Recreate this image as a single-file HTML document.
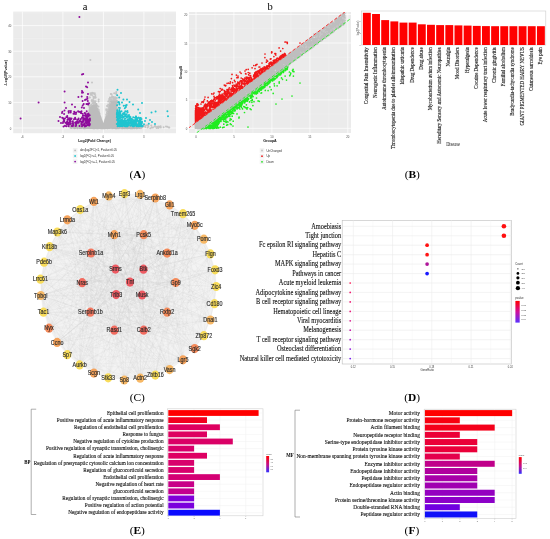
<!DOCTYPE html>
<html><head><meta charset="utf-8"><title>Figure</title>
<style>html,body{margin:0;padding:0;background:#fff;} svg{display:block;}</style></head>
<body><svg width="550" height="539" viewBox="0 0 550 539">
<rect width="550" height="539" fill="#fff"/>
<rect x='13.2' y='11.6' width='162.8' height='121.6' fill='#ebebeb'/>
<line x1='42.7' y1='11.6' x2='42.7' y2='133.2' stroke='#f4f4f4' stroke-width='0.4'/>
<line x1='83.2' y1='11.6' x2='83.2' y2='133.2' stroke='#f4f4f4' stroke-width='0.4'/>
<line x1='123.7' y1='11.6' x2='123.7' y2='133.2' stroke='#f4f4f4' stroke-width='0.4'/>
<line x1='164.2' y1='11.6' x2='164.2' y2='133.2' stroke='#f4f4f4' stroke-width='0.4'/>
<line x1='13.2' y1='115.2' x2='176' y2='115.2' stroke='#f4f4f4' stroke-width='0.4'/>
<line x1='13.2' y1='89.6' x2='176' y2='89.6' stroke='#f4f4f4' stroke-width='0.4'/>
<line x1='13.2' y1='64.0' x2='176' y2='64.0' stroke='#f4f4f4' stroke-width='0.4'/>
<line x1='13.2' y1='38.4' x2='176' y2='38.4' stroke='#f4f4f4' stroke-width='0.4'/>
<line x1='13.2' y1='12.8' x2='176' y2='12.8' stroke='#f4f4f4' stroke-width='0.4'/>
<line x1='22.4' y1='11.6' x2='22.4' y2='133.2' stroke='#fff' stroke-width='0.7'/>
<line x1='62.9' y1='11.6' x2='62.9' y2='133.2' stroke='#fff' stroke-width='0.7'/>
<line x1='103.4' y1='11.6' x2='103.4' y2='133.2' stroke='#fff' stroke-width='0.7'/>
<line x1='143.9' y1='11.6' x2='143.9' y2='133.2' stroke='#fff' stroke-width='0.7'/>
<line x1='13.2' y1='128.0' x2='176' y2='128.0' stroke='#fff' stroke-width='0.7'/>
<line x1='13.2' y1='102.4' x2='176' y2='102.4' stroke='#fff' stroke-width='0.7'/>
<line x1='13.2' y1='76.8' x2='176' y2='76.8' stroke='#fff' stroke-width='0.7'/>
<line x1='13.2' y1='51.2' x2='176' y2='51.2' stroke='#fff' stroke-width='0.7'/>
<line x1='13.2' y1='25.6' x2='176' y2='25.6' stroke='#fff' stroke-width='0.7'/>
<path d='M93.0 124.2h0M116.2 123.8h0M108.0 125.3h0M74.1 125.9h0M72.7 125.6h0M75.0 123.9h0M100.1 127.5h0M78.8 124.6h0M114.5 128.0h0M111.0 125.4h0M139.3 123.7h0M131.0 124.9h0M80.2 124.1h0M91.9 127.4h0M82.8 126.3h0M115.4 125.3h0M108.9 123.8h0M74.2 124.5h0M118.3 125.6h0M92.3 126.3h0M102.2 124.9h0M126.4 126.9h0M87.3 126.3h0M107.3 127.7h0M121.8 124.9h0M139.6 124.1h0M99.7 127.1h0M80.8 125.8h0M72.8 126.7h0M124.3 126.3h0M132.2 125.0h0M119.4 126.4h0M111.2 125.7h0M129.6 128.0h0M103.7 126.7h0M74.3 126.9h0M115.9 128.3h0M128.4 124.9h0M97.4 126.7h0M71.6 125.7h0M81.9 124.1h0M74.2 127.2h0M79.2 124.7h0M97.8 127.7h0M75.7 125.7h0M109.0 127.7h0M128.2 127.6h0M89.8 125.5h0M95.5 127.7h0M138.0 124.2h0M82.5 124.6h0M86.6 125.8h0M111.8 124.8h0M70.3 125.5h0M96.2 126.2h0M137.7 126.8h0M106.6 126.5h0M118.0 123.8h0M133.9 127.2h0M132.1 127.3h0M97.9 125.4h0M77.4 126.5h0M74.4 123.8h0M84.8 124.3h0M94.1 123.8h0M70.0 124.2h0M77.2 125.2h0M71.8 127.7h0M113.6 124.2h0M87.9 125.2h0M95.9 124.1h0M130.3 128.3h0M103.1 125.8h0M76.1 124.0h0M94.3 124.8h0M128.8 124.3h0M71.6 128.1h0M107.5 124.2h0M108.6 123.6h0M107.5 128.2h0M131.3 126.8h0M88.5 125.3h0M81.9 127.2h0M107.8 127.2h0M93.4 124.6h0M127.6 128.2h0M130.5 127.4h0M128.1 127.1h0M86.1 126.0h0M95.2 123.6h0M72.0 124.8h0M88.4 126.8h0M137.9 125.6h0M136.5 128.2h0M137.8 125.3h0M85.7 124.6h0M84.0 124.5h0M114.3 127.8h0M129.7 125.8h0M116.4 127.3h0M76.0 126.7h0M134.6 127.3h0M123.3 125.8h0M82.7 127.3h0M93.6 127.3h0M139.0 125.4h0M98.5 128.0h0M121.5 124.3h0M79.0 124.2h0M134.2 127.4h0M80.4 127.5h0M139.6 126.7h0M94.9 126.1h0M79.3 123.6h0M138.9 126.6h0M107.4 128.0h0M100.8 127.7h0M128.7 124.5h0M87.9 124.9h0M87.1 126.3h0M88.4 125.5h0M79.3 127.9h0M95.1 125.7h0M111.4 127.8h0M99.9 127.9h0M105.6 126.1h0M107.2 123.6h0M101.2 124.4h0M70.3 127.3h0M82.2 125.8h0M121.5 126.2h0M93.1 126.0h0M109.4 127.3h0M77.5 126.2h0M87.6 124.8h0M124.8 125.9h0M109.9 127.1h0M134.8 125.6h0M113.5 125.9h0M106.4 126.8h0M102.1 126.1h0M103.9 128.0h0M119.6 127.7h0M136.9 124.7h0M109.7 128.0h0M129.6 124.2h0M78.6 125.6h0M75.2 124.7h0M75.2 126.7h0M125.7 127.8h0M81.0 126.9h0M116.9 124.2h0M132.7 128.1h0M85.6 128.1h0M98.3 125.8h0M140.3 127.5h0M81.5 125.6h0M106.6 125.1h0M83.9 125.0h0M121.3 123.6h0M109.3 125.6h0M71.3 125.1h0M114.3 126.0h0M74.6 128.2h0M126.0 128.2h0M77.4 124.8h0M72.8 127.2h0M89.2 124.1h0M100.0 127.9h0M128.1 124.7h0M80.6 127.9h0M110.5 126.9h0M76.4 123.8h0M118.9 125.5h0M75.1 128.0h0M115.0 127.3h0M75.9 127.6h0M74.7 127.6h0M102.2 125.1h0M109.3 127.9h0M89.0 124.1h0M107.4 124.6h0M77.8 124.3h0M73.6 124.5h0M92.2 125.0h0M123.9 124.9h0M105.5 124.4h0M94.6 123.6h0M87.8 123.6h0M122.0 126.1h0M83.5 125.8h0M136.4 124.0h0M128.1 125.6h0M105.1 127.5h0M97.9 125.9h0M118.8 128.2h0M94.3 127.5h0M120.2 126.6h0M98.7 125.2h0M73.9 124.1h0M75.0 127.1h0M88.1 124.3h0M76.0 127.5h0M131.8 126.7h0M90.0 124.7h0M90.8 125.7h0M81.2 125.6h0M88.7 128.1h0M139.1 126.1h0M87.4 128.1h0M92.0 125.2h0M70.1 125.3h0M103.7 125.9h0M84.3 125.9h0M70.4 124.8h0M76.4 125.4h0M73.0 123.6h0M91.6 124.6h0M111.6 126.0h0M123.3 126.7h0M120.8 127.7h0M97.7 125.1h0M139.9 124.2h0M121.4 126.6h0M73.1 127.5h0M133.3 126.5h0M122.1 127.4h0M79.9 126.0h0M105.8 127.5h0M127.1 127.5h0M111.5 127.8h0M118.5 126.8h0M86.3 123.6h0M79.4 125.2h0M77.4 127.5h0M109.7 126.5h0M114.5 126.8h0M104.7 123.5h0M126.6 127.1h0M105.7 126.1h0M116.8 123.8h0M122.3 124.7h0M75.3 124.8h0M121.8 124.5h0M122.5 128.2h0M105.1 125.3h0M104.0 126.8h0M124.5 126.5h0M115.6 123.9h0M80.5 124.7h0M122.8 125.0h0M110.3 123.6h0M74.3 124.8h0M117.7 126.8h0M118.0 124.9h0M106.7 125.7h0M133.5 124.5h0M139.4 128.0h0M71.2 125.7h0M128.2 128.1h0M101.9 124.8h0M84.9 128.0h0M85.0 126.3h0M80.1 126.0h0M137.6 124.1h0M128.2 125.9h0M133.0 126.9h0M86.4 127.8h0M104.5 123.6h0M70.3 125.9h0M102.0 124.9h0M80.0 125.2h0M92.4 127.5h0M70.1 127.1h0M129.6 124.1h0M135.8 126.9h0M134.0 124.9h0M96.4 125.4h0M140.9 126.3h0M95.6 125.6h0M89.5 123.7h0M77.2 127.5h0M90.3 128.0h0M87.7 124.8h0M106.3 124.4h0M96.5 128.1h0M132.8 127.4h0M114.8 127.9h0M136.8 126.1h0M121.1 123.7h0M122.0 125.7h0M123.4 126.6h0M90.3 123.7h0M135.8 124.1h0M91.1 127.0h0M139.3 124.7h0M116.6 124.9h0M109.6 125.4h0M81.9 124.3h0M84.8 127.8h0M105.3 124.6h0M134.3 128.3h0M101.9 124.2h0M83.7 123.9h0M94.3 123.9h0M87.0 124.7h0M110.4 127.8h0M123.2 125.5h0M99.4 126.0h0M96.8 125.1h0M74.4 124.8h0M138.7 124.1h0M105.7 126.5h0M131.3 124.5h0M89.2 124.7h0M98.4 125.6h0M137.7 127.6h0M132.0 123.6h0M72.3 126.9h0M133.6 125.8h0M111.7 123.5h0M97.8 127.9h0M128.6 127.6h0M139.0 124.7h0M77.7 124.2h0M107.1 126.8h0M136.8 127.0h0M116.0 127.2h0M102.5 126.1h0M72.8 127.3h0M86.5 127.9h0M115.8 125.0h0M79.1 124.7h0M115.2 126.9h0M78.0 123.8h0M107.2 126.3h0M97.6 124.6h0M112.7 123.6h0M91.4 125.7h0M138.1 126.6h0M132.7 125.8h0M86.7 124.7h0M138.2 126.9h0M91.8 123.6h0M105.4 126.7h0M99.8 124.7h0M117.4 127.9h0M86.1 123.7h0M94.0 125.5h0M118.5 124.5h0M126.6 127.0h0M105.8 124.5h0M138.9 125.0h0M128.2 124.6h0M85.7 127.2h0M90.9 128.1h0M105.2 124.4h0M85.9 125.5h0M117.2 128.1h0M80.4 125.4h0M85.1 128.2h0M80.1 123.7h0M74.3 125.4h0M133.8 127.7h0M122.0 128.3h0M136.1 125.1h0M83.2 128.0h0M123.0 123.7h0M117.2 125.3h0M96.5 125.1h0M82.0 123.5h0M89.9 125.2h0M137.8 124.1h0M138.5 124.5h0M95.3 127.4h0M128.4 125.6h0M73.5 125.8h0M96.5 127.9h0M83.7 125.2h0M133.7 123.6h0M99.2 127.4h0M124.4 123.7h0M72.5 123.8h0M135.3 124.7h0M123.1 127.8h0M94.1 124.8h0M138.0 126.5h0M88.6 126.9h0M92.5 124.8h0M70.3 127.1h0M135.1 126.5h0M137.0 123.6h0M86.6 125.8h0M137.9 128.1h0M97.4 124.7h0M100.5 125.9h0M135.9 124.4h0M127.0 127.0h0M128.4 127.2h0M113.1 125.1h0M92.7 125.2h0M125.5 123.9h0M84.0 127.1h0M87.6 123.8h0M72.4 126.2h0M93.1 128.2h0M132.7 128.2h0M88.8 123.9h0M76.8 125.9h0M120.4 125.6h0M86.6 125.5h0M114.0 126.7h0M123.1 127.6h0M117.2 124.1h0M129.7 124.9h0M110.2 125.3h0M122.4 124.5h0M87.6 124.7h0M80.9 127.7h0M111.1 125.1h0M98.1 128.3h0M106.0 124.6h0M127.4 126.6h0M140.4 124.0h0M103.7 127.4h0M129.7 127.9h0M72.9 124.9h0M78.5 124.4h0M139.1 126.3h0M136.0 125.3h0M131.5 125.7h0M88.5 127.2h0M137.1 124.0h0M112.3 126.5h0M85.5 125.3h0M80.0 124.5h0M88.1 126.4h0M116.3 124.5h0M70.8 125.1h0M118.2 124.4h0M92.2 124.5h0M126.5 126.1h0M74.5 124.0h0M98.1 126.1h0M115.4 123.9h0M81.6 126.8h0M99.1 124.9h0M91.8 128.1h0M92.2 126.2h0M95.4 125.5h0M131.4 128.3h0M95.8 124.4h0M121.7 124.5h0M70.4 127.8h0M100.1 127.4h0M98.8 127.7h0M102.7 124.3h0M71.1 126.1h0M115.5 127.9h0M76.3 126.5h0M96.3 125.9h0M80.4 124.9h0M107.0 127.9h0M77.7 125.9h0M127.1 128.1h0M84.0 124.1h0M137.0 128.2h0M104.3 123.8h0M135.8 125.4h0M134.2 126.5h0M128.5 124.3h0M125.8 124.6h0M98.7 127.6h0M128.9 124.4h0M85.5 125.4h0M106.8 125.3h0M78.7 124.7h0M121.5 127.8h0M72.9 126.2h0M123.8 123.7h0M129.5 124.1h0M112.6 126.1h0M114.5 125.0h0M99.8 126.3h0M100.2 126.7h0M101.7 125.6h0M71.7 126.5h0M104.8 124.6h0M124.2 127.2h0M102.5 124.4h0M79.1 125.6h0M76.5 125.6h0M106.2 123.7h0M115.2 123.9h0M122.1 127.2h0M106.3 123.8h0M105.8 125.3h0M137.5 124.2h0M130.9 128.3h0M122.0 127.4h0M83.8 128.2h0M104.9 128.1h0M135.0 124.3h0M126.0 128.0h0M74.7 125.2h0M123.7 124.3h0M133.7 124.8h0M127.9 124.2h0M105.7 127.9h0M84.8 124.8h0M105.9 125.0h0M72.6 124.4h0M81.4 128.0h0M118.3 127.8h0M82.0 127.3h0M78.2 126.0h0M115.2 125.2h0M132.0 126.2h0M111.2 127.7h0M77.4 128.3h0M114.7 125.4h0M126.6 124.8h0M140.3 126.3h0M95.6 127.2h0M101.4 124.3h0M122.8 123.7h0M128.2 124.7h0M115.4 128.2h0M111.6 126.7h0M92.2 123.5h0M72.4 124.2h0M113.7 125.6h0M106.4 127.8h0M79.4 124.6h0M116.4 123.6h0M70.2 125.2h0M77.6 125.2h0M85.9 126.3h0M111.8 124.5h0M114.3 125.8h0M79.6 128.0h0M87.3 124.2h0M76.8 126.6h0M131.9 127.3h0M98.5 124.8h0M70.8 126.6h0M109.9 125.2h0M115.8 125.6h0M136.5 127.0h0M87.6 127.8h0M73.1 126.1h0M98.8 124.6h0M74.1 127.2h0M70.9 126.1h0M136.8 124.2h0M84.2 126.4h0M106.0 126.6h0M127.8 124.3h0M92.0 124.9h0M73.4 127.8h0M125.6 126.9h0M70.5 127.6h0M122.9 125.7h0M122.7 125.7h0M86.0 124.0h0M86.5 123.7h0M93.8 127.1h0M119.4 127.6h0M120.5 124.8h0M109.3 125.6h0M126.0 126.0h0M88.8 126.6h0M138.5 124.5h0M132.5 123.6h0M88.5 124.6h0M122.8 128.0h0M123.0 125.1h0M132.5 125.1h0M87.0 127.9h0M114.8 126.8h0M117.2 128.2h0M103.3 127.5h0M119.5 127.6h0M101.0 127.0h0M110.5 125.0h0M85.0 126.5h0M75.5 127.9h0M80.3 123.6h0M77.6 128.0h0M94.5 124.2h0M72.0 123.7h0M119.2 126.5h0M119.5 127.0h0M74.7 126.3h0M95.8 127.4h0M128.2 127.8h0M74.7 127.7h0M134.9 128.0h0M77.6 124.5h0M77.9 123.7h0M130.2 127.4h0M115.0 127.5h0M114.8 124.9h0M77.1 124.0h0M123.8 124.5h0M92.7 125.5h0M71.5 124.7h0M90.1 126.9h0M96.1 125.0h0M138.4 125.9h0M130.4 126.5h0M72.2 125.5h0M101.0 127.2h0M94.6 126.9h0M108.2 124.5h0M131.2 123.9h0M128.2 124.3h0M70.1 124.5h0M124.1 128.2h0M70.3 125.9h0M104.9 127.3h0M83.1 125.9h0M94.7 127.5h0M88.5 128.0h0M90.1 124.5h0M119.7 125.9h0M77.8 126.6h0M75.7 127.3h0M119.5 127.3h0M114.6 125.2h0M98.5 125.4h0M133.2 123.9h0M133.1 123.6h0M84.6 124.8h0M134.0 125.9h0M96.9 127.7h0M86.6 125.7h0M107.7 127.1h0M123.5 126.6h0M94.7 125.1h0M81.0 127.5h0M117.0 127.1h0M82.0 125.6h0M124.9 126.3h0M79.0 125.7h0M132.8 124.6h0M83.6 124.9h0M96.5 119.6h0M101.0 123.6h0M95.1 127.0h0M92.3 121.0h0M94.8 122.6h0M91.0 127.9h0M94.3 105.7h0M93.2 114.2h0M89.5 115.5h0M95.2 120.9h0M94.3 110.7h0M92.5 122.3h0M102.6 126.0h0M92.4 123.7h0M94.8 109.2h0M91.1 123.2h0M100.7 124.4h0M95.9 117.5h0M92.5 127.5h0M94.3 119.6h0M100.8 126.4h0M95.9 110.9h0M97.0 108.6h0M101.1 122.1h0M101.3 121.8h0M94.6 110.3h0M95.3 108.4h0M89.3 122.2h0M93.3 110.5h0M93.6 116.0h0M95.3 119.4h0M98.6 117.2h0M102.4 127.5h0M90.1 124.5h0M102.1 126.9h0M91.3 124.5h0M98.2 109.9h0M89.5 127.2h0M98.5 115.1h0M90.7 108.9h0M92.6 123.1h0M94.2 108.0h0M102.0 127.0h0M91.7 125.8h0M97.9 124.0h0M98.7 126.5h0M100.4 126.4h0M92.1 121.2h0M96.8 122.3h0M95.5 125.4h0M97.1 112.0h0M92.6 108.2h0M96.3 105.0h0M95.9 107.2h0M96.2 115.9h0M96.9 125.2h0M89.4 124.8h0M95.9 117.5h0M98.7 125.6h0M94.6 114.3h0M102.8 124.7h0M98.3 121.6h0M89.7 119.7h0M98.9 127.2h0M94.0 127.9h0M96.5 115.8h0M102.0 121.8h0M99.4 122.7h0M94.1 125.0h0M94.5 115.7h0M96.7 122.9h0M92.3 115.2h0M95.3 117.4h0M101.0 121.3h0M101.0 122.4h0M96.4 110.5h0M96.4 127.7h0M98.5 124.6h0M94.0 112.0h0M93.5 118.5h0M98.3 124.3h0M89.9 122.1h0M101.8 125.0h0M90.0 112.7h0M89.4 110.5h0M102.3 126.1h0M98.6 124.6h0M102.1 125.9h0M98.0 121.1h0M99.1 121.9h0M98.9 115.3h0M98.7 119.0h0M100.1 116.8h0M91.9 106.1h0M100.2 127.2h0M98.5 117.2h0M100.9 126.1h0M97.2 112.1h0M93.6 114.6h0M93.8 114.8h0M98.3 127.1h0M90.1 118.7h0M89.9 108.7h0M100.7 123.8h0M102.3 125.1h0M89.5 114.8h0M97.6 127.0h0M103.1 126.7h0M95.1 106.5h0M98.4 114.0h0M91.4 105.8h0M89.4 121.3h0M91.0 127.5h0M90.5 125.4h0M91.1 106.0h0M99.4 117.1h0M99.6 116.8h0M90.0 123.3h0M99.4 126.1h0M99.6 115.2h0M98.2 122.8h0M95.8 126.6h0M92.9 127.5h0M99.4 113.6h0M89.5 120.6h0M100.8 118.8h0M93.7 121.9h0M91.6 125.1h0M96.2 105.0h0M94.5 118.1h0M95.5 120.4h0M91.3 123.7h0M94.4 119.8h0M98.2 117.4h0M94.7 123.1h0M102.6 127.3h0M97.3 113.0h0M90.2 127.7h0M99.2 125.6h0M94.0 118.9h0M103.1 127.8h0M97.8 114.4h0M95.3 125.6h0M94.6 120.7h0M97.8 126.2h0M100.7 120.6h0M89.3 112.1h0M95.3 118.2h0M100.8 127.1h0M89.9 124.6h0M100.7 126.9h0M97.4 112.7h0M101.3 126.6h0M99.0 126.9h0M94.2 106.4h0M97.1 123.8h0M92.1 122.5h0M102.4 124.3h0M97.9 121.9h0M95.9 108.8h0M92.9 122.5h0M100.5 122.1h0M90.5 123.9h0M100.2 118.8h0M97.5 126.1h0M101.8 124.8h0M96.0 118.2h0M92.0 109.7h0M91.8 121.4h0M94.4 117.8h0M95.0 116.6h0M91.4 106.5h0M103.4 126.9h0M90.8 120.0h0M100.4 118.4h0M97.7 115.0h0M96.6 105.0h0M89.8 128.1h0M101.5 124.1h0M97.3 112.3h0M100.3 121.4h0M102.6 127.2h0M100.8 127.9h0M92.9 105.8h0M92.1 109.3h0M90.5 107.0h0M97.2 125.4h0M95.8 127.0h0M102.1 122.5h0M97.7 116.1h0M91.0 127.4h0M92.9 118.1h0M98.3 127.5h0M98.7 118.0h0M95.6 107.7h0M102.9 128.3h0M92.4 105.9h0M92.9 113.1h0M102.0 127.7h0M101.1 119.3h0M100.4 124.9h0M98.4 128.0h0M90.1 109.2h0M99.9 127.5h0M98.8 116.6h0M97.6 123.3h0M90.8 113.0h0M92.9 107.8h0M96.1 107.8h0M92.7 108.3h0M98.9 111.9h0M99.4 116.3h0M89.8 126.7h0M92.4 126.8h0M101.5 127.4h0M91.3 115.7h0M90.7 126.7h0M101.2 124.9h0M95.7 112.1h0M100.9 123.0h0M98.2 112.1h0M92.4 106.4h0M99.4 121.6h0M91.3 125.4h0M93.1 114.5h0M91.5 111.6h0M101.1 122.1h0M91.7 116.6h0M93.8 126.0h0M90.9 127.8h0M90.1 126.0h0M98.7 114.8h0M96.0 110.7h0M92.9 109.6h0M94.4 128.1h0M103.4 128.1h0M90.7 112.3h0M101.9 121.9h0M99.5 118.1h0M103.1 125.3h0M100.7 121.2h0M91.3 105.6h0M101.0 123.7h0M91.9 115.3h0M102.2 123.6h0M97.4 109.8h0M91.8 123.0h0M99.3 116.2h0M90.4 107.8h0M97.9 118.3h0M93.2 109.6h0M97.9 122.6h0M100.7 123.9h0M92.2 106.7h0M99.6 119.9h0M99.5 114.5h0M100.7 121.2h0M101.2 127.0h0M96.3 103.9h0M102.1 125.1h0M101.6 122.5h0M91.9 124.4h0M94.5 108.2h0M94.5 118.5h0M89.4 117.7h0M95.6 116.4h0M91.0 121.8h0M100.8 126.9h0M93.8 121.4h0M94.7 122.3h0M90.2 125.5h0M102.8 126.2h0M96.5 117.0h0M96.9 105.8h0M102.9 125.5h0M91.9 107.6h0M92.8 124.0h0M89.7 108.3h0M99.2 115.7h0M89.5 119.4h0M97.4 118.2h0M99.2 114.4h0M101.6 126.0h0M89.9 108.8h0M96.3 115.9h0M93.2 107.6h0M95.0 107.3h0M97.6 125.4h0M91.4 118.5h0M99.8 117.0h0M100.9 127.7h0M94.8 114.3h0M101.1 123.9h0M94.9 126.9h0M100.3 120.3h0M92.7 112.8h0M95.4 127.8h0M100.6 127.3h0M100.8 126.7h0M90.1 117.5h0M102.8 128.0h0M92.8 114.8h0M98.2 116.4h0M96.8 106.6h0M95.4 116.2h0M89.6 109.3h0M103.0 127.5h0M102.5 126.5h0M100.7 127.1h0M101.8 121.2h0M98.3 114.9h0M98.9 116.2h0M96.9 126.6h0M98.1 113.9h0M96.6 114.9h0M102.7 125.2h0M93.6 119.9h0M91.0 119.1h0M102.8 126.3h0M93.1 115.8h0M96.8 108.6h0M91.0 108.6h0M93.4 114.3h0M93.4 110.4h0M90.5 118.1h0M101.1 124.7h0M97.3 120.8h0M92.1 121.6h0M95.8 117.2h0M97.9 117.9h0M93.7 110.3h0M92.4 117.0h0M94.7 118.3h0M89.5 114.0h0M101.5 122.0h0M97.1 117.1h0M93.3 128.0h0M93.5 122.9h0M91.5 106.9h0M101.6 123.9h0M90.2 114.6h0M95.5 121.8h0M90.8 110.8h0M102.8 127.3h0M91.5 113.1h0M94.3 120.5h0M98.0 125.4h0M100.9 123.4h0M99.7 124.7h0M100.0 121.5h0M100.4 124.9h0M102.2 123.1h0M101.6 120.4h0M100.1 123.1h0M96.3 127.4h0M97.4 115.8h0M100.3 126.8h0M97.9 116.0h0M95.7 115.0h0M99.5 118.0h0M94.8 117.5h0M94.7 111.9h0M100.4 126.5h0M96.3 114.6h0M91.9 112.3h0M91.3 118.6h0M97.5 109.2h0M102.3 124.4h0M101.2 126.8h0M102.8 125.1h0M95.3 126.1h0M89.5 107.3h0M97.3 117.4h0M102.3 127.0h0M96.9 128.3h0M96.6 116.8h0M99.0 118.3h0M94.3 118.6h0M94.3 127.1h0M98.8 120.4h0M90.7 114.2h0M95.0 117.7h0M97.4 125.7h0M102.9 126.4h0M95.5 119.1h0M103.3 126.8h0M96.8 124.0h0M91.7 112.6h0M103.1 127.8h0M96.5 106.9h0M101.9 126.2h0M100.9 128.2h0M101.8 124.2h0M91.5 112.1h0M96.5 116.3h0M92.0 109.4h0M98.2 120.8h0M94.3 128.2h0M98.3 110.6h0M95.1 123.1h0M93.6 121.0h0M89.4 113.0h0M101.2 124.5h0M98.7 114.6h0M96.3 117.2h0M93.1 120.0h0M96.8 128.2h0M97.4 115.8h0M91.0 109.2h0M100.0 116.7h0M90.7 109.6h0M96.7 124.1h0M97.9 124.5h0M90.2 106.2h0M100.2 119.9h0M99.4 118.6h0M91.7 111.5h0M90.7 126.1h0M97.5 114.7h0M95.6 113.2h0M90.1 125.9h0M97.5 127.5h0M95.5 119.0h0M92.8 105.9h0M102.4 127.5h0M93.7 125.9h0M100.8 121.1h0M97.8 127.5h0M96.3 127.1h0M92.7 114.0h0M99.4 116.8h0M93.7 125.3h0M96.1 123.2h0M92.7 109.0h0M94.4 108.8h0M103.0 125.9h0M97.2 108.9h0M96.8 114.1h0M95.0 105.6h0M91.0 124.3h0M94.3 110.2h0M92.0 111.8h0M92.6 105.8h0M98.7 116.9h0M91.5 121.6h0M90.6 111.9h0M101.1 120.0h0M95.6 124.3h0M100.6 119.1h0M94.3 121.6h0M94.6 127.3h0M92.2 127.2h0M96.4 109.4h0M95.7 107.0h0M99.3 117.0h0M102.0 125.6h0M94.5 110.2h0M97.9 112.7h0M101.6 121.4h0M96.5 117.3h0M93.1 122.9h0M94.7 120.0h0M97.3 113.4h0M94.8 106.2h0M91.8 124.9h0M93.8 120.3h0M90.8 118.4h0M94.4 116.3h0M93.5 106.2h0M93.7 109.9h0M91.1 121.9h0M93.3 114.2h0M102.1 126.9h0M101.7 127.3h0M91.2 111.8h0M89.7 121.2h0M98.7 117.1h0M95.1 120.0h0M99.2 116.5h0M101.2 122.5h0M98.2 112.9h0M90.9 126.3h0M99.7 124.2h0M89.9 107.0h0M91.6 109.9h0M93.6 113.6h0M89.9 113.0h0M98.3 113.2h0M101.1 124.3h0M99.4 117.2h0M95.4 120.6h0M94.2 104.4h0M101.1 126.2h0M93.3 105.7h0M101.3 124.9h0M90.0 111.5h0M90.9 123.6h0M92.3 126.3h0M99.9 116.1h0M99.1 118.7h0M99.8 126.0h0M93.3 106.8h0M102.6 125.7h0M102.4 126.7h0M99.7 125.9h0M98.2 118.0h0M90.1 121.6h0M95.3 116.4h0M102.4 123.6h0M100.0 116.0h0M99.2 125.3h0M93.0 117.7h0M103.0 127.0h0M97.0 111.3h0M90.1 114.0h0M95.1 108.9h0M93.7 107.8h0M99.3 123.2h0M92.7 110.6h0M96.6 115.0h0M102.5 125.1h0M93.5 125.6h0M91.3 118.3h0M94.0 123.9h0M97.0 122.9h0M91.7 120.6h0M97.7 117.4h0M100.1 126.2h0M90.9 112.2h0M94.4 109.2h0M90.2 112.2h0M92.1 121.4h0M95.6 106.5h0M93.9 115.6h0M94.4 108.3h0M90.3 106.1h0M103.3 127.7h0M90.5 121.9h0M103.1 127.0h0M90.8 116.7h0M95.4 108.5h0M97.0 105.8h0M102.3 126.3h0M98.2 127.1h0M98.5 115.0h0M92.8 108.2h0M89.7 123.3h0M101.1 121.7h0M91.9 120.0h0M101.2 127.6h0M91.7 123.4h0M101.0 125.8h0M93.9 108.9h0M100.9 121.5h0M94.5 117.5h0M94.5 124.2h0M92.7 105.9h0M97.3 120.3h0M100.9 125.3h0M102.1 127.9h0M96.3 115.9h0M91.5 112.3h0M97.5 109.0h0M99.0 114.8h0M95.5 127.6h0M90.6 106.7h0M95.5 108.5h0M99.5 113.7h0M101.2 127.0h0M100.4 121.6h0M93.3 120.3h0M96.6 114.4h0M94.1 114.9h0M98.7 125.3h0M102.0 122.9h0M93.5 115.1h0M97.2 114.1h0M92.1 107.2h0M93.9 115.4h0M103.0 128.0h0M101.5 128.1h0M102.9 126.8h0M100.7 118.3h0M98.8 121.8h0M93.5 118.1h0M102.7 126.1h0M98.4 115.7h0M94.1 125.5h0M89.7 110.3h0M98.9 119.1h0M90.5 120.7h0M94.5 118.2h0M95.2 116.9h0M97.3 115.2h0M90.9 109.7h0M101.8 125.1h0M90.9 125.2h0M92.9 107.1h0M96.8 110.9h0M96.2 117.3h0M92.5 118.4h0M90.9 117.3h0M97.6 109.3h0M95.1 105.8h0M95.5 125.0h0M97.1 121.9h0M100.0 116.7h0M103.3 127.6h0M90.7 124.5h0M94.8 108.2h0M102.8 126.6h0M100.2 117.7h0M100.2 116.8h0M92.6 113.7h0M89.5 119.3h0M92.3 112.1h0M99.3 119.5h0M101.8 125.6h0M101.6 124.9h0M102.2 127.5h0M91.7 122.5h0M94.1 122.6h0M98.9 125.4h0M91.0 114.1h0M99.7 127.6h0M99.5 114.3h0M97.8 110.3h0M97.0 123.9h0M90.9 126.6h0M98.8 115.8h0M92.0 115.5h0M101.1 124.4h0M90.9 106.1h0M90.9 123.8h0M91.9 118.0h0M93.4 120.9h0M94.7 107.6h0M101.6 124.7h0M99.0 125.2h0M102.7 123.9h0M94.1 108.0h0M96.4 125.2h0M100.6 117.6h0M91.9 124.1h0M98.9 118.2h0M96.0 107.5h0M101.2 122.8h0M101.6 125.3h0M90.4 113.3h0M92.4 125.8h0M97.6 108.6h0M91.7 113.6h0M95.9 117.9h0M94.8 112.7h0M89.4 119.0h0M94.0 104.9h0M95.8 128.0h0M89.9 109.3h0M98.8 116.0h0M93.2 116.5h0M93.0 118.2h0M96.7 127.3h0M103.3 125.9h0M97.2 123.3h0M101.6 126.5h0M98.2 121.5h0M94.4 111.0h0M100.5 126.9h0M102.5 126.7h0M93.6 122.7h0M99.7 121.5h0M98.3 116.2h0M97.1 115.0h0M90.2 113.5h0M93.9 128.0h0M96.1 112.7h0M92.7 110.4h0M94.2 107.6h0M89.4 125.5h0M95.7 114.7h0M97.3 113.3h0M91.7 106.9h0M93.6 111.9h0M99.5 121.8h0M102.5 125.1h0M102.3 125.9h0M90.4 109.9h0M97.5 128.0h0M94.3 122.9h0M95.3 125.1h0M90.3 116.8h0M102.0 123.5h0M92.9 105.4h0M91.6 111.5h0M99.2 116.2h0M94.9 108.9h0M97.8 125.6h0M98.4 113.9h0M99.6 127.8h0M97.8 109.8h0M100.7 127.0h0M94.1 107.6h0M92.0 117.6h0M101.6 125.5h0M102.3 123.9h0M93.9 122.3h0M98.4 117.6h0M98.9 117.3h0M90.1 115.2h0M89.9 120.0h0M94.0 116.2h0M97.7 113.3h0M95.8 104.0h0M102.3 125.9h0M103.2 125.8h0M98.0 122.9h0M93.9 106.7h0M91.5 108.7h0M100.1 116.8h0M100.8 122.2h0M96.9 118.9h0M97.1 120.7h0M97.8 114.9h0M99.7 118.1h0M99.3 124.7h0M100.2 119.9h0M100.2 128.0h0M95.7 110.6h0M96.7 126.9h0M91.2 105.8h0M96.0 119.8h0M100.2 120.5h0M103.3 126.3h0M100.0 116.4h0M89.7 109.1h0M90.1 117.2h0M97.1 110.2h0M102.6 125.2h0M91.4 109.5h0M99.7 127.2h0M91.6 106.1h0M100.3 119.1h0M103.2 126.8h0M98.3 116.2h0M100.6 122.3h0M93.9 126.0h0M90.8 122.3h0M90.2 120.4h0M95.0 125.0h0M90.1 118.6h0M95.1 126.3h0M102.6 126.6h0M92.5 110.9h0M93.0 115.0h0M92.6 109.7h0M100.0 123.7h0M93.5 128.2h0M92.4 118.3h0M91.5 125.2h0M101.6 122.4h0M99.9 125.9h0M93.3 112.5h0M96.1 125.6h0M91.6 121.0h0M97.7 117.2h0M97.5 125.8h0M92.3 125.6h0M94.4 123.0h0M101.5 121.5h0M101.5 128.3h0M93.5 105.2h0M90.9 127.7h0M89.4 126.4h0M91.4 122.3h0M90.7 109.6h0M98.9 113.4h0M94.1 126.4h0M99.4 126.5h0M103.1 125.4h0M92.6 123.5h0M99.0 112.8h0M96.4 109.5h0M95.4 106.4h0M89.6 128.1h0M93.8 125.4h0M91.0 116.7h0M91.2 115.3h0M91.8 121.1h0M91.4 122.3h0M96.4 106.4h0M94.3 116.2h0M102.3 124.5h0M92.3 127.5h0M101.8 126.3h0M93.1 108.9h0M93.0 106.4h0M89.9 117.4h0M95.1 117.5h0M94.4 104.5h0M99.0 122.7h0M97.0 118.1h0M99.0 128.0h0M101.6 126.1h0M94.9 111.8h0M95.2 127.6h0M94.8 113.4h0M95.1 107.5h0M103.4 126.1h0M97.9 126.8h0M92.9 119.2h0M94.6 110.0h0M92.1 107.9h0M101.2 126.3h0M102.1 122.4h0M99.1 117.6h0M98.4 120.2h0M93.8 127.6h0M89.3 122.7h0M101.3 124.0h0M97.7 128.2h0M92.6 119.7h0M99.8 119.8h0M99.3 119.2h0M96.7 119.2h0M98.8 117.0h0M98.2 119.7h0M92.4 119.3h0M93.0 126.2h0M96.0 121.4h0M96.7 115.9h0M92.4 108.4h0M102.4 125.8h0M96.7 117.2h0M100.8 120.3h0M91.7 124.2h0M95.8 119.5h0M101.0 127.3h0M101.5 120.6h0M94.7 124.2h0M100.8 119.2h0M91.5 111.2h0M90.7 113.8h0M100.6 123.0h0M95.7 105.9h0M94.9 128.2h0M99.1 119.6h0M96.0 123.3h0M100.0 117.3h0M98.9 117.8h0M96.6 110.2h0M94.5 112.4h0M94.7 104.6h0M92.1 118.4h0M90.1 110.0h0M99.4 117.6h0M93.9 110.2h0M101.1 119.6h0M98.3 125.7h0M92.1 115.0h0M100.5 123.9h0M94.5 105.3h0M95.5 112.8h0M99.3 117.7h0M95.1 119.8h0M100.7 121.4h0M94.7 118.1h0M102.3 123.9h0M103.0 127.3h0M94.6 120.2h0M93.9 106.1h0M100.0 120.2h0M96.7 116.5h0M102.0 126.7h0M89.7 119.3h0M95.8 115.1h0M101.1 122.8h0M96.0 125.6h0M95.5 115.8h0M96.5 124.1h0M98.8 123.9h0M95.0 105.0h0M98.9 120.9h0M100.1 125.4h0M91.0 110.6h0M90.4 124.2h0M90.7 107.7h0M99.9 122.5h0M90.1 121.2h0M99.3 120.5h0M90.1 121.4h0M95.2 118.2h0M103.4 127.9h0M101.6 121.6h0M94.0 116.8h0M89.4 128.1h0M93.2 110.9h0M93.7 110.6h0M101.4 124.5h0M96.5 114.3h0M90.0 112.8h0M101.5 126.7h0M101.4 121.9h0M92.1 106.4h0M96.9 113.9h0M95.8 115.7h0M97.5 115.1h0M100.6 119.5h0M102.3 125.8h0M90.0 113.0h0M96.8 114.6h0M97.3 113.6h0M93.2 123.5h0M93.4 121.5h0M100.6 123.8h0M95.7 126.7h0M95.6 125.3h0M90.1 115.7h0M98.3 110.8h0M101.5 120.6h0M97.7 111.6h0M102.3 125.8h0M100.6 122.7h0M98.8 122.8h0M93.5 109.6h0M101.1 120.3h0M102.2 123.7h0M90.7 107.9h0M100.4 127.7h0M95.1 120.0h0M92.9 126.1h0M99.0 114.5h0M90.1 121.5h0M89.9 124.7h0M93.4 110.1h0M97.5 114.0h0M97.2 109.7h0M102.2 124.2h0M101.2 120.4h0M100.6 128.1h0M94.8 104.9h0M94.7 119.6h0M92.4 117.7h0M90.6 116.2h0M99.6 120.1h0M98.9 113.6h0M101.0 119.7h0M102.3 128.3h0M102.5 126.0h0M93.4 112.9h0M99.9 121.6h0M102.4 123.5h0M96.1 124.9h0M97.7 119.0h0M90.5 108.9h0M93.1 125.8h0M101.2 121.3h0M102.3 123.0h0M97.7 127.6h0M94.2 127.0h0M98.6 111.6h0M94.0 115.2h0M92.8 122.3h0M91.8 123.4h0M93.5 106.3h0M97.2 108.4h0M97.1 123.6h0M97.7 117.3h0M89.8 117.5h0M90.7 120.3h0M91.2 118.7h0M94.3 113.3h0M98.7 113.8h0M91.7 127.0h0M94.0 124.5h0M101.6 124.2h0M91.4 107.6h0M101.7 121.6h0M96.3 116.8h0M91.0 116.2h0M91.6 117.7h0M96.4 112.9h0M92.1 114.5h0M92.2 108.1h0M92.7 125.3h0M96.4 125.6h0M89.5 127.0h0M96.2 123.1h0M97.3 121.6h0M92.5 122.5h0M91.5 111.5h0M89.7 114.8h0M96.6 111.4h0M101.9 121.9h0M97.5 112.1h0M97.7 123.9h0M99.3 114.1h0M92.8 118.9h0M103.2 125.5h0M98.0 122.3h0M100.8 121.4h0M114.6 113.4h0M116.1 100.9h0M116.4 112.0h0M109.0 109.0h0M106.8 124.7h0M112.8 104.8h0M108.2 112.6h0M106.1 119.4h0M108.0 127.9h0M117.2 122.5h0M110.0 115.9h0M114.2 125.8h0M113.8 118.2h0M106.1 124.0h0M115.1 122.4h0M104.7 126.5h0M108.2 112.8h0M116.7 119.2h0M113.7 104.3h0M114.8 126.6h0M115.9 121.2h0M114.9 122.8h0M111.5 112.7h0M114.8 122.3h0M115.4 108.9h0M116.7 115.3h0M116.5 103.8h0M116.8 122.4h0M106.9 126.0h0M106.6 117.9h0M109.7 110.3h0M110.2 126.0h0M112.9 120.3h0M108.8 123.9h0M114.4 119.5h0M116.4 123.5h0M109.0 109.0h0M112.4 123.8h0M108.1 121.0h0M114.9 122.6h0M103.5 127.1h0M103.6 125.7h0M114.6 112.2h0M111.7 113.3h0M108.0 114.3h0M108.3 125.4h0M111.9 108.7h0M104.6 123.8h0M113.1 112.8h0M112.5 123.0h0M105.1 125.8h0M104.0 127.6h0M105.9 120.5h0M116.6 110.6h0M106.5 126.9h0M111.8 125.4h0M108.8 118.0h0M116.6 114.6h0M117.0 105.8h0M114.9 105.1h0M110.7 101.5h0M105.8 127.7h0M109.7 123.8h0M106.9 119.3h0M104.8 125.2h0M115.3 114.8h0M108.6 126.9h0M115.7 119.1h0M104.4 126.2h0M109.5 127.3h0M108.4 121.8h0M112.1 111.0h0M110.6 119.7h0M115.9 114.4h0M108.4 127.8h0M104.2 127.5h0M112.8 116.0h0M109.6 122.5h0M115.7 120.8h0M113.7 101.6h0M107.9 113.3h0M116.6 125.3h0M105.4 124.6h0M111.4 101.9h0M108.8 123.1h0M112.3 108.4h0M113.9 108.7h0M110.9 112.3h0M116.9 118.6h0M114.5 119.3h0M108.7 127.6h0M113.2 119.7h0M107.2 115.6h0M111.3 123.5h0M114.4 110.2h0M105.3 124.1h0M115.5 105.1h0M113.6 105.3h0M107.7 112.5h0M107.5 118.4h0M116.7 127.3h0M106.0 120.8h0M116.4 106.1h0M107.8 118.7h0M104.9 123.0h0M108.8 115.7h0M116.7 108.0h0M106.2 127.2h0M109.6 124.5h0M112.2 122.2h0M107.7 114.0h0M113.8 113.6h0M111.1 119.2h0M113.8 108.2h0M108.4 126.7h0M110.7 109.1h0M112.1 107.8h0M114.0 101.7h0M114.8 116.3h0M108.3 127.2h0M107.1 117.3h0M104.4 125.9h0M113.8 119.4h0M109.1 124.2h0M104.9 123.2h0M112.3 127.4h0M112.1 119.8h0M114.1 111.5h0M116.4 121.2h0M108.1 117.3h0M114.5 110.3h0M106.0 126.9h0M110.7 115.3h0M112.6 125.6h0M105.2 122.8h0M104.3 125.3h0M110.3 124.5h0M112.6 116.6h0M109.0 119.3h0M107.2 126.0h0M114.3 123.8h0M105.5 125.3h0M113.8 114.5h0M115.8 125.5h0M113.7 123.3h0M112.4 124.9h0M105.2 125.9h0M113.1 117.6h0M107.2 114.3h0M111.7 123.4h0M107.2 116.6h0M106.5 116.9h0M112.7 127.6h0M114.5 110.6h0M113.1 102.6h0M115.0 109.6h0M103.4 127.5h0M105.3 122.1h0M104.2 125.6h0M111.1 123.0h0M103.9 127.6h0M104.9 122.6h0M112.1 110.0h0M108.0 120.7h0M106.4 125.8h0M106.3 126.4h0M114.6 115.5h0M103.8 127.5h0M103.8 126.6h0M109.2 107.7h0M112.1 120.7h0M111.5 111.7h0M110.5 117.6h0M106.5 126.6h0M117.1 122.9h0M116.7 109.7h0M117.0 102.6h0M110.0 107.1h0M109.7 120.9h0M113.2 113.2h0M108.1 113.6h0M109.0 113.2h0M106.1 125.3h0M110.5 113.5h0M106.1 124.9h0M106.1 120.0h0M111.1 120.0h0M116.8 121.3h0M116.5 126.1h0M113.4 120.5h0M104.3 124.3h0M103.6 127.9h0M113.4 118.1h0M107.0 119.0h0M105.7 124.7h0M117.1 109.1h0M104.0 124.9h0M108.3 126.4h0M114.5 113.2h0M104.8 122.1h0M105.5 126.2h0M109.9 128.1h0M116.0 122.6h0M110.0 123.9h0M105.2 121.1h0M111.2 114.7h0M106.3 119.4h0M103.7 128.0h0M113.2 126.8h0M116.9 112.7h0M113.5 111.2h0M114.6 123.9h0M105.2 120.0h0M106.4 123.3h0M108.6 108.6h0M114.9 122.4h0M109.8 105.5h0M115.7 115.4h0M104.4 124.6h0M112.0 125.1h0M110.1 119.3h0M106.2 119.4h0M115.9 111.2h0M104.8 125.4h0M105.1 121.9h0M109.7 118.6h0M112.2 120.2h0M109.5 107.1h0M113.4 102.1h0M109.9 113.8h0M112.7 120.4h0M106.7 123.6h0M113.0 113.7h0M105.4 127.5h0M111.7 102.3h0M106.7 128.1h0M106.6 120.5h0M114.3 123.4h0M112.1 121.1h0M103.9 124.8h0M116.9 122.8h0M103.9 124.6h0M106.7 127.4h0M106.4 124.2h0M116.2 118.3h0M116.1 107.9h0M105.5 119.2h0M113.8 103.5h0M116.8 120.3h0M106.0 126.2h0M105.6 123.5h0M104.9 126.8h0M115.7 126.0h0M103.4 128.0h0M111.1 123.4h0M110.3 118.5h0M111.6 122.7h0M104.5 122.9h0M110.9 108.7h0M108.9 107.7h0M113.7 101.3h0M114.8 123.1h0M109.7 107.6h0M112.4 106.3h0M109.3 108.5h0M116.9 115.7h0M108.3 111.4h0M113.5 124.1h0M115.1 103.4h0M108.5 114.8h0M113.9 104.7h0M111.8 127.7h0M114.0 100.8h0M104.4 123.3h0M113.0 117.2h0M110.6 113.9h0M109.0 120.0h0M112.4 126.0h0M113.5 122.7h0M116.0 123.8h0M113.3 101.4h0M112.8 124.1h0M109.3 125.6h0M105.9 127.7h0M109.5 121.6h0M106.9 118.5h0M108.2 115.8h0M104.7 124.7h0M116.9 118.7h0M116.3 121.7h0M114.9 128.1h0M113.8 108.2h0M106.8 120.2h0M103.7 125.9h0M115.6 126.1h0M107.9 124.3h0M114.1 125.2h0M114.4 115.3h0M104.8 127.1h0M107.7 122.0h0M108.5 119.4h0M116.7 105.1h0M110.7 118.8h0M110.8 126.6h0M109.0 126.5h0M112.9 127.4h0M104.6 123.3h0M107.4 126.8h0M103.6 126.3h0M113.3 128.0h0M105.8 122.5h0M112.9 119.7h0M113.7 121.5h0M106.8 118.1h0M103.8 127.3h0M106.3 119.5h0M116.7 118.4h0M111.6 118.8h0M111.7 119.8h0M107.6 113.0h0M104.3 123.1h0M108.4 111.9h0M105.0 124.6h0M116.8 119.6h0M107.2 124.9h0M105.9 118.9h0M107.6 118.7h0M112.9 112.9h0M113.5 103.2h0M116.3 110.1h0M114.9 101.5h0M114.8 106.9h0M115.2 122.8h0M112.7 108.3h0M103.5 126.2h0M115.9 105.0h0M112.5 116.9h0M112.5 105.6h0M105.4 120.3h0M117.0 111.2h0M112.4 116.4h0M106.5 116.5h0M103.6 127.9h0M105.2 128.0h0M108.4 123.0h0M105.3 126.5h0M106.9 119.5h0M110.6 104.6h0M106.8 125.5h0M107.3 118.7h0M114.0 106.8h0M106.1 119.6h0M108.7 115.5h0M112.3 113.7h0M115.4 102.0h0M112.6 123.8h0M106.6 115.6h0M109.4 108.3h0M109.7 121.5h0M104.7 122.6h0M110.0 108.0h0M106.6 121.1h0M105.0 121.2h0M108.4 118.2h0M116.3 116.0h0M104.4 124.1h0M113.7 116.2h0M115.4 127.3h0M115.2 103.6h0M116.4 115.1h0M106.7 117.2h0M115.3 106.5h0M104.5 123.9h0M116.2 113.4h0M113.5 102.7h0M109.7 112.4h0M106.2 124.3h0M108.4 111.5h0M117.0 113.9h0M105.9 117.9h0M112.4 114.9h0M103.7 126.6h0M113.6 115.5h0M106.6 121.7h0M111.7 118.6h0M105.4 126.6h0M116.4 121.1h0M115.2 110.8h0M115.9 105.6h0M106.5 123.2h0M115.8 102.9h0M106.4 116.5h0M109.5 108.8h0M106.0 125.5h0M111.4 126.6h0M108.9 121.6h0M103.6 128.2h0M106.6 121.5h0M110.5 127.0h0M110.2 128.1h0M112.0 106.6h0M114.9 106.2h0M117.2 113.2h0M106.5 127.8h0M107.8 118.1h0M108.1 122.3h0M103.7 126.3h0M105.6 126.6h0M103.4 127.5h0M107.0 120.6h0M111.2 120.3h0M105.3 121.8h0M105.1 128.0h0M105.5 120.4h0M110.6 117.2h0M115.6 102.2h0M106.6 117.4h0M111.5 113.1h0M109.0 125.9h0M112.5 124.4h0M116.6 108.0h0M116.4 111.9h0M104.1 127.9h0M104.8 121.4h0M107.4 117.1h0M116.7 124.7h0M109.2 118.0h0M115.1 123.0h0M112.4 114.8h0M105.0 122.6h0M112.5 116.8h0M114.5 125.5h0M116.7 105.9h0M104.4 127.7h0M111.3 105.6h0M113.0 107.7h0M106.7 119.9h0M110.6 119.7h0M104.4 126.9h0M112.0 113.7h0M112.7 122.7h0M103.5 127.0h0M112.8 120.2h0M112.3 105.6h0M116.6 122.4h0M106.6 120.9h0M116.6 106.3h0M109.0 127.5h0M115.8 107.0h0M113.5 110.6h0M112.6 121.8h0M105.2 122.0h0M106.4 119.4h0M103.9 125.0h0M109.0 116.0h0M104.5 125.9h0M116.4 116.6h0M108.3 122.7h0M109.4 109.7h0M110.0 104.0h0M112.7 105.1h0M108.5 127.6h0M114.0 123.7h0M112.3 118.2h0M113.1 127.4h0M106.1 125.7h0M107.6 116.2h0M114.7 117.3h0M115.1 124.8h0M111.5 106.1h0M103.6 127.0h0M113.4 108.1h0M104.4 122.9h0M105.8 125.2h0M103.5 126.5h0M107.1 124.1h0M117.0 101.1h0M105.0 127.8h0M116.8 104.7h0M108.0 119.8h0M107.8 118.3h0M110.0 110.1h0M104.2 124.0h0M105.6 119.5h0M112.0 119.9h0M107.0 125.3h0M113.5 110.1h0M110.2 107.9h0M116.2 116.1h0M104.1 124.5h0M113.0 111.3h0M113.3 107.0h0M114.4 122.8h0M104.7 125.6h0M106.0 125.1h0M114.5 122.5h0M106.6 116.6h0M112.6 116.3h0M105.3 121.4h0M111.4 103.6h0M112.1 107.3h0M107.0 120.1h0M110.8 120.8h0M103.8 127.3h0M106.4 119.5h0M112.2 119.7h0M111.9 125.6h0M106.2 120.2h0M112.5 107.8h0M105.6 121.0h0M114.0 123.5h0M113.3 127.2h0M114.4 109.2h0M107.8 123.6h0M104.2 126.5h0M104.6 122.3h0M110.5 106.1h0M116.3 124.9h0M109.8 109.2h0M105.1 124.5h0M110.6 111.4h0M113.3 115.3h0M114.1 103.5h0M104.4 125.0h0M110.1 109.8h0M112.6 106.7h0M107.8 119.4h0M113.2 121.9h0M108.5 117.5h0M116.2 126.5h0M111.9 103.5h0M109.7 119.8h0M107.2 113.7h0M116.9 125.8h0M105.2 123.9h0M111.9 108.9h0M104.3 127.0h0M114.0 112.7h0M104.6 124.6h0M104.7 128.1h0M104.1 125.1h0M114.0 104.3h0M104.9 121.7h0M105.7 123.7h0M114.9 105.3h0M105.8 125.9h0M109.3 113.7h0M105.1 122.3h0M116.8 103.8h0M107.0 124.6h0M115.7 125.6h0M109.9 127.2h0M111.7 108.6h0M109.8 121.5h0M113.5 104.2h0M106.1 127.8h0M104.9 127.0h0M108.1 114.8h0M106.9 120.8h0M117.1 104.7h0M115.2 109.5h0M105.8 125.7h0M108.1 113.6h0M109.2 124.4h0M115.3 116.5h0M103.5 127.7h0M111.8 125.5h0M116.5 109.7h0M115.1 123.3h0M107.1 119.1h0M108.6 115.6h0M108.6 110.6h0M106.5 127.1h0M109.1 120.5h0M115.6 121.5h0M106.8 127.2h0M114.5 128.0h0M113.4 121.5h0M114.6 107.6h0M112.5 111.1h0M115.0 104.3h0M110.8 110.1h0M114.7 110.2h0M115.0 124.1h0M115.5 104.5h0M116.3 121.2h0M112.7 118.7h0M104.1 127.7h0M111.0 113.2h0M108.1 124.4h0M114.2 124.7h0M106.4 120.3h0M106.8 115.9h0M107.9 111.3h0M114.4 106.9h0M104.4 123.3h0M113.6 106.1h0M109.8 114.1h0M114.5 127.0h0M107.7 122.2h0M115.7 113.6h0M115.8 120.9h0M107.7 126.2h0M111.3 103.5h0M111.5 123.6h0M110.6 114.7h0M109.1 125.7h0M112.6 106.4h0M108.4 116.1h0M116.6 119.9h0M105.1 127.6h0M103.9 126.8h0M109.4 122.0h0M109.3 108.1h0M110.6 123.5h0M114.3 110.5h0M106.5 125.1h0M114.5 106.7h0M115.6 128.1h0M109.4 114.4h0M113.2 126.4h0M106.2 120.2h0M107.9 123.6h0M106.0 123.4h0M110.3 119.8h0M105.4 127.9h0M117.2 116.1h0M114.4 105.7h0M116.0 115.9h0M113.9 124.7h0M108.4 126.9h0M106.3 116.7h0M110.3 125.7h0M115.8 127.1h0M110.4 126.5h0M111.1 104.6h0M112.1 122.9h0M109.2 119.6h0M107.0 118.0h0M109.2 117.7h0M109.9 106.5h0M103.5 126.7h0M113.3 121.3h0M106.7 118.5h0M110.5 106.6h0M111.7 125.6h0M106.2 123.5h0M113.3 121.4h0M113.2 120.3h0M107.2 125.9h0M116.2 102.1h0M116.4 112.9h0M104.6 122.6h0M114.4 119.4h0M105.4 123.6h0M112.2 128.2h0M108.0 124.1h0M106.8 117.4h0M105.6 122.6h0M111.9 109.0h0M105.6 120.7h0M104.6 123.4h0M107.8 119.9h0M105.9 122.7h0M109.5 127.7h0M110.1 126.9h0M109.9 108.9h0M111.6 104.6h0M105.7 119.0h0M113.1 127.4h0M109.0 114.7h0M109.3 114.0h0M112.9 111.5h0M105.5 127.0h0M111.3 100.8h0M115.1 120.8h0M108.3 121.4h0M116.1 111.7h0M109.4 112.6h0M111.0 119.0h0M113.5 126.9h0M105.4 122.6h0M115.2 122.5h0M111.5 119.4h0M108.1 127.3h0M111.0 111.7h0M105.9 118.9h0M115.8 122.8h0M103.8 126.0h0M110.0 115.9h0M108.4 126.3h0M108.2 119.6h0M116.2 118.3h0M110.0 112.0h0M108.7 120.4h0M114.2 107.8h0M108.5 116.4h0M108.4 126.6h0M110.8 108.5h0M108.0 125.1h0M105.6 125.3h0M103.7 125.8h0M104.2 127.3h0M105.4 121.4h0M104.2 124.8h0M113.5 120.5h0M116.0 126.8h0M111.0 126.1h0M104.6 127.8h0M109.4 110.2h0M113.7 124.4h0M108.7 110.0h0M115.4 121.5h0M111.6 127.7h0M103.9 124.6h0M105.1 120.5h0M113.2 118.1h0M105.0 122.1h0M105.9 124.2h0M112.7 127.5h0M108.4 127.9h0M109.4 114.6h0M106.9 117.6h0M116.8 128.2h0M113.1 105.5h0M105.9 119.4h0M108.2 123.4h0M104.2 126.0h0M112.8 101.5h0M109.5 123.5h0M111.3 113.1h0M115.6 117.2h0M108.1 117.5h0M116.4 124.4h0M116.0 116.1h0M105.4 121.1h0M108.7 122.1h0M103.5 127.8h0M114.2 114.9h0M103.5 127.8h0M109.1 121.2h0M111.3 120.8h0M109.0 127.4h0M116.6 126.3h0M111.9 109.4h0M108.6 113.8h0M115.9 122.5h0M114.3 123.3h0M117.1 119.7h0M107.8 124.2h0M107.0 122.7h0M105.6 126.9h0M110.1 110.2h0M116.1 102.9h0M116.2 121.6h0M105.5 126.1h0M111.3 125.7h0M111.5 112.4h0M116.3 103.0h0M114.1 103.5h0M107.2 114.9h0M115.4 112.8h0M113.4 107.7h0M113.5 118.6h0M104.7 124.9h0M113.4 106.5h0M112.4 108.3h0M108.5 126.7h0M116.4 128.2h0M109.3 118.8h0M114.6 121.6h0M109.7 125.1h0M108.9 127.3h0M109.9 106.9h0M113.7 104.6h0M112.8 102.1h0M117.0 115.6h0M113.6 104.2h0M112.2 111.0h0M106.8 125.7h0M103.9 126.4h0M104.6 127.4h0M115.7 101.6h0M109.8 115.6h0M113.3 120.8h0M108.1 127.1h0M106.0 119.0h0M114.6 103.9h0M106.0 122.9h0M108.0 113.3h0M116.2 113.7h0M114.2 107.5h0M116.0 106.7h0M115.9 117.6h0M116.8 122.0h0M112.1 115.4h0M115.2 112.9h0M104.8 127.7h0M114.5 119.5h0M113.7 107.0h0M109.8 124.1h0M116.7 126.2h0M105.6 125.3h0M111.0 111.8h0M105.7 119.7h0M109.9 116.1h0M107.1 119.0h0M111.0 121.7h0M111.5 105.1h0M115.6 110.8h0M116.6 127.8h0M105.3 124.7h0M116.7 111.3h0M111.0 109.3h0M103.8 125.6h0M105.1 122.6h0M112.1 116.2h0M116.5 119.6h0M108.4 127.3h0M112.1 115.6h0M115.3 119.2h0M108.4 120.8h0M107.5 127.8h0M106.8 127.9h0M104.3 123.2h0M111.0 106.3h0M110.4 105.5h0M114.9 119.1h0M112.8 126.3h0M117.1 119.4h0M113.2 100.6h0M104.1 125.8h0M116.8 109.3h0M111.2 100.8h0M109.1 126.2h0M111.5 123.4h0M103.6 126.1h0M105.9 126.5h0M104.8 127.8h0M107.1 126.5h0M110.5 110.5h0M116.7 111.8h0M113.0 102.5h0M114.9 127.8h0M104.9 126.5h0M107.1 115.7h0M108.4 121.8h0M116.6 128.1h0M117.1 117.9h0M112.4 105.1h0M113.4 115.9h0M108.4 126.4h0M106.9 116.2h0M105.6 120.2h0M111.5 122.8h0M105.6 123.5h0M111.3 116.1h0M109.1 118.5h0M103.6 125.7h0M109.2 111.6h0M113.8 107.3h0M114.8 107.3h0M104.7 124.9h0M108.7 114.8h0M114.0 106.8h0M112.6 123.7h0M109.6 116.7h0M116.1 117.3h0M105.9 118.4h0M104.5 124.3h0M104.6 126.1h0M109.2 113.1h0M110.5 126.6h0M106.8 116.8h0M107.6 117.2h0M116.0 120.2h0M109.3 109.8h0M104.0 124.6h0M115.1 118.6h0M105.6 124.8h0M104.2 125.9h0M108.0 112.3h0M113.6 120.5h0M110.4 106.6h0M112.6 112.6h0M112.5 103.1h0M115.9 100.7h0M106.5 120.7h0M106.1 117.9h0M112.9 128.1h0M108.0 115.2h0M112.7 106.8h0M108.9 121.8h0M109.3 109.5h0M104.4 125.8h0M117.1 126.1h0M104.8 124.9h0M110.1 108.1h0M112.6 114.3h0M114.6 108.7h0M116.3 123.2h0M109.9 107.4h0M110.1 106.7h0M112.9 119.9h0M111.4 127.6h0M104.0 127.1h0M114.5 103.7h0M107.8 112.0h0M111.4 120.6h0M108.2 122.7h0M108.5 122.7h0M107.2 128.0h0M109.4 105.7h0M104.7 126.5h0M115.3 118.2h0M105.5 127.1h0M113.3 103.8h0M108.7 121.7h0M103.4 126.1h0M108.3 126.0h0M117.1 109.4h0M115.9 122.4h0M115.3 116.9h0M116.8 118.4h0M116.5 116.3h0M106.1 122.9h0M110.1 111.9h0M108.6 118.7h0M111.5 106.8h0M107.2 120.8h0M110.4 113.3h0M112.6 105.7h0M110.7 108.7h0M114.0 120.1h0M114.2 114.9h0M106.8 127.3h0M110.4 112.0h0M107.4 118.9h0M113.2 123.3h0M110.1 121.6h0M106.3 121.7h0M108.3 115.2h0M108.4 123.6h0M113.5 106.3h0M106.6 125.5h0M112.4 119.3h0M112.2 119.8h0M107.2 114.3h0M108.4 109.9h0M116.7 115.1h0M112.6 127.4h0M114.5 107.0h0M108.0 112.3h0M114.4 121.0h0M110.1 112.5h0M107.1 120.7h0M113.2 125.4h0M115.1 124.6h0M109.5 115.2h0M107.7 127.9h0M105.9 119.3h0M107.3 127.1h0M115.2 109.8h0M115.2 125.3h0M109.3 110.4h0M114.1 111.0h0M105.0 127.6h0M109.5 114.6h0M111.6 107.7h0M103.7 126.4h0M108.6 108.6h0M108.5 123.6h0M108.0 122.6h0M112.0 105.8h0M103.7 127.3h0M111.8 108.7h0M106.2 126.6h0M115.9 107.1h0M111.5 116.5h0M107.8 111.7h0M107.9 122.1h0M111.7 114.7h0M105.1 122.1h0M107.7 118.6h0M108.4 126.4h0M105.0 128.2h0M106.7 126.4h0M106.8 122.7h0M108.6 109.3h0M114.4 123.0h0M107.1 125.0h0M110.0 128.0h0M104.2 125.4h0M106.5 123.5h0M114.1 123.9h0M111.0 111.3h0M114.4 103.5h0M107.0 124.8h0M109.5 128.1h0M104.7 124.9h0' stroke='#bcbcbc' stroke-width='2.0' stroke-linecap='round' fill='none'/>
<path d='M157.7 127.8h0M141.8 125.5h0M143.7 126.1h0M151.3 125.5h0M145.6 125.6h0M168.9 127.4h0M141.0 128.2h0M141.0 126.3h0M169.3 127.6h0M158.8 126.4h0M142.6 127.1h0M141.0 125.7h0M147.3 125.1h0M147.6 127.6h0M157.3 126.7h0M155.1 126.5h0M141.6 127.0h0M147.7 127.4h0M166.0 126.4h0M153.0 127.5h0M148.2 125.8h0M158.4 127.9h0M160.4 127.3h0M163.6 127.2h0M155.4 126.5h0M145.3 127.1h0M140.9 126.4h0M160.8 127.4h0M155.0 125.8h0M148.3 126.5h0M154.7 126.4h0M156.6 128.1h0M142.3 127.2h0M160.6 126.3h0M150.3 128.2h0M140.2 126.8h0M141.9 127.6h0M167.4 126.7h0M141.0 126.9h0M151.9 127.4h0M90.3 105.9h0M89.0 105.7h0M92.1 100.2h0M93.6 101.6h0M95.7 97.4h0M98.8 110.0h0M93.6 98.6h0M92.1 92.8h0M90.3 93.2h0M91.9 101.6h0M94.8 97.0h0M91.1 105.0h0M98.5 106.4h0M89.3 97.6h0M93.9 101.0h0M91.6 93.3h0M91.7 100.5h0M98.5 106.6h0M92.4 103.6h0M95.3 95.1h0M92.9 100.2h0M90.6 94.8h0M93.0 93.0h0M92.1 95.1h0M88.3 104.6h0M98.6 101.6h0M95.4 97.8h0M93.2 102.9h0M89.9 97.6h0M95.6 101.2h0M95.1 102.9h0M94.7 102.6h0M93.6 101.3h0M94.1 103.3h0M93.3 96.7h0M89.5 103.0h0M95.5 97.0h0M94.8 93.2h0M94.3 102.2h0M92.9 93.1h0M94.2 94.0h0M92.0 99.9h0M98.7 99.4h0M95.2 103.1h0M94.7 103.9h0M116.3 92.0h0M114.0 99.4h0M115.3 99.9h0M115.1 97.2h0M106.2 109.2h0M110.8 94.1h0M113.6 97.1h0M115.5 99.8h0M115.9 98.8h0M106.3 114.6h0M106.7 114.7h0M112.9 100.2h0M107.8 110.0h0M109.1 99.0h0M116.0 93.3h0M116.9 98.0h0M114.8 99.3h0M116.2 94.0h0M114.1 99.6h0M107.0 105.9h0M112.1 96.3h0M115.5 100.1h0M113.7 97.8h0M114.6 97.8h0M108.2 101.6h0M109.1 101.1h0M115.1 99.5h0M113.6 98.4h0M108.5 108.1h0M116.5 98.6h0M111.6 97.4h0M106.3 110.5h0M114.2 93.2h0M109.9 103.1h0M109.8 98.7h0M113.2 98.3h0M111.8 100.1h0M116.1 97.7h0M111.6 94.3h0M108.2 104.4h0M109.9 97.6h0M107.0 112.5h0M113.0 97.6h0M110.1 99.3h0M108.4 106.6h0' stroke='#c4c4c4' stroke-width='2.0' stroke-linecap='round' fill='none'/>
<path d='M90.4 60.0h0M92.0 82.5h0M111.0 99.0h0' stroke='#c6c6c6' stroke-width='2.0' stroke-linecap='round' fill='none'/>
<path d='M90.0 119.8h0M68.8 122.9h0M76.1 124.5h0M85.6 116.1h0M74.4 113.8h0M74.5 112.2h0M89.1 122.1h0M88.4 125.3h0M83.2 119.1h0M77.7 121.8h0M79.0 122.0h0M68.6 125.9h0M87.5 124.4h0M78.0 119.5h0M70.7 124.0h0M86.9 123.3h0M83.7 118.1h0M75.6 118.9h0M78.6 118.4h0M68.5 111.3h0M86.5 119.8h0M89.3 119.8h0M85.4 120.8h0M70.4 118.5h0M87.0 120.5h0M89.0 124.5h0M62.2 117.8h0M71.6 125.9h0M83.1 118.2h0M64.2 121.5h0M81.9 125.0h0M80.8 121.2h0M66.4 123.4h0M78.3 122.7h0M86.6 125.3h0M89.4 125.4h0M62.9 123.1h0M75.9 114.1h0M88.7 123.9h0M72.6 123.3h0M75.1 117.7h0M81.8 122.9h0M84.5 123.5h0M85.7 120.3h0M78.7 111.8h0M72.5 125.9h0M89.9 120.8h0M87.9 122.0h0M82.5 122.2h0M85.4 113.5h0M82.0 126.2h0M84.9 125.0h0M83.1 120.0h0M89.0 121.5h0M67.1 121.5h0M71.3 118.9h0M79.5 125.9h0M66.2 122.5h0M82.5 121.5h0M65.5 122.8h0M73.2 125.8h0M89.0 123.9h0M89.9 118.6h0M80.9 118.9h0M87.1 118.3h0M87.6 118.7h0M69.2 119.8h0M86.7 111.3h0M72.1 126.0h0M82.7 125.3h0M89.1 123.7h0M77.4 120.0h0M80.2 121.4h0M85.8 120.2h0M86.0 118.3h0M69.9 119.6h0M88.9 122.0h0M72.9 121.2h0M66.4 126.3h0M66.4 117.1h0M86.3 115.0h0M87.4 115.2h0M69.6 118.2h0M67.5 119.8h0M76.5 121.7h0M73.1 123.4h0M89.1 123.3h0M74.0 119.2h0M63.7 121.3h0M83.6 124.2h0M75.3 122.6h0M79.6 126.0h0M63.5 126.4h0M81.1 112.6h0M72.1 125.9h0M68.7 112.7h0M70.4 120.3h0M83.7 125.1h0M68.3 119.0h0M88.3 119.4h0M84.5 118.9h0M73.0 125.1h0M84.7 113.0h0M86.1 117.6h0M82.0 117.6h0M67.6 117.5h0M63.6 119.8h0M89.9 123.9h0M77.6 119.7h0M85.7 113.4h0M62.4 111.8h0M68.1 123.9h0M69.6 122.4h0M69.5 122.4h0M86.2 119.2h0M73.3 124.5h0M76.1 125.8h0M69.5 120.4h0M65.0 118.4h0M84.6 125.9h0M75.5 125.9h0M70.8 121.7h0M71.5 118.5h0M76.3 112.6h0M74.2 111.8h0M88.6 120.5h0M64.1 113.9h0M70.2 119.1h0M63.2 118.2h0M81.5 121.8h0M82.6 113.7h0M68.1 122.8h0M86.8 121.9h0M83.0 122.0h0M84.9 126.5h0M87.4 117.6h0M89.2 121.3h0M68.6 126.2h0M68.6 122.7h0M90.0 119.9h0M76.3 122.4h0M83.6 121.1h0M89.1 124.7h0M77.0 122.9h0M67.2 115.9h0M89.7 115.3h0M85.9 116.4h0M66.3 122.7h0M83.5 124.4h0M76.4 122.4h0M65.0 125.7h0M78.1 111.2h0M81.3 124.0h0M63.3 121.8h0M75.9 123.8h0M64.2 120.4h0M67.0 124.6h0M89.8 124.7h0M86.7 119.5h0M73.4 123.0h0M84.8 126.1h0M70.7 112.6h0M79.6 120.6h0M69.8 122.5h0M70.9 111.1h0M86.1 125.9h0M88.2 113.6h0M78.6 111.4h0M84.7 118.7h0M85.3 122.7h0M88.8 114.3h0M88.5 116.3h0M87.2 116.3h0M86.9 125.3h0M69.0 124.4h0M82.7 105.4h0M82.0 92.7h0M87.4 98.7h0M80.9 113.0h0M83.7 103.9h0M81.8 107.4h0M87.9 114.0h0M85.2 115.3h0M81.7 96.6h0M88.2 103.5h0M83.8 115.5h0M82.6 101.1h0M87.6 115.6h0M87.8 101.0h0M86.0 99.4h0M88.9 115.6h0M87.2 96.9h0M88.9 115.8h0M82.9 115.7h0M83.8 115.7h0M88.1 104.5h0M81.5 111.2h0M79.4 17.0h0M82.0 74.4h0M83.2 74.0h0M88.0 82.4h0M86.0 86.4h0M87.2 87.2h0M64.6 91.6h0M82.0 91.0h0M83.0 92.4h0M78.4 97.0h0M88.0 94.0h0M38.6 102.6h0M64.6 102.6h0M20.6 118.6h0M64.5 110.5h0M62.0 113.0h0M66.0 108.0h0M72.0 104.5h0M69.0 111.0h0M75.0 107.0h0M73.5 113.8h0M60.0 117.0h0M58.5 121.0h0M61.0 123.0h0M85.0 100.0h0M86.5 104.0h0M89.0 103.5h0M84.0 108.0h0M80.0 112.0h0' stroke='#8e0c9c' stroke-width='2.0' stroke-linecap='round' fill='none'/>
<path d='M125.0 126.2h0M122.3 124.5h0M135.2 120.0h0M135.1 122.1h0M132.3 125.7h0M123.3 124.0h0M121.0 117.3h0M119.6 123.4h0M121.0 115.1h0M130.4 122.2h0M123.2 114.6h0M140.5 123.4h0M128.2 116.6h0M120.4 124.2h0M117.8 120.8h0M134.5 125.5h0M124.5 113.7h0M125.8 123.1h0M137.0 118.0h0M123.1 125.6h0M130.3 118.8h0M140.0 121.3h0M121.5 120.9h0M121.1 121.9h0M125.5 115.3h0M139.3 118.1h0M125.7 114.4h0M118.3 113.5h0M130.4 116.9h0M124.0 113.5h0M116.9 114.6h0M136.3 123.8h0M136.6 125.2h0M134.0 122.7h0M124.0 125.0h0M135.6 119.8h0M117.6 112.2h0M119.7 122.8h0M124.1 120.3h0M138.8 117.8h0M130.2 123.5h0M117.8 126.0h0M126.8 120.6h0M124.9 113.9h0M124.0 123.3h0M124.1 125.2h0M140.5 122.1h0M127.5 122.7h0M120.3 123.5h0M126.1 122.3h0M142.0 122.5h0M119.4 126.1h0M118.6 123.1h0M135.0 117.7h0M120.0 116.5h0M124.7 121.0h0M127.2 126.2h0M117.3 118.0h0M132.0 123.5h0M139.8 119.5h0M121.4 126.0h0M127.8 119.7h0M119.8 126.1h0M126.0 126.2h0M133.5 120.8h0M120.9 121.9h0M119.9 125.0h0M119.0 115.6h0M125.1 118.4h0M122.4 116.4h0M129.1 119.9h0M123.5 120.5h0M119.2 112.7h0M131.4 121.7h0M130.4 125.8h0M122.1 124.6h0M137.1 126.3h0M124.8 115.9h0M135.0 119.9h0M121.4 124.5h0M132.4 124.3h0M133.0 123.8h0M134.3 121.6h0M136.1 116.6h0M123.2 113.4h0M116.8 114.0h0M117.0 120.0h0M123.4 117.2h0M121.7 124.8h0M135.1 121.9h0M134.1 122.5h0M117.0 116.1h0M119.7 121.4h0M116.8 124.1h0M131.2 118.7h0M130.3 122.7h0M133.4 120.3h0M119.4 120.4h0M129.1 118.8h0M119.3 123.6h0M122.3 125.8h0M122.4 117.7h0M128.5 125.3h0M133.3 125.8h0M134.0 125.6h0M117.7 124.2h0M126.7 124.3h0M138.5 117.8h0M121.0 117.2h0M132.2 121.5h0M120.4 113.4h0M141.2 126.3h0M122.0 123.6h0M119.3 122.0h0M139.1 126.3h0M136.8 124.4h0M116.9 113.6h0M120.7 124.7h0M118.0 122.7h0M118.0 125.0h0M120.3 119.9h0M124.9 123.9h0M127.0 117.8h0M133.1 123.9h0M139.8 119.8h0M128.1 122.1h0M122.0 125.5h0M138.6 121.7h0M117.7 113.3h0M138.7 126.2h0M132.3 124.8h0M127.3 116.9h0M122.5 121.3h0M131.2 125.2h0M130.0 122.8h0M142.1 125.5h0M132.7 126.2h0M120.8 125.6h0M118.4 120.4h0M118.9 116.0h0M117.7 118.8h0M137.7 125.8h0M119.6 116.7h0M125.5 114.9h0M122.2 122.6h0M141.2 124.4h0M141.5 119.0h0M119.3 120.3h0M140.6 125.9h0M137.3 119.6h0M133.9 121.2h0M117.7 112.6h0M117.8 116.0h0M133.1 124.2h0M131.8 123.1h0M134.0 126.2h0M140.3 124.0h0M135.7 122.8h0M136.0 124.5h0M127.6 126.2h0M126.0 125.9h0M137.7 120.8h0M124.3 113.9h0M140.8 118.1h0M117.5 117.4h0M133.2 121.0h0M116.9 113.1h0M124.7 120.1h0M136.1 124.7h0M117.0 113.2h0M120.7 126.1h0M118.3 112.0h0M133.6 125.1h0M118.4 114.0h0M131.2 121.1h0M118.2 122.1h0M140.8 126.3h0M124.2 126.1h0M142.7 126.0h0M141.1 119.5h0M133.3 126.2h0M132.2 122.3h0M126.1 125.5h0M126.7 117.3h0M118.2 114.3h0M124.2 124.3h0M120.1 121.6h0M130.6 121.2h0M138.8 122.7h0M126.7 114.2h0M119.6 126.3h0M122.0 123.7h0M118.1 122.0h0M117.0 113.2h0M125.9 115.9h0M132.2 119.3h0M134.2 124.4h0M133.2 125.1h0M127.9 120.5h0M134.8 125.5h0M122.3 116.1h0M135.8 116.6h0M118.0 124.7h0M117.8 117.1h0M133.8 120.6h0M134.9 122.3h0M128.1 115.7h0M130.7 120.1h0M128.9 121.9h0M134.2 121.5h0M118.1 121.9h0M124.2 122.3h0M128.0 123.4h0M123.5 122.3h0M123.0 113.6h0M117.6 126.3h0M133.0 123.4h0M124.9 120.2h0M122.9 124.5h0M116.9 114.1h0M140.5 124.8h0M125.4 123.7h0M117.2 113.8h0M136.9 125.0h0M120.4 117.9h0M135.5 122.8h0M123.4 124.6h0M135.6 118.1h0M137.6 125.8h0M129.0 114.9h0M132.8 122.7h0M118.4 126.0h0M133.3 126.1h0M135.9 120.7h0M125.6 115.6h0M140.3 121.8h0M117.7 119.4h0M124.2 124.5h0M140.2 120.6h0M118.0 124.5h0M122.3 120.2h0M121.9 122.0h0M136.1 125.4h0M133.0 124.0h0M140.7 118.1h0M122.0 119.6h0M117.9 122.1h0M129.9 120.2h0M122.3 126.2h0M118.1 119.9h0M118.8 123.6h0M129.8 116.4h0M126.7 124.5h0M128.8 124.4h0M135.0 125.5h0M120.5 121.9h0M139.4 125.6h0M119.2 125.5h0M119.6 123.3h0M123.6 117.4h0M123.8 121.7h0M123.6 117.2h0M139.2 123.5h0M139.9 125.0h0M142.0 122.9h0M131.7 123.4h0M120.7 125.5h0M138.6 124.1h0M132.3 122.6h0M127.1 125.0h0M118.9 123.2h0M131.7 121.6h0M116.8 117.2h0M124.5 126.0h0M120.5 124.7h0M136.4 122.0h0M121.9 124.4h0M121.1 124.0h0M122.4 116.7h0M135.2 120.2h0M138.6 121.2h0M117.9 126.1h0M118.7 124.2h0M127.1 117.1h0M128.8 122.7h0M120.1 112.8h0M134.0 124.0h0M117.1 112.0h0M120.4 115.3h0M118.0 118.4h0M122.6 115.0h0M121.3 125.8h0M119.3 115.9h0M142.0 121.8h0M131.7 124.4h0M120.7 125.9h0M142.2 126.2h0M129.6 123.6h0M119.1 121.9h0M140.2 125.0h0M118.7 118.8h0M130.9 121.9h0M119.0 114.5h0M117.9 125.0h0M120.1 120.8h0M125.7 120.8h0M133.2 117.2h0M125.5 126.2h0M136.7 126.3h0M121.7 125.4h0M129.3 118.1h0M118.1 123.7h0M137.4 120.6h0M117.8 117.8h0M135.4 123.4h0M118.5 118.3h0M121.8 125.5h0M118.7 122.3h0M118.1 122.5h0M127.8 121.1h0M119.9 111.4h0M117.1 105.3h0M127.6 112.2h0M127.4 110.9h0M121.5 111.2h0M122.0 102.5h0M118.3 102.3h0M126.6 105.2h0M119.9 108.0h0M117.2 110.2h0M125.3 111.3h0M126.7 105.1h0M117.5 110.9h0M123.7 105.8h0M119.2 103.0h0M125.9 107.0h0M125.6 105.4h0M119.0 107.7h0M124.5 112.5h0M119.3 110.0h0M119.9 112.2h0M124.8 108.2h0M119.4 104.6h0M126.8 111.4h0M118.8 102.1h0M117.5 89.7h0M117.2 95.3h0M119.2 97.4h0M123.4 99.5h0M127.0 99.5h0M142.0 102.9h0M138.2 109.4h0M151.5 112.6h0M155.6 111.5h0M167.4 111.3h0M168.0 116.3h0M150.0 120.0h0M155.0 124.0h0M144.0 124.2h0M148.8 123.8h0M146.0 118.0h0M140.0 113.0h0M133.0 104.5h0M129.5 102.0h0M121.0 93.0h0M145.0 121.0h0M152.0 122.0h0' stroke='#1fc4cf' stroke-width='2.0' stroke-linecap='round' fill='none'/>
<text x='22.40' y='138.00' font-size='2.8' font-family="'Liberation Sans',Arial,sans-serif" text-anchor='middle' fill='#4d4d4d'>-6</text>
<text x='62.90' y='138.00' font-size='2.8' font-family="'Liberation Sans',Arial,sans-serif" text-anchor='middle' fill='#4d4d4d'>-3</text>
<text x='103.40' y='138.00' font-size='2.8' font-family="'Liberation Sans',Arial,sans-serif" text-anchor='middle' fill='#4d4d4d'>0</text>
<text x='143.90' y='138.00' font-size='2.8' font-family="'Liberation Sans',Arial,sans-serif" text-anchor='middle' fill='#4d4d4d'>3</text>
<text x='11.30' y='129.60' font-size='2.8' font-family="'Liberation Sans',Arial,sans-serif" text-anchor='end' fill='#4d4d4d'>0</text>
<text x='11.30' y='104.00' font-size='2.8' font-family="'Liberation Sans',Arial,sans-serif" text-anchor='end' fill='#4d4d4d'>10</text>
<text x='11.30' y='78.40' font-size='2.8' font-family="'Liberation Sans',Arial,sans-serif" text-anchor='end' fill='#4d4d4d'>20</text>
<text x='11.30' y='52.80' font-size='2.8' font-family="'Liberation Sans',Arial,sans-serif" text-anchor='end' fill='#4d4d4d'>30</text>
<text x='11.30' y='27.20' font-size='2.8' font-family="'Liberation Sans',Arial,sans-serif" text-anchor='end' fill='#4d4d4d'>40</text>
<text x='94.50' y='141.50' font-size='3.6' font-family="'Liberation Sans',Arial,sans-serif" text-anchor='middle' font-weight='bold' fill='#111'>Log2(Fold Change)</text>
<text transform='translate(6.60 73.00) rotate(-90)' font-size='3.60' font-family="'Liberation Sans',Arial,sans-serif" text-anchor='middle' font-weight='bold' fill='#111'>-Log10(Pvalue)</text>
<rect x='72.8' y='148.1' width='4.6' height='4.6' fill='#f2f2f2'/>
<circle cx='75.1' cy='150.4' r='0.9' fill='#bdbdbd'/>
<text x='80.00' y='151.40' font-size='2.9' font-family="'Liberation Sans',Arial,sans-serif" text-anchor='start' fill='#333'>abs(log2FC)&lt;1, Pvalue&gt;0.05</text>
<rect x='72.8' y='153.7' width='4.6' height='4.6' fill='#f2f2f2'/>
<circle cx='75.1' cy='156.0' r='0.9' fill='#1ec6d0'/>
<text x='80.00' y='157.00' font-size='2.9' font-family="'Liberation Sans',Arial,sans-serif" text-anchor='start' fill='#333'>log2(FC)&gt;=1, Pvalue&lt;0.05</text>
<rect x='72.8' y='159.3' width='4.6' height='4.6' fill='#f2f2f2'/>
<circle cx='75.1' cy='161.6' r='0.9' fill='#8b0a9e'/>
<text x='80.00' y='162.60' font-size='2.9' font-family="'Liberation Sans',Arial,sans-serif" text-anchor='start' fill='#333'>log2(FC)&lt;=-1, Pvalue&lt;0.05</text>
<text x='85.00' y='9.60' font-size='10.5' font-family="'Liberation Serif','Times New Roman',serif" text-anchor='middle' fill='#000'>a</text>
<rect x='189' y='12' width='162' height='121' fill='#ebebeb'/>
<line x1='215.0' y1='12' x2='215.0' y2='133' stroke='#f4f4f4' stroke-width='0.4'/>
<line x1='189' y1='114.1' x2='351' y2='114.1' stroke='#f4f4f4' stroke-width='0.4'/>
<line x1='252.9' y1='12' x2='252.9' y2='133' stroke='#f4f4f4' stroke-width='0.4'/>
<line x1='189' y1='85.6' x2='351' y2='85.6' stroke='#f4f4f4' stroke-width='0.4'/>
<line x1='290.9' y1='12' x2='290.9' y2='133' stroke='#f4f4f4' stroke-width='0.4'/>
<line x1='189' y1='57.2' x2='351' y2='57.2' stroke='#f4f4f4' stroke-width='0.4'/>
<line x1='328.8' y1='12' x2='328.8' y2='133' stroke='#f4f4f4' stroke-width='0.4'/>
<line x1='189' y1='28.7' x2='351' y2='28.7' stroke='#f4f4f4' stroke-width='0.4'/>
<line x1='196.0' y1='12' x2='196.0' y2='133' stroke='#fff' stroke-width='0.7'/>
<line x1='189' y1='128.3' x2='351' y2='128.3' stroke='#fff' stroke-width='0.7'/>
<line x1='233.9' y1='12' x2='233.9' y2='133' stroke='#fff' stroke-width='0.7'/>
<line x1='189' y1='99.9' x2='351' y2='99.9' stroke='#fff' stroke-width='0.7'/>
<line x1='271.9' y1='12' x2='271.9' y2='133' stroke='#fff' stroke-width='0.7'/>
<line x1='189' y1='71.4' x2='351' y2='71.4' stroke='#fff' stroke-width='0.7'/>
<line x1='309.9' y1='12' x2='309.9' y2='133' stroke='#fff' stroke-width='0.7'/>
<line x1='189' y1='43.0' x2='351' y2='43.0' stroke='#fff' stroke-width='0.7'/>
<line x1='347.8' y1='12' x2='347.8' y2='133' stroke='#fff' stroke-width='0.7'/>
<line x1='189' y1='14.5' x2='351' y2='14.5' stroke='#fff' stroke-width='0.7'/>
<path d='M200.2 108.1h0M195.8 113.5h0M224.1 97.8h0M225.1 98.7h0M226.9 100.6h0M272.9 66.6h0M198.1 114.1h0M235.9 86.8h0M242.0 81.5h0M195.9 124.1h0M202.2 109.7h0M198.6 115.9h0M251.8 81.8h0M224.0 93.6h0M248.8 82.1h0M219.4 104.3h0M279.2 58.2h0M240.5 88.8h0M246.8 82.7h0M255.5 77.6h0M267.2 66.9h0M216.9 102.7h0M256.4 75.6h0M279.2 62.3h0M269.5 65.1h0M220.4 96.6h0M198.4 118.6h0M244.6 80.9h0M210.7 100.9h0M236.8 93.6h0M197.6 122.4h0M228.2 97.5h0M203.5 113.5h0M196.4 111.5h0M261.0 72.2h0M216.4 106.1h0M231.7 94.7h0M281.6 55.5h0M246.2 79.8h0M196.4 122.8h0M208.8 113.6h0M214.6 98.5h0M260.5 69.2h0M201.5 117.9h0M195.6 121.5h0M196.0 117.7h0M205.8 108.8h0M227.3 95.1h0M205.8 107.9h0M241.6 84.1h0M218.7 102.6h0M205.0 117.2h0M218.3 101.1h0M199.9 110.0h0M266.9 65.9h0M257.9 74.9h0M199.4 118.8h0M247.5 77.3h0M197.2 123.2h0M209.3 110.7h0M231.1 97.3h0M261.8 73.3h0M271.2 66.6h0M206.1 115.0h0M280.0 58.8h0M259.2 76.9h0M225.5 94.7h0M282.9 54.8h0M197.0 119.2h0M285.3 55.5h0M278.6 61.7h0M195.6 111.4h0M203.7 111.9h0M209.9 107.4h0M275.1 59.8h0M266.6 70.4h0M258.6 77.6h0M214.1 99.4h0M203.2 114.9h0M229.4 97.4h0M243.9 83.1h0M196.8 111.0h0M196.3 115.0h0M209.0 113.3h0M196.4 110.0h0M255.7 76.7h0M255.0 72.6h0M273.9 63.4h0M204.3 112.0h0M282.5 56.3h0M239.2 84.2h0M213.5 105.1h0M262.5 73.7h0M263.9 73.6h0M224.9 97.0h0M198.3 110.0h0M216.0 107.7h0M213.7 104.5h0M215.1 109.9h0M196.7 114.4h0M197.8 120.1h0M256.8 72.5h0M267.2 70.4h0M195.5 114.6h0M231.3 94.9h0M195.6 119.4h0M202.2 112.5h0M282.4 59.2h0M196.4 114.9h0M197.1 121.0h0M216.0 97.6h0M207.4 112.5h0M219.1 105.7h0M213.0 103.6h0M207.3 106.0h0M199.8 120.5h0M234.4 91.8h0M272.7 66.8h0M248.6 79.7h0M210.6 112.3h0M232.7 89.6h0M218.9 102.4h0M241.1 85.4h0M214.7 108.7h0M218.1 102.1h0M269.4 63.1h0M226.9 98.4h0M201.5 112.4h0M247.6 84.1h0M241.7 80.9h0M212.1 100.8h0M215.7 102.3h0M265.1 71.8h0M208.8 102.3h0M196.2 120.7h0M219.2 98.8h0M234.7 86.2h0M239.2 92.0h0M196.3 123.7h0M215.3 109.6h0M223.8 97.1h0M200.6 109.6h0M213.9 99.3h0M209.7 106.9h0M225.4 100.1h0M253.0 81.8h0M202.9 115.6h0M267.3 68.2h0M195.7 121.1h0M232.4 89.1h0M197.2 113.1h0M212.1 106.5h0M214.5 105.9h0M284.0 54.2h0M272.6 62.9h0M242.9 88.4h0M195.7 113.2h0M239.6 86.2h0M206.6 113.6h0M273.1 64.0h0M195.6 120.6h0M209.0 114.0h0M282.0 55.6h0M257.7 78.3h0M214.2 109.8h0M246.0 80.1h0M254.3 74.7h0M197.5 123.0h0M196.7 112.3h0M259.7 73.4h0M202.1 108.6h0M197.5 119.5h0M195.5 110.9h0M214.0 101.9h0M255.9 75.5h0M283.4 55.4h0M274.0 60.3h0M196.5 114.0h0M201.7 116.5h0M208.5 102.4h0M196.1 119.0h0M197.7 109.2h0M221.0 98.1h0M223.2 95.8h0M208.2 110.7h0M248.4 79.5h0M268.1 68.9h0M262.4 69.8h0M228.6 96.3h0M227.9 99.9h0M196.9 120.1h0M197.6 122.6h0M244.9 81.6h0M233.1 95.1h0M245.6 80.2h0M233.5 94.6h0M227.7 97.1h0M204.0 116.9h0M264.8 69.0h0M274.9 64.8h0M203.7 112.6h0M196.1 120.8h0M225.2 97.9h0M271.4 64.8h0M235.5 89.6h0M253.8 78.8h0M195.5 110.9h0M254.7 79.9h0M197.2 121.0h0M237.9 92.2h0M195.6 118.5h0M195.5 121.8h0M211.4 110.8h0M195.5 121.8h0M202.6 115.8h0M213.9 107.3h0M207.3 115.6h0M260.9 70.8h0M220.7 105.8h0M202.1 107.9h0M217.5 106.4h0M258.5 71.1h0M197.5 117.0h0M227.3 100.1h0M207.0 108.8h0M239.7 86.2h0M233.6 93.1h0M196.2 123.9h0M260.9 69.7h0M270.7 68.3h0M251.6 81.8h0M208.8 112.8h0M264.1 68.0h0M260.2 74.1h0M275.4 64.0h0M228.7 93.3h0M202.1 115.5h0M196.9 112.9h0M199.8 120.1h0M204.5 110.2h0M235.5 90.2h0M263.2 69.1h0M200.9 114.2h0M199.2 119.3h0M198.4 121.8h0M209.1 103.5h0M237.7 92.7h0M201.4 113.1h0M224.2 103.1h0M196.8 116.6h0M231.5 97.3h0M252.1 81.0h0M230.2 93.8h0M208.4 103.1h0M212.5 107.6h0M225.2 93.5h0M283.5 55.4h0M225.1 95.2h0M235.6 85.3h0M280.8 57.2h0M201.2 113.5h0M216.0 107.2h0M253.2 80.3h0M244.1 84.6h0M214.9 102.2h0M245.9 78.3h0M285.3 54.0h0M203.7 110.3h0M220.9 95.0h0M216.6 105.4h0M195.6 118.8h0M224.4 100.3h0M197.1 117.6h0M196.3 122.3h0M216.4 105.7h0M221.4 100.0h0M211.9 111.2h0M195.6 117.5h0M280.7 60.0h0M209.2 111.1h0M248.2 81.7h0M255.2 80.2h0M197.9 120.7h0M210.5 109.3h0M211.7 100.7h0M216.0 103.2h0M279.7 58.7h0M230.8 90.0h0M208.0 115.0h0M278.8 60.0h0M229.5 98.9h0M248.5 82.5h0M236.1 92.1h0M272.7 65.3h0M204.3 106.5h0M201.5 117.3h0M220.1 95.0h0M197.4 121.0h0M255.2 79.8h0M213.9 101.8h0M244.4 81.3h0M197.4 111.1h0M209.6 104.3h0M218.8 97.1h0M219.3 104.5h0M198.5 116.4h0M195.9 122.6h0M266.2 68.4h0M264.6 72.5h0M219.5 102.0h0M197.1 120.5h0M273.2 62.6h0M222.2 98.5h0M264.2 66.8h0M230.8 98.0h0M265.8 71.5h0M202.4 118.2h0M222.5 98.6h0M217.8 103.2h0M198.1 113.4h0M224.9 100.0h0M260.4 69.4h0M273.3 60.6h0M196.2 119.5h0M216.9 106.3h0M248.3 77.6h0M198.1 116.6h0M280.3 56.8h0M217.0 107.8h0M217.4 102.9h0M253.8 80.1h0M204.6 105.0h0M195.5 116.8h0M196.8 113.8h0M214.7 99.3h0M201.6 108.6h0M201.8 119.5h0M196.6 123.1h0M211.9 100.4h0M209.4 105.7h0M195.7 118.1h0M225.1 101.8h0M229.2 95.4h0M207.6 105.4h0M241.8 89.4h0M197.1 122.9h0M203.7 110.8h0M280.5 56.2h0M264.7 72.5h0M254.6 74.8h0M218.9 95.6h0M231.3 97.1h0M201.2 119.1h0M232.5 91.2h0M263.8 73.8h0M195.5 111.0h0M203.6 115.9h0M265.1 72.3h0M254.8 73.4h0M227.4 94.9h0M195.5 116.9h0M232.9 89.3h0M223.0 103.3h0M201.5 112.0h0M196.4 122.9h0M203.0 108.9h0M225.8 98.8h0M279.7 59.1h0M202.3 112.8h0M263.5 71.9h0M215.6 103.4h0M283.4 56.2h0M199.7 114.4h0M207.2 110.6h0M244.5 88.1h0M222.1 102.0h0M231.3 89.8h0M218.4 100.8h0M205.1 114.8h0M222.3 99.3h0M201.6 110.3h0M221.3 102.1h0M203.1 108.2h0M270.3 63.0h0M202.8 118.5h0M234.9 95.2h0M263.6 69.5h0M208.2 110.3h0M240.8 89.8h0M210.2 104.3h0M240.5 86.1h0M197.0 121.2h0M203.3 118.5h0M235.8 89.5h0M273.6 63.5h0M272.7 64.6h0M223.0 101.6h0M218.1 96.9h0M220.2 106.2h0M209.4 112.4h0M234.0 91.4h0M219.1 96.4h0M250.7 83.0h0M195.7 115.3h0M231.0 91.9h0M221.4 105.1h0M217.0 99.0h0M231.6 97.5h0M197.6 110.8h0M225.7 100.8h0M243.7 80.4h0M264.8 68.9h0M256.7 78.6h0M218.0 98.7h0M208.5 113.6h0M264.9 68.3h0M195.5 124.0h0M226.9 91.0h0M233.3 87.7h0M197.1 116.2h0M199.7 117.8h0M198.4 116.9h0M195.9 115.9h0M236.5 85.3h0M251.5 82.6h0M265.4 69.3h0M275.4 62.6h0M196.5 114.7h0M199.3 108.4h0M225.1 92.8h0M220.7 102.8h0M238.4 86.3h0M217.8 105.5h0M214.4 102.4h0M201.8 118.4h0M219.9 99.4h0M196.2 121.1h0M280.9 59.9h0M252.0 80.6h0M196.6 117.9h0M265.5 67.4h0M195.9 115.1h0M233.7 91.9h0M238.7 88.0h0M199.7 112.6h0M197.8 119.5h0M262.9 70.8h0M222.4 97.1h0M220.6 102.2h0M226.4 101.4h0M209.2 114.1h0M284.8 53.7h0M237.4 92.3h0M263.4 72.5h0M256.4 74.6h0M231.9 90.3h0M203.9 107.7h0M225.4 94.4h0M261.2 74.3h0M213.6 107.5h0M196.4 112.0h0M241.1 86.6h0M225.7 92.7h0M196.2 119.9h0M241.2 86.1h0M221.1 103.3h0M201.5 111.8h0M208.5 103.2h0M270.2 62.7h0M204.4 112.0h0M197.0 119.3h0M196.3 117.8h0M278.7 58.7h0M210.1 111.0h0M274.7 65.5h0M262.0 69.1h0M196.2 110.9h0M236.5 90.9h0M214.8 103.6h0M223.9 94.0h0M269.2 68.0h0M195.5 114.2h0M236.7 88.0h0M196.3 123.3h0M269.7 67.4h0M218.9 95.9h0M200.2 113.2h0M196.1 117.1h0M247.7 84.8h0M250.4 75.6h0M259.3 71.4h0M277.2 60.0h0M225.9 93.3h0M256.6 74.6h0M239.1 90.9h0M208.3 111.7h0M263.9 68.4h0M205.2 104.4h0M196.1 123.6h0M207.6 115.0h0M277.6 61.9h0M211.9 102.1h0M224.5 96.6h0M216.0 104.6h0M278.7 61.5h0M223.8 98.9h0M198.2 121.2h0M222.0 96.2h0M215.4 109.4h0M275.2 64.7h0M267.6 70.8h0M236.9 92.8h0M203.5 113.9h0M249.8 81.0h0M214.2 106.5h0M223.3 101.4h0M278.0 62.4h0M197.9 116.1h0M209.2 105.8h0M195.8 115.6h0M210.1 102.3h0M205.8 112.1h0M206.9 110.0h0M204.7 109.7h0M213.7 103.0h0M205.3 112.2h0M226.9 93.9h0M237.2 90.0h0M196.6 122.7h0M198.3 120.6h0M199.7 113.1h0M208.5 103.6h0M202.1 117.2h0M199.7 120.1h0M240.7 86.0h0M203.0 108.7h0M239.9 88.1h0M232.2 91.0h0M216.1 108.5h0M210.1 102.0h0M210.8 105.9h0M196.6 113.5h0M264.7 70.9h0M210.7 107.7h0M203.0 116.9h0M197.7 114.1h0M222.2 94.0h0M279.5 57.4h0M276.7 59.5h0M195.6 123.2h0M281.6 56.0h0M233.1 90.8h0M215.7 105.2h0M198.3 115.8h0M204.3 116.9h0M265.6 68.9h0M266.4 70.2h0M228.9 97.4h0M260.0 75.5h0M236.7 89.1h0M207.4 115.0h0M220.1 100.9h0M258.2 76.8h0M199.8 118.0h0M256.1 78.2h0M235.1 94.9h0M196.5 114.6h0M221.1 104.7h0M218.9 96.4h0M212.1 106.1h0M214.4 105.2h0M195.8 112.3h0M229.2 96.5h0M204.9 115.8h0M275.1 60.5h0M211.2 106.1h0M226.4 100.0h0M195.7 114.7h0M198.9 115.1h0M195.6 124.3h0M199.0 113.8h0M232.8 86.7h0M238.1 88.4h0M195.5 111.2h0M220.3 96.5h0M195.8 113.1h0M219.1 105.1h0M213.3 110.8h0M229.4 97.7h0M243.1 88.1h0M241.6 85.0h0M244.3 79.7h0M205.5 108.9h0M212.6 101.1h0M259.2 71.7h0M231.4 95.8h0M271.1 62.2h0M277.6 62.0h0M258.7 72.7h0M261.2 70.0h0M217.3 104.5h0M255.1 75.4h0M225.1 93.2h0M195.7 124.3h0M218.2 107.0h0M261.6 75.0h0M267.3 70.0h0M197.9 113.0h0M240.2 88.1h0M231.0 93.1h0M277.3 61.2h0M225.1 98.1h0M213.7 103.2h0M197.2 114.4h0M274.3 61.6h0M225.5 99.1h0M196.9 122.7h0M225.1 93.1h0M265.0 72.0h0M249.0 78.1h0M219.5 97.1h0M199.9 117.6h0M222.7 96.7h0M216.8 105.9h0M265.1 70.5h0M214.4 108.5h0M219.8 98.9h0M209.9 106.2h0M220.7 105.7h0M279.5 60.9h0M225.8 91.7h0M200.8 120.1h0M200.7 119.2h0M262.8 71.2h0M195.8 121.4h0M222.4 103.2h0M206.2 105.1h0M216.4 106.9h0M231.1 97.3h0M223.2 97.3h0M196.6 116.9h0M206.4 107.4h0M233.1 87.5h0M232.2 95.9h0M199.8 112.4h0M257.1 78.4h0M214.1 108.0h0M218.4 97.6h0M227.2 93.4h0M251.1 81.4h0M233.4 93.2h0M219.0 101.6h0M238.9 91.1h0M261.0 75.0h0M206.6 105.7h0M283.1 57.9h0M277.9 63.2h0M278.4 62.1h0M195.7 114.3h0M198.9 112.3h0M195.5 123.4h0M209.6 113.4h0M218.7 104.0h0M247.7 82.0h0M280.0 57.3h0M199.3 109.5h0M269.2 66.5h0M223.9 102.1h0M207.1 113.8h0M200.3 113.5h0M207.4 106.4h0M228.6 91.5h0M196.6 112.3h0M222.1 98.3h0M202.3 110.9h0M213.3 103.1h0M229.7 98.1h0M205.8 107.7h0M195.6 116.4h0M225.7 94.8h0M207.7 110.2h0M219.2 98.7h0M196.3 117.7h0M203.4 111.6h0M203.4 116.6h0M202.0 108.1h0M210.1 103.0h0M247.3 84.3h0M226.6 101.4h0M274.9 62.1h0M197.3 116.9h0M220.9 98.6h0M205.2 105.8h0M233.9 95.6h0M258.3 71.2h0M206.1 108.1h0M264.1 67.4h0M196.3 112.8h0M202.8 108.9h0M241.2 86.8h0M270.2 64.0h0M284.6 53.5h0M228.6 92.6h0M239.3 88.8h0M221.2 100.4h0M201.2 117.6h0M261.9 69.2h0M242.5 83.7h0M222.3 98.8h0M238.9 92.3h0M216.3 97.6h0M200.7 115.2h0M196.4 121.2h0M259.0 77.2h0M255.6 73.8h0M265.3 71.3h0M274.7 63.8h0M216.9 97.5h0M225.6 95.2h0M197.2 123.2h0M203.7 117.5h0M259.0 75.9h0M278.7 59.1h0M200.1 112.1h0M206.9 110.1h0M196.4 112.7h0M254.0 76.8h0M241.7 87.6h0M197.7 119.3h0M247.8 81.3h0M197.9 120.2h0M219.1 106.9h0M195.8 118.9h0M197.9 110.8h0M197.7 113.1h0M255.0 78.3h0M225.4 91.5h0M233.2 93.2h0M281.6 59.5h0M278.4 61.5h0M214.5 107.4h0M237.2 85.1h0M241.5 89.1h0M283.9 55.4h0M221.9 95.6h0M197.1 115.9h0M253.8 75.2h0M239.6 91.4h0M219.4 104.4h0M232.2 93.8h0M217.4 102.7h0M230.1 89.7h0M204.7 114.9h0M199.8 120.3h0M262.6 68.1h0M197.7 118.9h0M270.6 63.3h0M282.0 55.0h0M206.0 116.2h0M202.9 113.2h0M195.5 121.8h0M218.9 99.8h0M198.6 121.1h0M207.8 114.7h0M197.5 122.1h0M255.7 73.0h0M195.8 113.6h0M261.8 70.9h0M205.8 106.7h0M196.5 123.4h0M278.3 62.1h0M272.2 63.0h0M195.9 123.4h0M236.5 93.1h0M238.8 86.4h0M202.0 114.3h0M201.0 109.1h0M234.7 88.9h0M233.7 95.8h0M267.9 65.8h0M222.8 98.3h0M220.6 97.7h0M224.5 100.6h0M222.9 102.4h0M195.5 118.1h0M265.6 67.8h0M200.9 114.6h0M229.6 93.7h0M217.7 102.8h0M241.4 82.3h0M222.8 95.8h0M240.5 90.4h0M203.4 115.4h0M209.4 108.8h0M205.5 104.2h0M247.1 83.5h0M242.9 80.9h0M198.8 114.3h0M278.9 60.8h0M266.6 66.4h0M207.1 114.7h0M256.6 76.4h0M209.1 109.4h0M246.3 79.0h0M272.4 62.8h0M199.4 117.5h0M195.5 122.5h0M208.4 113.3h0M219.2 105.9h0M237.3 90.1h0M202.8 110.7h0M207.6 115.4h0M261.0 70.6h0M266.7 70.0h0M203.7 109.9h0M198.3 109.3h0M237.3 88.7h0M195.9 121.1h0M214.7 98.5h0M198.3 115.2h0M196.4 110.5h0M248.8 78.2h0M249.0 83.7h0M202.5 119.1h0M226.3 101.1h0M200.0 119.6h0M273.0 62.3h0M204.9 105.0h0M198.8 120.8h0M211.4 103.2h0M196.9 113.1h0M225.6 93.8h0M208.2 114.8h0M196.9 114.1h0M222.0 96.7h0M200.4 118.0h0M201.0 109.4h0M243.2 88.1h0M246.0 86.8h0M218.3 105.3h0M251.0 77.6h0M240.9 89.4h0M195.8 116.1h0M242.2 89.8h0M261.0 69.3h0M209.9 108.1h0M237.1 84.7h0M236.9 89.3h0M251.6 79.3h0M195.7 117.6h0M213.9 107.6h0M212.3 110.0h0M206.6 107.3h0M267.8 68.2h0M262.0 74.5h0M222.8 96.3h0M253.2 79.0h0M199.1 108.9h0M232.4 91.0h0M208.8 113.7h0M228.3 96.6h0M268.5 66.2h0M249.8 79.8h0M249.5 83.6h0M284.9 55.5h0M231.1 96.7h0M196.7 114.5h0M246.1 81.5h0M203.2 113.3h0M251.5 78.0h0M271.4 67.8h0M252.4 82.2h0M234.1 91.1h0M196.3 119.0h0M239.0 84.1h0M196.4 117.7h0M255.1 79.6h0M268.9 63.9h0M208.6 112.9h0M198.3 120.2h0M214.3 102.6h0M275.5 62.1h0M278.1 61.1h0M237.8 93.1h0M214.3 110.4h0M197.9 112.1h0M197.3 119.9h0M223.8 98.4h0M195.7 123.4h0M240.1 88.2h0M196.7 117.9h0M210.7 100.8h0M195.9 122.5h0M196.3 117.1h0M279.2 58.2h0M197.3 116.7h0M209.7 101.8h0M243.7 83.7h0M203.3 113.9h0M223.9 100.0h0M227.6 100.1h0M214.4 98.6h0M212.7 106.3h0M249.6 77.7h0M247.4 83.2h0M244.3 87.0h0M233.2 96.4h0M200.1 119.4h0M209.2 105.6h0M195.6 112.6h0M196.7 110.6h0M277.4 60.5h0M261.3 68.8h0M216.7 99.0h0M195.7 114.0h0M236.7 86.6h0M198.4 121.6h0M223.5 97.6h0M241.3 89.3h0M228.0 90.1h0M203.1 108.5h0M279.2 58.8h0M216.1 105.1h0M218.4 106.5h0M196.3 120.9h0M199.3 109.7h0M210.0 103.1h0M227.5 91.3h0M269.5 65.2h0M216.7 106.6h0M227.6 98.0h0M259.6 76.7h0M235.4 92.1h0M214.4 104.7h0M282.7 54.6h0M209.6 102.1h0M278.5 60.3h0M227.6 99.2h0M254.3 77.5h0M250.7 75.9h0M234.0 89.4h0M226.1 100.9h0M217.7 107.6h0M199.6 108.2h0M211.3 111.7h0M215.6 109.2h0M232.1 95.5h0M201.3 112.4h0M273.8 66.3h0M244.7 83.2h0M220.1 102.1h0M195.5 120.5h0M223.6 100.7h0M284.5 57.0h0M262.1 69.4h0M255.0 76.9h0M221.3 96.1h0M197.4 120.8h0M195.5 118.5h0M217.2 97.3h0M274.6 63.7h0M221.0 104.8h0M249.5 80.5h0M199.1 110.2h0M195.8 122.4h0M219.3 95.3h0M198.1 119.8h0M254.5 78.5h0M274.3 65.9h0M202.3 116.2h0M262.4 74.3h0M239.7 83.4h0M281.4 56.6h0M195.9 118.4h0M201.3 119.1h0M202.6 110.1h0M228.7 98.9h0M204.9 117.0h0M273.9 61.9h0M218.8 96.1h0M282.0 59.5h0M203.2 117.0h0M234.5 90.2h0M223.1 95.8h0M224.2 100.5h0M239.1 83.1h0M195.9 118.4h0M198.1 112.9h0M215.3 100.1h0M239.2 82.9h0M229.2 93.8h0M281.4 56.6h0M208.3 114.2h0M273.2 66.6h0M273.5 60.9h0M238.3 83.7h0M232.2 90.0h0M230.9 96.5h0M196.4 114.1h0M217.0 107.6h0M227.1 98.9h0M203.6 107.3h0M233.4 89.2h0M258.0 75.2h0M217.0 104.2h0M209.6 104.7h0M267.6 69.3h0M244.2 86.9h0M195.5 115.6h0M252.6 80.0h0M284.7 54.9h0M207.1 106.7h0M261.8 74.6h0M271.7 65.6h0M204.3 113.9h0M224.1 98.2h0M205.5 116.7h0M234.8 88.6h0M242.3 86.7h0M263.8 73.7h0M197.8 122.7h0M226.6 96.4h0M201.8 113.7h0M195.5 124.3h0M279.5 57.3h0M196.2 115.6h0M222.1 99.4h0M261.3 71.3h0M276.2 60.9h0M272.2 67.0h0M258.8 75.6h0M273.1 62.2h0M280.1 57.7h0M212.1 106.5h0M253.4 81.2h0M225.1 96.9h0M245.1 85.2h0M232.0 90.2h0M211.4 104.9h0M270.5 66.9h0M223.8 98.8h0M261.1 74.3h0M205.0 113.3h0M237.2 92.5h0M282.0 57.9h0M246.6 83.5h0M195.6 120.0h0M228.4 99.5h0M282.3 57.3h0M217.7 107.9h0M202.7 115.6h0M236.9 92.6h0M220.0 103.9h0M227.7 93.8h0M223.0 96.1h0M233.9 95.5h0M237.7 89.1h0M250.3 76.0h0M209.2 104.0h0M201.9 111.8h0M195.5 113.4h0M216.5 104.3h0M221.1 102.0h0M201.9 111.2h0M234.4 95.3h0M204.1 106.1h0M204.8 114.6h0M229.1 96.3h0M277.2 58.2h0M197.8 120.6h0M199.2 116.6h0M204.8 109.5h0M267.8 70.5h0M195.6 123.4h0M206.4 115.3h0M215.4 106.2h0M246.2 78.3h0M281.9 58.5h0M236.2 93.4h0M232.5 88.2h0M267.7 70.2h0M199.1 109.9h0M242.5 82.9h0M196.2 116.2h0M195.6 114.8h0M255.0 78.3h0M195.5 114.9h0M285.2 55.0h0M210.2 110.3h0M257.4 71.1h0M210.2 111.6h0M284.9 56.3h0M216.2 106.2h0M245.9 78.3h0M218.6 97.7h0M212.8 107.3h0M256.0 71.9h0M249.8 78.6h0M259.5 70.2h0M278.1 60.5h0M211.9 112.3h0M223.9 100.2h0M195.5 110.7h0M206.3 104.7h0M195.6 120.4h0M253.5 76.3h0M239.6 87.7h0M196.7 112.5h0M250.6 80.1h0M227.4 92.5h0M220.8 101.0h0M219.9 98.4h0M247.3 83.7h0M252.6 79.6h0M239.7 88.7h0M269.8 63.2h0M252.7 79.4h0M209.2 109.7h0M231.9 97.3h0M225.7 92.1h0M196.1 112.0h0M228.4 89.4h0M245.7 81.2h0M249.5 81.4h0M197.4 111.7h0M266.6 67.1h0M201.3 114.4h0M222.7 101.0h0M220.4 101.6h0M282.4 57.0h0M281.7 55.7h0M199.5 111.6h0M211.4 106.1h0M227.5 93.3h0M205.9 108.7h0M210.5 104.1h0M220.8 99.0h0M284.9 57.0h0M195.5 112.3h0M223.7 97.0h0M259.9 70.1h0M211.7 100.3h0M212.1 103.8h0M260.1 74.3h0M214.4 106.9h0M208.6 110.5h0M262.4 74.6h0M283.8 55.1h0M227.1 94.7h0M205.8 107.5h0M266.1 69.9h0M221.3 103.5h0M203.0 108.1h0M236.1 90.6h0M235.8 93.2h0M195.5 120.5h0M228.8 98.4h0M225.4 99.5h0M203.6 109.3h0M209.9 105.1h0M249.1 82.1h0M195.7 113.0h0M226.3 96.0h0M241.1 86.1h0M271.0 68.4h0M280.5 58.3h0M213.4 100.4h0M269.3 66.2h0M195.5 116.6h0M213.8 104.7h0M259.9 76.0h0M261.9 73.4h0M203.0 118.7h0M197.1 120.5h0M224.1 93.0h0M199.3 118.7h0M210.8 105.9h0M209.4 106.5h0M198.5 122.0h0M229.2 92.3h0M197.9 122.4h0M239.1 91.7h0M273.8 62.4h0M198.8 117.4h0M196.0 123.4h0M209.2 103.6h0M271.4 63.6h0M235.5 89.6h0M222.4 97.8h0M221.0 101.8h0M260.8 74.2h0M213.2 103.7h0M279.7 60.4h0M215.5 105.7h0M200.9 116.6h0M254.3 79.7h0M219.3 104.3h0M229.1 91.8h0M197.4 117.4h0M199.9 113.2h0M240.2 89.8h0M201.9 116.6h0M207.6 104.4h0M266.1 66.8h0M212.3 107.2h0M200.5 115.5h0M277.7 63.1h0M212.4 110.3h0M262.0 73.4h0M220.2 105.9h0M241.7 86.0h0M255.9 74.3h0M248.4 83.5h0M203.0 111.9h0M195.9 111.4h0M245.4 83.6h0M209.9 113.2h0M226.6 93.4h0M197.4 122.2h0M241.1 86.8h0M254.6 77.8h0M282.6 55.3h0M207.2 109.8h0M230.0 94.9h0M258.2 72.9h0M258.3 76.4h0M221.8 99.5h0M229.6 99.1h0M257.4 75.6h0M198.8 110.8h0M226.8 93.7h0M247.8 80.7h0M272.1 67.4h0M207.9 113.8h0M235.4 93.3h0M195.6 123.1h0M199.4 115.2h0M217.3 103.6h0M195.5 118.0h0M203.1 118.1h0M196.0 122.7h0M212.9 110.2h0M218.1 106.4h0M247.2 78.6h0M207.3 115.2h0M279.9 61.5h0M236.9 86.7h0M219.8 96.4h0M198.4 113.2h0M271.0 62.8h0M262.5 72.0h0M222.4 95.3h0M211.3 110.4h0M195.7 122.3h0M198.1 110.0h0M206.4 112.8h0M281.4 57.2h0M215.5 108.8h0M210.2 110.8h0M277.3 61.7h0M281.1 59.8h0M195.9 112.0h0M196.4 113.5h0M230.9 95.9h0M260.4 73.6h0M282.9 57.0h0M276.6 58.9h0M211.0 105.1h0M246.3 81.4h0M195.6 115.5h0M250.6 82.4h0M196.8 123.0h0M225.6 101.4h0M262.4 72.3h0M284.8 54.7h0M215.1 108.4h0M214.9 103.5h0M264.3 67.2h0M207.4 115.6h0M238.6 86.3h0M236.6 86.4h0M257.4 74.1h0M258.7 77.0h0M276.9 60.4h0M196.8 121.9h0M236.0 92.1h0M275.6 63.7h0M220.1 101.2h0M276.0 63.3h0M268.8 65.6h0M228.1 90.3h0M267.5 66.2h0M225.7 101.8h0M201.4 112.1h0M197.4 115.0h0M208.9 110.5h0M258.8 71.3h0M248.8 81.6h0M224.8 91.9h0M273.9 62.9h0M197.5 105.3h0M196.4 114.1h0M244.7 78.0h0M255.7 65.5h0M201.7 102.1h0M287.3 42.4h0M285.0 42.0h0M225.4 85.9h0M279.1 47.9h0M197.7 111.9h0M249.8 73.2h0M201.8 108.2h0M200.4 109.1h0M198.4 107.5h0M204.5 99.4h0M198.7 108.5h0M243.0 79.2h0M241.2 78.0h0M239.9 81.6h0M225.8 85.4h0M240.2 81.1h0M213.3 94.0h0M196.6 111.8h0M229.3 87.9h0M195.5 114.8h0M266.6 60.0h0M210.0 102.1h0M196.6 114.0h0M264.9 57.6h0M203.5 107.9h0M197.5 112.5h0M230.1 83.5h0M228.6 83.1h0M287.3 43.5h0M196.3 114.1h0M246.2 77.0h0M273.9 56.6h0M196.7 104.1h0M219.4 94.1h0M237.8 83.3h0M213.4 100.3h0M253.8 65.5h0M248.8 75.0h0M224.3 85.1h0M202.2 108.7h0M240.0 72.0h0M195.9 109.9h0M224.3 90.7h0M266.4 62.2h0M238.1 82.3h0M255.9 64.9h0M220.2 96.4h0M257.0 64.3h0M234.4 80.4h0M280.6 51.1h0M248.2 69.3h0M208.1 97.4h0M211.7 93.8h0M236.4 75.1h0M272.0 52.0h0M216.3 97.4h0M236.9 77.7h0M220.2 88.5h0M204.8 105.3h0M200.6 110.9h0M209.9 104.2h0M235.1 81.7h0M218.4 91.5h0M232.6 82.7h0M197.8 112.1h0M195.8 114.5h0M267.6 61.2h0M237.8 82.0h0M246.2 69.6h0M265.0 54.0h0M282.8 48.5h0M285.9 42.0h0M209.0 103.8h0M230.4 81.9h0M198.4 104.8h0M246.0 73.9h0M219.4 95.7h0M219.3 92.1h0M222.6 89.7h0M271.0 58.8h0M195.7 105.9h0M203.3 102.5h0M219.2 96.8h0M195.6 113.0h0M238.2 83.1h0M195.6 114.0h0M271.6 52.8h0M207.5 104.4h0M220.2 91.5h0M209.5 103.3h0M228.4 89.9h0M221.4 90.1h0M228.5 90.4h0M214.5 97.6h0M205.8 105.8h0M234.0 85.0h0M202.7 101.9h0M197.0 105.6h0M198.2 109.9h0M232.5 85.7h0M241.1 73.3h0M212.1 102.6h0M203.7 101.1h0M238.1 77.6h0M217.9 97.3h0M248.2 72.5h0M275.8 55.0h0M214.0 96.4h0M274.9 53.7h0M259.8 67.0h0M242.6 78.9h0M248.6 74.6h0M202.9 108.7h0M252.1 67.8h0M275.7 53.6h0M197.0 107.2h0M207.4 100.9h0M227.0 89.6h0M196.0 114.0h0M255.0 68.6h0M271.7 51.8h0M231.4 78.6h0M195.5 113.3h0M231.4 88.2h0M270.3 59.1h0M236.2 84.0h0M217.2 96.6h0M209.8 104.0h0M245.6 73.7h0M197.6 103.9h0M198.7 112.1h0M209.2 103.4h0M227.1 83.3h0M198.5 109.4h0M240.9 80.5h0M196.4 113.7h0M197.7 118.7h0M196.7 108.0h0M196.4 119.3h0M196.6 112.9h0M197.1 107.6h0M197.1 117.3h0M195.8 113.3h0M197.6 110.9h0M196.8 112.2h0M196.9 112.9h0M196.4 120.9h0M197.2 122.0h0M196.3 114.0h0M196.4 120.0h0M196.4 117.2h0M195.9 115.1h0M196.2 120.7h0M196.4 121.3h0M196.9 112.1h0M196.9 121.0h0M197.2 119.4h0M196.9 116.3h0M195.8 119.5h0M197.1 116.7h0M196.3 118.4h0M196.8 111.8h0M198.0 118.6h0M197.2 119.6h0M197.2 112.8h0M197.9 120.6h0M197.2 113.5h0M196.8 107.7h0M197.7 119.5h0M197.0 114.0h0M197.5 107.3h0M196.5 110.8h0M197.0 112.3h0M197.0 120.5h0M196.5 108.7h0M195.5 119.5h0M196.7 113.6h0M195.6 108.5h0M195.5 120.4h0M195.6 111.8h0M196.7 115.6h0M196.1 116.7h0M197.1 121.8h0M195.7 111.4h0M195.8 111.3h0M196.0 107.5h0M197.5 111.1h0M197.4 119.2h0M197.5 107.4h0M197.0 119.8h0M197.1 116.1h0M196.6 119.3h0M196.8 112.3h0M196.7 114.1h0M196.0 117.1h0M197.6 116.8h0M195.5 113.1h0M197.4 109.0h0M196.8 117.2h0M196.8 112.0h0M195.5 117.6h0M195.9 116.0h0M196.8 117.8h0M195.8 121.6h0M197.4 120.1h0M196.0 117.8h0M196.4 117.5h0M197.2 113.1h0M197.9 113.6h0M196.7 117.7h0M195.9 120.4h0M196.3 120.3h0M195.9 108.9h0M197.0 110.6h0M196.6 110.0h0M197.3 118.1h0M197.2 109.0h0M195.6 115.7h0M195.7 117.7h0M196.9 121.0h0M197.5 116.8h0M197.6 114.6h0M196.2 107.9h0M197.3 117.0h0M197.1 114.7h0M196.6 120.8h0M196.4 109.1h0M197.9 118.4h0M197.7 121.8h0M196.6 109.3h0M196.7 114.4h0M196.5 118.8h0M196.1 121.6h0M196.0 111.3h0M197.6 110.5h0M197.3 111.1h0M196.5 114.0h0M196.1 119.3h0M197.9 120.9h0M195.9 107.4h0M196.6 118.1h0M196.9 121.4h0M198.0 117.2h0M196.2 113.0h0M195.7 112.9h0M197.4 111.7h0M196.0 115.1h0M197.7 116.7h0M195.8 113.5h0M196.1 119.2h0M196.5 113.7h0M197.7 111.5h0M196.6 121.7h0M196.3 115.1h0M197.1 112.0h0M197.1 113.3h0M197.6 115.4h0M197.3 115.6h0M197.2 112.8h0M195.9 112.5h0M196.3 107.2h0M197.4 114.9h0M196.7 117.6h0M195.7 108.9h0M197.3 107.6h0M262.0 63.0h0M232.0 74.4h0M238.0 76.0h0M259.0 67.0h0M266.0 68.0h0M245.0 71.0h0M285.0 60.5h0M300.0 43.0h0M296.0 55.0h0M305.0 48.0h0M293.0 52.0h0M205.0 97.0h0M201.0 104.0h0M214.0 93.0h0M222.0 89.0h0' stroke='#f01818' stroke-width='1.7' stroke-linecap='round' fill='none'/>
<path d='M268.3 81.1h0M282.8 72.0h0M217.5 118.5h0M219.6 121.0h0M221.9 118.7h0M286.6 68.4h0M226.5 115.3h0M224.7 115.1h0M218.5 123.7h0M286.0 67.9h0M230.9 106.8h0M231.5 113.3h0M209.0 127.4h0M255.6 88.1h0M264.3 84.2h0M207.0 126.2h0M230.4 112.2h0M203.9 126.6h0M217.1 122.9h0M249.6 94.4h0M234.0 104.7h0M236.1 107.0h0M229.8 114.6h0M242.6 98.7h0M250.2 95.7h0M215.3 123.5h0M253.7 93.5h0M274.2 76.1h0M276.7 77.7h0M212.9 120.7h0M207.0 127.9h0M250.2 92.1h0M236.4 104.7h0M247.5 95.3h0M223.3 113.1h0M214.4 120.4h0M277.9 73.0h0M229.1 108.3h0M217.8 123.6h0M262.2 88.0h0M275.0 74.5h0M240.6 102.6h0M214.6 124.3h0M218.2 116.4h0M255.7 88.7h0M258.9 90.1h0M219.8 117.7h0M205.1 126.2h0M245.9 97.3h0M231.3 108.3h0M208.1 124.1h0M254.0 91.5h0M203.0 128.4h0M256.0 87.9h0M276.5 76.0h0M263.1 84.5h0M219.8 115.0h0M263.4 87.8h0M263.4 83.6h0M207.0 124.1h0M228.4 112.0h0M205.4 126.9h0M238.6 101.4h0M257.1 92.5h0M218.5 116.2h0M232.1 107.1h0M230.9 107.8h0M275.3 74.9h0M233.6 105.5h0M222.2 117.1h0M210.4 126.4h0M229.2 107.7h0M234.4 108.1h0M270.7 79.9h0M255.2 88.8h0M268.9 83.5h0M234.2 110.1h0M230.0 109.8h0M247.9 99.0h0M271.9 78.4h0M279.5 71.8h0M229.1 113.6h0M206.4 124.6h0M249.0 93.7h0M265.9 83.3h0M255.3 89.3h0M281.1 69.3h0M243.5 100.8h0M276.2 73.4h0M213.4 122.1h0M216.6 124.6h0M209.2 128.3h0M231.7 107.3h0M274.5 74.9h0M210.1 122.9h0M246.4 99.3h0M214.3 119.2h0M234.6 105.5h0M230.1 111.7h0M261.4 89.0h0M219.0 122.2h0M283.6 70.6h0M274.8 75.2h0M281.0 73.7h0M275.4 74.1h0M216.3 123.6h0M232.4 112.5h0M219.5 117.9h0M203.5 128.5h0M269.2 79.0h0M272.3 80.0h0M232.0 107.2h0M262.7 88.7h0M282.1 69.4h0M278.2 73.1h0M214.5 126.5h0M261.5 87.5h0M209.2 122.9h0M204.1 127.9h0M211.0 122.4h0M269.5 79.4h0M230.2 107.0h0M230.7 106.6h0M222.6 117.2h0M229.0 108.9h0M264.1 87.7h0M260.7 90.1h0M283.6 68.7h0M229.4 110.1h0M257.1 87.6h0M206.1 128.2h0M229.5 115.6h0M212.4 120.1h0M216.0 125.0h0M235.0 109.6h0M211.8 125.4h0M280.6 74.5h0M231.5 107.9h0M240.5 104.2h0M244.0 101.1h0M215.8 123.4h0M213.4 120.7h0M203.6 128.4h0M209.9 124.5h0M218.2 124.4h0M227.7 112.5h0M216.9 120.8h0M260.8 87.0h0M226.4 111.8h0M204.2 127.4h0M232.3 105.8h0M253.2 92.3h0M237.6 104.0h0M258.2 90.1h0M214.7 119.6h0M277.4 72.0h0M217.7 119.1h0M244.0 102.0h0M284.0 68.1h0M237.3 108.4h0M271.3 79.3h0M216.9 117.0h0M236.8 102.2h0M225.5 116.9h0M217.9 120.6h0M250.7 95.9h0M219.6 116.9h0M237.9 104.0h0M277.1 74.5h0M233.6 109.1h0M223.7 115.1h0M242.1 101.9h0M287.8 65.2h0M224.8 119.1h0M260.8 87.1h0M210.3 122.6h0M218.1 118.7h0M219.5 116.3h0M223.5 116.0h0M247.5 94.9h0M207.2 124.1h0M222.7 117.6h0M217.8 120.5h0M235.6 103.0h0M276.4 76.1h0M220.5 115.5h0M254.3 91.0h0M247.2 99.4h0M216.9 124.4h0M216.1 117.4h0M247.0 94.7h0M209.3 125.2h0M223.6 111.8h0M276.0 75.3h0M208.0 123.4h0M232.1 112.8h0M248.6 99.1h0M269.0 81.6h0M233.2 107.2h0M205.6 125.4h0M267.9 82.5h0M210.0 125.4h0M268.8 78.7h0M238.2 102.1h0M273.5 79.0h0M279.9 71.5h0M226.0 111.9h0M213.4 128.0h0M283.3 72.5h0M274.0 76.6h0M241.7 105.0h0M219.3 122.8h0M258.5 87.1h0M214.0 124.6h0M203.4 128.4h0M204.6 126.4h0M274.0 79.9h0M261.6 86.2h0M251.9 95.0h0M220.2 118.1h0M212.9 122.1h0M241.6 99.6h0M256.5 93.4h0M256.1 88.4h0M224.2 118.1h0M259.7 85.9h0M223.7 116.0h0M251.4 95.3h0M220.7 118.2h0M227.8 110.7h0M255.3 90.5h0M254.9 93.8h0M245.3 101.2h0M282.7 68.0h0M279.0 72.6h0M256.0 92.2h0M212.5 122.6h0M239.5 101.6h0M251.3 92.0h0M259.2 88.8h0M254.5 92.5h0M285.7 68.8h0M222.1 117.3h0M231.7 107.4h0M210.5 128.5h0M261.3 89.9h0M244.7 99.1h0M216.5 122.7h0M240.4 106.3h0M252.1 92.6h0M208.8 122.9h0M256.3 89.7h0M216.5 117.2h0M224.8 118.2h0M253.6 93.5h0M234.7 104.9h0M243.3 100.8h0M282.8 70.0h0M213.6 127.2h0M237.7 103.2h0M240.5 99.9h0M222.0 119.4h0M234.8 105.8h0M215.8 118.8h0M210.8 121.7h0M215.8 120.7h0M286.1 66.8h0M217.2 125.2h0M248.8 95.6h0M216.8 118.1h0M239.5 100.4h0M223.2 113.0h0M235.3 105.1h0M242.3 103.3h0M217.3 119.0h0M237.4 107.4h0M274.9 75.3h0M228.9 112.7h0M211.9 122.9h0M248.9 95.7h0M219.8 118.7h0M209.7 123.0h0M227.5 114.1h0M227.7 112.1h0M242.8 100.0h0M285.1 66.8h0M245.8 97.4h0M216.8 119.0h0M267.5 80.3h0M231.4 108.9h0M228.2 116.5h0M274.2 79.1h0M207.9 123.9h0M260.2 85.0h0M244.8 96.8h0M246.9 94.6h0M226.7 112.4h0M283.6 70.9h0M215.8 120.9h0M210.9 122.6h0M210.2 123.4h0M215.3 122.2h0M260.4 88.4h0M277.5 76.1h0M211.9 127.7h0M239.6 100.0h0M215.2 123.7h0M229.4 115.1h0M257.7 91.7h0M284.9 67.6h0M273.9 74.5h0M258.7 86.0h0M225.2 113.5h0M257.3 87.8h0M227.9 108.6h0M208.7 124.7h0M221.0 121.2h0M260.1 86.5h0M242.3 97.9h0M238.8 101.1h0M204.3 126.3h0M209.2 127.0h0M241.3 100.2h0M226.7 111.5h0M233.0 105.3h0M237.7 101.3h0M276.1 73.5h0M230.4 107.6h0M220.4 115.7h0M239.5 105.5h0M264.9 87.0h0M221.4 117.4h0M213.4 121.1h0M226.0 118.1h0M211.5 125.5h0M224.9 112.6h0M220.7 113.9h0M242.8 97.7h0M277.4 72.6h0M282.1 70.1h0M233.6 108.5h0M252.4 95.5h0M250.5 96.1h0M226.1 110.0h0M254.4 89.3h0M231.4 107.4h0M237.2 106.8h0M235.8 106.5h0M268.9 78.4h0M215.3 119.2h0M234.7 105.9h0M275.8 73.9h0M248.8 95.4h0M214.9 124.3h0M267.3 79.4h0M261.4 85.0h0M259.0 88.7h0M218.1 116.6h0M265.8 84.4h0M206.9 127.3h0M244.3 98.5h0M207.7 127.7h0M280.3 70.0h0M207.4 127.5h0M285.6 70.6h0M287.0 69.4h0M214.5 126.4h0M245.0 96.1h0M272.9 76.3h0M284.6 66.9h0M272.8 77.7h0M226.7 110.4h0M224.2 117.3h0M230.6 114.5h0M228.5 115.4h0M235.1 110.0h0M212.4 123.5h0M260.6 85.4h0M214.8 125.6h0M240.4 102.3h0M218.1 117.2h0M215.9 118.2h0M264.4 86.1h0M282.7 71.0h0M287.3 64.6h0M212.8 120.6h0M203.7 128.4h0M237.1 102.0h0M268.1 80.8h0M203.7 127.0h0M227.6 110.9h0M225.4 110.9h0M213.7 122.9h0M264.4 84.6h0M203.9 128.2h0M259.7 87.3h0M233.3 106.5h0M261.4 87.6h0M241.1 103.8h0M211.7 120.8h0M220.9 121.5h0M230.2 111.3h0M254.4 92.7h0M280.1 74.8h0M251.0 96.7h0M247.6 97.5h0M267.4 83.6h0M212.1 121.3h0M241.4 99.0h0M224.8 112.5h0M217.0 121.8h0M238.7 104.7h0M246.9 100.8h0M236.4 106.7h0M271.1 80.5h0M238.8 100.6h0M265.3 82.7h0M264.5 85.7h0M217.8 117.1h0M218.1 116.5h0M269.8 77.6h0M218.2 118.3h0M286.3 69.3h0M218.5 123.0h0M274.0 79.0h0M249.5 96.0h0M226.3 115.2h0M235.2 110.7h0M253.1 92.3h0M265.4 82.0h0M216.3 121.6h0M283.3 68.3h0M265.3 84.4h0M275.7 74.3h0M242.1 104.5h0M270.5 80.6h0M264.3 85.0h0M230.3 107.8h0M227.0 117.4h0M279.6 70.3h0M210.3 123.1h0M264.6 82.1h0M254.4 89.7h0M211.9 125.9h0M238.7 107.4h0M251.6 91.2h0M251.6 93.0h0M242.1 100.0h0M252.1 91.9h0M285.8 66.6h0M258.8 90.0h0M239.8 103.7h0M276.1 75.2h0M204.3 126.5h0M211.1 122.8h0M227.6 108.9h0M257.5 91.4h0M210.5 121.5h0M272.8 79.6h0M254.2 90.0h0M280.9 72.2h0M246.1 95.9h0M271.4 79.3h0M239.0 100.4h0M221.0 120.0h0M274.8 79.2h0M204.5 128.5h0M258.1 87.8h0M278.4 72.4h0M238.0 102.4h0M249.1 94.2h0M218.6 121.3h0M262.7 83.3h0M203.7 127.8h0M254.6 92.8h0M248.4 98.8h0M206.4 128.4h0M235.2 104.6h0M258.2 87.0h0M220.2 119.6h0M216.9 116.9h0M261.9 87.2h0M267.5 82.7h0M256.1 93.0h0M234.6 107.1h0M203.3 128.3h0M216.3 119.0h0M231.3 112.4h0M263.5 82.9h0M234.0 105.0h0M205.0 125.5h0M267.8 83.9h0M266.7 81.5h0M213.0 125.4h0M228.1 110.4h0M202.9 127.7h0M247.8 100.1h0M227.6 110.3h0M224.3 114.7h0M208.0 123.9h0M218.4 122.4h0M260.3 87.6h0M213.1 127.9h0M256.4 94.0h0M210.1 125.5h0M220.9 120.7h0M237.2 105.3h0M226.6 116.8h0M213.5 119.9h0M203.9 127.9h0M230.5 112.7h0M221.3 117.2h0M218.5 118.3h0M251.5 96.9h0M287.6 66.2h0M218.8 122.3h0M218.9 116.4h0M223.3 113.8h0M213.2 124.4h0M210.3 122.2h0M256.4 92.2h0M246.9 98.3h0M263.3 86.8h0M234.1 108.3h0M203.6 126.8h0M265.1 81.0h0M207.4 126.6h0M246.3 99.4h0M268.0 84.2h0M208.4 124.6h0M232.5 108.4h0M205.1 127.3h0M209.1 127.0h0M248.1 94.6h0M216.9 119.9h0M214.6 119.3h0M238.8 105.2h0M239.3 103.4h0M228.3 111.3h0M207.9 126.1h0M285.0 67.8h0M259.4 85.6h0M235.0 104.8h0M206.4 126.5h0M216.6 122.0h0M217.5 123.7h0M219.8 121.1h0M216.5 118.6h0M272.0 79.1h0M249.0 96.0h0M247.6 100.8h0M251.3 97.9h0M213.3 121.3h0M270.4 81.7h0M271.1 78.5h0M218.0 124.3h0M205.0 126.5h0M203.7 128.6h0M218.3 118.3h0M221.8 113.2h0M212.8 123.6h0M273.6 78.0h0M279.6 74.5h0M224.7 111.0h0M264.7 82.8h0M228.9 110.9h0M232.4 110.4h0M273.1 75.3h0M263.1 83.9h0M218.1 118.1h0M259.9 87.1h0M202.8 127.2h0M221.0 113.7h0M229.4 115.5h0M229.3 115.3h0M245.3 97.8h0M257.9 90.2h0M209.9 122.8h0M239.4 107.0h0M228.5 109.2h0M276.9 72.9h0M206.6 125.1h0M205.2 126.8h0M218.3 117.1h0M242.0 99.3h0M208.1 126.3h0M203.6 126.8h0M201.2 128.4h0M243.3 97.3h0M223.4 119.3h0M236.6 103.8h0M217.1 119.6h0M211.4 121.0h0M203.1 127.7h0M205.2 127.7h0M245.5 98.5h0M251.3 96.2h0M220.7 115.1h0M214.5 120.3h0M271.6 78.4h0M265.3 85.8h0M207.2 125.3h0M270.9 77.6h0M234.9 110.6h0M222.2 115.6h0M281.4 73.2h0M276.8 75.8h0M206.0 125.0h0M229.3 114.6h0M281.4 69.7h0M283.3 68.4h0M204.0 128.1h0M287.3 69.0h0M213.5 122.8h0M262.1 88.0h0M272.4 77.1h0M206.4 128.6h0M277.8 74.4h0M268.8 79.0h0M225.9 117.6h0M232.1 111.5h0M259.9 87.1h0M245.0 100.4h0M220.0 118.2h0M260.2 90.0h0M285.9 66.9h0M243.5 100.4h0M265.9 81.3h0M222.3 114.2h0M259.3 89.4h0M255.6 89.7h0M236.6 104.7h0M208.4 125.4h0M215.5 123.6h0M229.9 108.3h0M208.9 128.3h0M267.5 84.5h0M215.9 123.4h0M275.1 76.3h0M232.5 108.5h0M203.7 128.3h0M272.2 78.8h0M235.2 104.9h0M210.0 128.4h0M281.2 71.9h0M256.9 87.8h0M218.6 120.5h0M243.4 98.6h0M244.2 103.0h0M222.5 115.2h0M244.6 102.3h0M244.8 102.7h0M256.5 93.6h0M205.3 125.9h0M212.7 128.4h0M209.7 124.1h0M276.7 77.6h0M253.4 91.5h0M262.0 83.5h0M212.3 121.6h0M267.0 81.7h0M265.8 82.8h0M214.9 120.5h0M280.4 74.7h0M277.5 72.1h0M220.3 121.2h0M203.0 127.3h0M205.1 125.9h0M251.2 95.8h0M286.2 65.5h0M246.6 100.0h0M204.0 126.7h0M284.8 70.0h0M241.5 99.3h0M219.8 115.4h0M229.3 114.2h0M283.2 70.5h0M242.6 101.5h0M283.3 67.7h0M264.2 83.3h0M265.8 81.1h0M286.4 65.2h0M219.1 116.2h0M279.9 72.0h0M230.8 111.5h0M266.9 85.4h0M212.2 121.2h0M275.2 76.4h0M270.3 77.6h0M257.5 87.1h0M202.3 128.2h0M214.1 121.7h0M241.4 105.5h0M219.2 119.3h0M217.7 118.7h0M208.1 123.3h0M258.8 89.7h0M220.2 117.1h0M204.4 127.5h0M287.6 66.7h0M217.2 120.5h0M224.6 112.8h0M218.3 118.7h0M272.6 80.3h0M209.4 125.7h0M221.7 113.2h0M222.9 114.1h0M213.1 120.0h0M235.0 104.4h0M228.2 113.7h0M239.1 106.9h0M245.2 101.6h0M242.0 99.2h0M260.7 88.7h0M224.1 119.1h0M213.8 123.2h0M258.5 86.5h0M224.9 110.8h0M205.7 128.2h0M225.9 117.0h0M208.5 126.5h0M247.2 97.8h0M233.5 106.2h0M280.6 69.6h0M283.8 71.2h0M221.5 117.5h0M240.2 103.5h0M269.8 82.6h0M211.1 126.8h0M242.2 100.1h0M282.1 68.7h0M252.0 94.6h0M229.3 108.1h0M277.9 74.1h0M237.0 103.2h0M224.9 113.3h0M253.7 90.0h0M244.8 97.7h0M205.2 126.1h0M214.2 121.3h0M258.5 86.9h0M212.7 126.2h0M205.2 125.6h0M283.7 71.7h0M211.1 122.9h0M221.7 114.3h0M257.1 92.5h0M247.8 96.0h0M264.3 87.3h0M258.3 88.1h0M251.3 92.6h0M266.1 83.2h0M208.1 124.5h0M230.8 109.8h0M273.3 75.5h0M222.3 115.8h0M215.2 119.0h0M215.7 121.7h0M204.6 128.1h0M227.8 116.4h0M223.7 113.8h0M212.9 120.3h0M223.0 116.8h0M213.4 125.5h0M238.5 100.9h0M235.6 106.5h0M206.2 127.1h0M248.4 95.5h0M228.0 109.7h0M238.2 103.9h0M259.3 91.6h0M279.1 74.0h0M222.3 114.3h0M246.7 96.9h0M211.5 121.3h0M235.7 107.9h0M254.9 89.2h0M276.8 75.3h0M207.9 127.9h0M254.5 90.6h0M240.5 103.2h0M274.1 78.4h0M242.7 101.0h0M271.3 79.4h0M245.0 97.5h0M212.2 121.3h0M232.7 106.8h0M287.0 67.3h0M227.9 110.5h0M243.1 99.9h0M261.5 87.5h0M228.6 114.7h0M286.4 65.4h0M272.8 75.3h0M246.4 100.2h0M215.8 125.3h0M254.6 91.5h0M209.0 123.5h0M227.6 109.8h0M228.1 108.7h0M210.2 127.3h0M275.5 78.5h0M209.0 128.3h0M245.4 95.7h0M202.5 127.9h0M213.1 128.0h0M257.4 88.2h0M260.2 84.7h0M229.5 109.8h0M241.4 106.1h0M239.4 104.2h0M272.3 78.3h0M239.2 103.0h0M213.9 119.0h0M205.7 126.1h0M201.2 128.6h0M253.1 96.6h0M246.0 100.8h0M215.5 125.2h0M206.6 126.3h0M227.7 109.9h0M257.5 93.1h0M241.0 100.8h0M222.5 116.9h0M234.3 110.9h0M231.7 113.5h0M223.3 115.0h0M223.7 111.7h0M220.0 114.9h0M275.1 74.0h0M233.8 107.3h0M228.5 110.9h0M232.0 105.8h0M236.5 106.3h0M277.8 76.2h0M236.9 105.3h0M252.4 92.9h0M247.1 96.3h0M230.5 112.1h0M233.5 108.5h0M215.7 119.9h0M241.1 101.4h0M220.2 116.8h0M209.5 127.3h0M269.6 78.4h0M240.5 102.6h0M239.1 104.8h0M216.9 116.7h0M214.2 122.6h0M238.3 107.9h0M241.4 102.9h0M213.3 126.2h0M224.3 114.3h0M245.4 98.9h0M287.3 64.9h0M206.1 126.2h0M287.7 66.3h0M209.7 124.6h0M206.0 126.4h0M250.5 93.6h0M271.3 76.7h0M268.4 81.3h0M285.6 67.5h0M219.7 114.7h0M232.6 106.3h0M270.1 78.2h0M270.3 78.5h0M259.8 89.1h0M277.7 74.3h0M214.0 120.5h0M206.5 124.9h0M210.0 123.9h0M262.0 83.4h0M225.5 113.9h0M210.8 121.7h0M202.9 128.3h0M283.4 68.8h0M216.4 123.3h0M268.5 79.9h0M203.8 127.5h0M251.6 97.7h0M216.8 122.6h0M221.9 114.1h0M211.0 123.4h0M250.5 91.9h0M282.3 71.0h0M240.8 99.9h0M284.1 66.9h0M261.2 84.7h0M264.9 82.4h0M252.4 90.6h0M246.8 95.0h0M215.3 118.8h0M273.4 78.6h0M226.3 114.5h0M212.1 123.7h0M229.8 109.9h0M220.5 121.2h0M286.3 68.6h0M266.9 81.0h0M225.3 116.5h0M250.4 98.1h0M256.1 89.0h0M212.0 128.1h0M273.6 77.2h0M255.5 92.6h0M227.1 112.1h0M280.7 73.3h0M232.1 113.4h0M230.0 108.9h0M268.3 79.2h0M272.6 81.0h0M223.9 113.6h0M279.0 74.9h0M280.4 71.7h0M225.2 110.8h0M219.0 119.5h0M287.0 65.0h0M241.3 98.8h0M283.6 67.9h0M245.6 99.5h0M218.7 116.3h0M216.6 117.2h0M247.2 101.2h0M229.2 110.1h0M226.6 110.2h0M251.0 95.7h0M247.7 100.5h0M269.2 78.5h0M248.2 95.9h0M278.4 71.2h0M246.2 98.3h0M270.2 79.4h0M209.7 122.3h0M228.5 112.4h0M276.5 73.3h0M287.0 67.1h0M260.1 85.8h0M287.6 67.5h0M222.7 113.6h0M269.7 80.3h0M286.3 69.4h0M252.3 95.0h0M248.1 94.0h0M254.6 92.9h0M214.6 126.8h0M202.9 128.5h0M220.2 115.8h0M250.7 97.2h0M251.6 92.6h0M233.0 106.6h0M229.9 110.7h0M260.6 89.0h0M252.3 95.7h0M237.0 109.0h0M219.0 116.5h0M223.0 114.0h0M215.5 124.4h0M211.5 126.7h0M234.4 103.8h0M226.2 116.8h0M240.3 105.6h0M239.3 107.7h0M209.7 127.6h0M241.1 98.8h0M236.6 104.0h0M238.5 101.7h0M247.6 94.2h0M277.0 77.2h0M287.2 67.9h0M231.9 109.2h0M228.6 115.8h0M282.8 69.6h0M218.7 122.1h0M276.1 75.8h0M261.4 87.5h0M222.4 113.4h0M277.4 76.4h0M224.2 111.5h0M243.6 99.2h0M216.7 119.4h0M208.6 123.6h0M240.6 102.4h0M219.3 121.0h0M225.5 111.1h0M208.2 127.6h0M242.4 102.0h0M251.9 92.6h0M254.6 92.2h0M207.5 124.3h0M237.9 107.4h0M280.4 73.7h0M262.0 86.5h0M207.0 126.0h0M267.3 80.5h0M223.8 115.5h0M257.0 87.3h0M233.7 111.0h0M250.8 91.9h0M254.9 92.9h0M216.5 128.2h0M237.0 113.9h0M241.6 107.5h0M274.5 85.8h0M258.1 100.9h0M289.7 75.7h0M213.4 128.4h0M251.1 100.5h0M289.4 72.0h0M261.6 92.8h0M281.5 77.9h0M225.9 120.1h0M292.5 70.4h0M229.9 120.5h0M293.9 71.7h0M254.0 101.7h0M224.0 127.2h0M238.9 117.9h0M265.3 90.4h0M223.8 124.2h0M223.6 120.8h0M293.0 71.4h0M286.5 80.1h0M243.8 106.6h0M252.9 105.6h0M226.3 122.4h0M279.2 83.1h0M242.5 108.9h0M239.9 109.0h0M225.6 121.8h0M282.5 79.3h0M261.0 93.1h0M233.6 113.4h0M223.9 120.8h0M285.1 76.1h0M217.4 125.4h0M222.6 127.6h0M239.1 117.2h0M246.6 107.9h0M227.7 124.7h0M229.8 116.4h0M247.7 107.6h0M231.2 119.4h0M227.0 121.7h0M290.4 74.6h0M220.3 127.1h0M290.7 73.2h0M226.7 125.2h0M274.2 83.8h0M252.3 100.4h0M233.2 121.2h0M279.2 81.9h0M231.2 124.6h0M224.1 121.3h0M268.1 90.6h0M259.3 101.3h0M252.3 99.6h0M250.1 108.8h0M232.2 116.2h0M249.6 101.9h0M293.1 69.4h0M251.9 102.3h0M247.0 109.1h0M293.4 76.1h0M245.4 107.7h0M244.5 106.8h0M277.1 85.8h0M251.1 109.6h0M271.2 89.7h0M269.9 86.9h0M230.2 118.9h0M244.5 112.5h0M230.3 123.9h0M256.5 98.0h0M246.4 104.8h0M273.2 93.4h0M204.8 127.3h0M200.1 128.0h0M200.5 127.5h0M203.0 127.7h0M199.6 127.4h0M215.7 126.5h0M201.3 126.6h0M215.4 127.7h0M202.3 128.1h0M200.8 127.4h0M213.1 127.6h0M198.4 126.6h0M201.1 128.2h0M216.8 127.0h0M198.1 127.6h0M201.4 128.1h0M217.2 127.9h0M214.1 127.9h0M215.3 127.2h0M212.9 126.5h0M212.3 127.3h0M218.7 127.9h0M207.0 127.8h0M209.9 127.6h0M197.2 126.9h0M202.7 127.8h0M217.2 127.6h0M213.7 127.6h0M200.2 127.0h0M209.8 127.9h0M206.2 127.8h0M204.4 127.1h0M200.7 127.2h0M209.8 126.7h0M217.5 126.5h0M213.1 127.1h0M217.6 127.0h0M197.6 127.7h0M205.3 128.0h0M211.7 127.3h0M211.5 127.7h0M204.2 126.9h0M211.4 127.5h0M198.0 126.8h0M206.5 126.7h0M208.5 127.2h0M203.5 127.9h0M213.2 126.6h0M210.1 128.3h0M210.3 128.3h0M202.1 126.9h0M204.2 126.9h0M200.5 127.0h0M208.0 128.0h0M214.0 126.6h0M213.9 127.6h0M202.9 126.5h0M215.9 126.7h0M202.6 127.0h0M214.5 128.2h0M217.1 128.0h0M215.6 127.3h0M198.2 126.9h0M200.1 126.7h0M200.0 127.1h0M198.1 127.0h0M215.8 126.9h0M208.2 128.0h0M197.3 127.8h0M208.9 126.6h0M216.6 127.9h0M199.2 128.2h0M209.7 127.6h0M201.7 126.6h0M212.5 127.8h0M201.0 126.6h0M209.6 127.1h0M204.6 128.1h0M209.4 126.7h0M212.4 127.8h0M209.5 128.2h0M207.5 127.7h0M198.2 127.0h0M203.6 127.3h0M208.2 126.7h0M212.2 126.6h0M202.5 127.6h0M197.5 127.1h0M214.8 127.8h0M205.3 126.8h0M233.0 126.0h0M248.0 127.0h0M276.0 104.0h0M282.0 99.0h0M292.0 96.0h0M239.0 118.0h0M228.0 122.0h0M300.0 83.0h0' stroke='#20ec20' stroke-width='1.7' stroke-linecap='round' fill='none'/>
<path d='M299.7 55.5h0M201.5 123.5h0M265.7 78.9h0M215.4 117.5h0M275.7 72.6h0M335.3 27.1h0M286.0 59.5h0M224.6 105.9h0M310.4 44.7h0M225.3 111.0h0M260.7 85.6h0M283.1 66.4h0M234.6 105.1h0M254.9 86.7h0M243.2 93.7h0M212.2 115.1h0M244.7 94.9h0M210.0 114.9h0M281.5 64.8h0M323.2 28.8h0M249.1 92.6h0M300.6 49.3h0M260.6 79.4h0M218.7 115.6h0M214.1 112.8h0M267.3 77.7h0M282.3 62.4h0M234.1 95.0h0M307.5 44.4h0M227.2 102.2h0M257.0 79.4h0M231.9 97.6h0M213.9 115.5h0M232.2 97.4h0M321.4 30.7h0M244.6 90.2h0M199.3 123.9h0M248.9 91.3h0M222.7 107.4h0M326.6 33.1h0M249.6 85.6h0M305.9 51.6h0M220.2 114.3h0M238.9 96.5h0M196.5 125.3h0M220.3 107.3h0M313.1 46.5h0M230.9 105.8h0M228.5 105.2h0M214.4 119.2h0M260.5 81.6h0M307.5 46.0h0M256.5 85.9h0M254.0 86.2h0M228.2 100.9h0M218.0 117.2h0M272.6 66.4h0M213.5 116.4h0M259.8 86.4h0M327.1 26.5h0M309.6 49.5h0M299.0 57.0h0M239.9 97.3h0M288.5 63.1h0M293.9 59.3h0M233.6 103.8h0M273.7 75.8h0M231.7 103.3h0M319.4 39.8h0M290.6 54.5h0M209.6 116.4h0M282.9 59.0h0M284.2 58.9h0M214.2 112.6h0M265.8 79.0h0M335.1 22.3h0M201.9 127.9h0M272.5 76.2h0M293.7 52.0h0M237.1 94.9h0M250.3 85.9h0M319.5 41.2h0M213.7 120.7h0M338.0 21.9h0M321.8 40.0h0M297.0 52.0h0M279.1 69.7h0M233.9 100.1h0M202.3 120.1h0M307.7 43.5h0M291.5 56.9h0M292.9 54.2h0M202.1 125.8h0M222.4 105.7h0M252.3 86.6h0M324.8 35.1h0M248.1 89.2h0M274.2 66.5h0M228.1 105.8h0M333.7 27.4h0M216.3 118.4h0M307.8 42.5h0M238.0 92.3h0M301.8 46.9h0M313.2 43.9h0M304.3 48.8h0M220.6 105.3h0M273.3 65.9h0M261.1 83.1h0M207.9 119.0h0M264.6 73.8h0M215.3 115.4h0M211.8 113.0h0M217.7 117.1h0M326.0 27.8h0M269.8 72.8h0M196.9 125.1h0M282.6 59.0h0M337.2 21.3h0M235.1 104.3h0M207.8 115.8h0M253.7 83.6h0M231.0 103.4h0M335.7 23.9h0M198.0 125.6h0M317.9 37.3h0M199.5 123.2h0M218.5 110.2h0M230.9 104.5h0M294.3 50.6h0M208.5 122.7h0M322.0 38.1h0M212.3 118.5h0M200.9 126.7h0M217.8 116.0h0M316.2 38.9h0M295.4 59.5h0M325.2 34.2h0M276.8 66.9h0M288.2 56.2h0M251.5 82.8h0M202.6 125.4h0M246.7 87.7h0M335.5 22.7h0M264.3 77.7h0M213.1 121.0h0M301.2 54.7h0M228.2 109.0h0M328.3 35.1h0M212.3 112.7h0M201.7 119.9h0M291.3 52.9h0M252.5 85.0h0M295.9 49.4h0M294.6 60.3h0M227.9 103.8h0M298.1 50.6h0M316.8 44.3h0M217.9 111.9h0M208.6 119.8h0M241.7 99.6h0M295.7 59.9h0M310.3 47.2h0M240.1 97.5h0M204.8 120.3h0M330.4 34.0h0M211.8 116.7h0M243.5 94.6h0M273.2 68.6h0M322.8 33.8h0M304.2 50.6h0M341.3 20.8h0M272.4 74.7h0M218.8 106.7h0M310.8 45.4h0M299.7 54.8h0M215.1 118.3h0M280.9 70.3h0M267.0 79.7h0M199.2 122.6h0M266.5 77.9h0M240.6 90.8h0M323.9 28.9h0M324.5 30.3h0M292.1 58.2h0M219.7 109.1h0M220.4 110.8h0M225.3 107.2h0M225.8 102.3h0M290.5 55.8h0M335.4 24.0h0M223.1 110.7h0M326.7 30.1h0M296.8 51.9h0M343.9 16.6h0M197.4 122.1h0M264.9 78.7h0M226.4 105.0h0M244.0 91.4h0M213.7 115.8h0M285.3 57.1h0M323.1 31.6h0M254.2 82.3h0M286.5 60.3h0M271.1 71.7h0M259.4 77.0h0M341.6 19.7h0M232.7 105.0h0M227.5 108.2h0M246.3 87.0h0M270.0 71.2h0M215.2 119.5h0M333.3 26.3h0M309.8 45.9h0M228.7 100.3h0M271.1 69.4h0M300.6 51.9h0M217.6 115.4h0M339.0 22.2h0M339.4 21.5h0M196.0 128.1h0M235.7 103.5h0M261.6 84.8h0M210.5 116.5h0M195.7 123.9h0M293.0 51.5h0M217.9 111.5h0M330.3 25.9h0M290.4 54.5h0M331.6 31.8h0M333.1 30.3h0M265.5 79.1h0M206.0 122.6h0M236.0 97.0h0M230.1 98.7h0M310.4 46.5h0M211.0 122.3h0M230.9 102.8h0M223.1 112.7h0M195.4 126.8h0M218.3 114.5h0M238.5 100.8h0M232.2 97.6h0M251.1 83.2h0M209.3 118.9h0M270.0 70.5h0M212.6 116.4h0M249.6 88.5h0M286.1 57.8h0M195.6 124.2h0M307.6 47.9h0M209.4 116.7h0M229.4 108.2h0M244.6 94.8h0M202.0 119.2h0M218.3 113.5h0M249.8 92.6h0M312.5 43.9h0M344.5 23.4h0M323.4 29.5h0M242.7 90.0h0M276.2 69.0h0M202.6 119.1h0M252.6 87.8h0M243.6 92.8h0M279.9 68.4h0M292.4 56.0h0M211.6 120.9h0M197.7 124.1h0M213.9 116.2h0M277.8 63.4h0M260.3 81.5h0M288.8 55.0h0M295.7 52.0h0M240.5 91.5h0M316.0 40.7h0M310.7 43.5h0M204.5 121.1h0M201.2 120.3h0M309.6 38.7h0M241.1 90.1h0M302.2 55.0h0M197.1 126.2h0M340.5 18.6h0M229.7 108.7h0M330.4 27.5h0M286.0 64.9h0M236.0 93.4h0M238.9 98.7h0M338.4 22.2h0M244.3 91.3h0M275.4 64.4h0M328.8 34.9h0M197.0 122.5h0M230.3 99.3h0M303.1 53.0h0M265.4 81.8h0M218.6 108.4h0M240.3 95.1h0M214.8 119.0h0M299.8 49.1h0M218.4 109.5h0M242.0 96.0h0M304.3 53.0h0M201.5 121.2h0M239.7 100.9h0M251.4 89.7h0M313.7 40.7h0M239.3 99.3h0M280.9 70.8h0M224.3 112.4h0M255.9 88.0h0M281.1 66.0h0M318.4 33.1h0M225.6 106.4h0M312.0 39.0h0M304.9 43.2h0M235.4 98.9h0M293.6 56.3h0M317.3 40.6h0M240.3 95.8h0M241.1 99.0h0M228.8 100.7h0M220.8 107.4h0M310.2 45.8h0M220.9 109.2h0M325.5 37.4h0M217.9 116.9h0M231.2 107.2h0M331.0 31.8h0M269.6 70.1h0M219.8 115.6h0M320.4 33.1h0M234.5 101.1h0M228.8 101.1h0M320.8 31.6h0M279.7 65.4h0M253.4 89.9h0M299.0 55.1h0M307.2 40.5h0M218.3 114.4h0M320.9 36.2h0M324.5 28.6h0M222.8 112.0h0M307.4 42.8h0M269.2 73.5h0M297.7 51.9h0M231.0 105.4h0M290.3 57.0h0M293.5 53.6h0M258.2 79.0h0M234.5 99.0h0M202.2 121.9h0M235.6 97.2h0M259.1 86.0h0M317.3 36.2h0M207.2 115.7h0M323.8 36.5h0M297.7 57.4h0M242.9 90.2h0M202.5 122.6h0M302.9 44.7h0M248.4 85.1h0M216.9 113.6h0M282.5 69.1h0M231.2 99.5h0M199.6 122.5h0M197.3 122.2h0M205.1 122.1h0M251.3 91.8h0M255.8 79.6h0M208.5 121.3h0M341.3 23.4h0M219.5 109.4h0M248.4 88.9h0M225.9 102.6h0M340.4 26.6h0M239.8 98.0h0M215.9 109.6h0M308.1 45.6h0M219.4 110.9h0M264.6 74.3h0M249.9 93.1h0M249.9 93.7h0M295.0 51.0h0M329.9 31.2h0M249.2 85.6h0M284.0 59.9h0M252.0 83.1h0M244.8 97.3h0M273.9 70.8h0M277.3 69.9h0M274.6 67.8h0M216.6 114.3h0M331.9 31.7h0M256.2 81.6h0M272.1 67.1h0M257.6 85.9h0M338.9 18.0h0M215.1 114.1h0M275.7 74.4h0M204.2 118.4h0M255.7 87.4h0M196.8 126.6h0M292.9 55.7h0M212.5 111.7h0M301.6 50.2h0M264.1 79.9h0M301.9 48.8h0M237.6 102.1h0M201.0 127.7h0M252.0 87.3h0M221.6 114.2h0M228.8 102.2h0M313.8 36.2h0M208.8 116.7h0M196.8 127.9h0M317.1 41.0h0M258.5 87.3h0M228.9 102.1h0M223.6 109.1h0M252.8 82.3h0M256.9 88.4h0M322.3 36.1h0M319.7 36.6h0M257.5 84.9h0M215.3 115.2h0M258.3 80.1h0M257.6 79.3h0M281.3 61.0h0M249.8 83.8h0M264.4 73.4h0M312.7 36.6h0M309.7 41.9h0M336.5 22.4h0M208.4 121.1h0M220.7 113.5h0M254.6 82.5h0M272.7 68.6h0M223.5 103.6h0M219.9 107.7h0M210.1 117.1h0M250.2 89.3h0M266.2 78.3h0M276.5 68.4h0M318.2 33.9h0M224.9 101.8h0M328.3 34.5h0M243.9 96.7h0M268.0 79.7h0M326.7 29.6h0M225.4 105.8h0M336.8 23.7h0M237.1 92.9h0M240.4 100.1h0M245.6 94.9h0M325.9 36.9h0M296.7 53.7h0M228.3 109.3h0M309.4 47.0h0M199.1 127.8h0M289.3 55.3h0M232.0 101.3h0M222.0 105.0h0M209.2 118.2h0M245.3 89.5h0M221.7 107.5h0M274.0 72.9h0M247.2 92.8h0M269.7 77.1h0M296.0 57.2h0M196.4 126.6h0M205.1 125.2h0M210.7 122.1h0M234.4 96.3h0M290.6 54.9h0M237.3 97.1h0M279.8 66.5h0M284.9 65.7h0M338.9 23.8h0M246.7 90.8h0M235.0 103.1h0M265.5 79.1h0M311.9 44.6h0M324.1 32.9h0M290.5 62.5h0M256.1 87.3h0M225.4 103.0h0M317.9 38.6h0M337.9 24.3h0M222.6 104.7h0M326.2 29.2h0M210.8 117.8h0M294.1 56.5h0M286.8 59.2h0M330.6 28.6h0M302.8 44.8h0M229.3 106.5h0M288.3 62.2h0M289.9 53.7h0M318.4 32.6h0M220.5 108.2h0M258.0 78.1h0M247.0 86.8h0M233.3 99.2h0M204.9 125.1h0M196.9 124.6h0M325.2 31.6h0M334.9 23.3h0M261.0 80.5h0M243.4 98.5h0M243.0 96.8h0M259.2 80.0h0M316.7 43.6h0M300.4 51.1h0M243.3 95.7h0M209.8 118.0h0M215.1 118.2h0M305.9 45.8h0M306.0 47.3h0M283.3 60.9h0M303.5 50.3h0M344.4 15.8h0M243.1 96.6h0M222.7 111.5h0M317.4 34.8h0M295.9 52.1h0M224.6 105.7h0M304.7 49.3h0M240.3 97.6h0M310.6 40.2h0M320.1 36.6h0M280.2 69.9h0M216.8 112.7h0M292.7 51.5h0M241.4 95.2h0M250.1 88.4h0M315.1 35.9h0M294.5 53.0h0M201.8 123.8h0M206.6 120.2h0M211.2 116.6h0M207.5 125.3h0M216.2 112.9h0M274.9 71.8h0M206.6 124.3h0M238.6 92.4h0M247.2 91.8h0M237.0 100.5h0M229.9 106.7h0M332.5 30.7h0M199.7 124.9h0M263.2 77.4h0M213.3 116.6h0M205.5 117.9h0M245.4 97.2h0M240.3 100.6h0M286.4 63.0h0M329.0 30.7h0M297.8 52.7h0M307.7 49.7h0M200.7 127.8h0M247.6 86.2h0M316.2 36.6h0M326.7 30.3h0M267.4 74.9h0M301.7 48.5h0M260.2 77.9h0M233.6 96.4h0M223.0 106.1h0M289.3 55.4h0M209.5 123.6h0M281.2 60.8h0M320.1 39.2h0M275.8 74.3h0M263.5 74.5h0M195.6 124.4h0M252.4 87.2h0M314.5 35.9h0M200.5 120.8h0M237.3 102.5h0M305.1 42.6h0M272.7 68.1h0M218.2 110.1h0M221.1 107.7h0M218.1 110.4h0M272.7 72.2h0M296.0 51.9h0M230.1 100.1h0M244.1 97.6h0M274.1 72.9h0M198.0 127.5h0M291.0 61.9h0M301.5 45.3h0M342.7 14.3h0M303.2 48.6h0M331.7 32.7h0M299.2 47.4h0M282.0 60.5h0M246.4 87.1h0M228.5 99.6h0M264.4 73.3h0M220.7 113.1h0M227.4 106.1h0M320.1 37.9h0M311.9 47.2h0M220.9 106.7h0M343.9 23.3h0M231.4 106.8h0M202.0 121.1h0M319.9 32.3h0M319.5 33.8h0M303.2 44.9h0M258.2 83.1h0M267.4 79.4h0M317.9 38.3h0M219.6 114.1h0M247.2 87.9h0M303.7 51.4h0M312.8 41.7h0M195.8 123.6h0M266.4 71.3h0M277.8 63.8h0M304.3 42.9h0M289.4 56.2h0M344.9 17.8h0M260.7 84.2h0M226.0 111.3h0M227.6 100.1h0M225.5 105.2h0M273.7 66.1h0M327.4 34.1h0M298.9 57.4h0M198.8 128.4h0M318.5 34.1h0M244.5 89.3h0M331.2 27.8h0M313.9 38.3h0M274.5 72.9h0M234.2 97.6h0M201.9 125.5h0M244.2 89.5h0M231.2 100.5h0M206.1 122.0h0M209.6 115.4h0M237.0 103.3h0M292.6 53.7h0M316.4 43.9h0M232.5 104.6h0M279.1 67.4h0M327.3 32.9h0M282.2 69.3h0M251.2 83.3h0M253.3 90.0h0M339.8 19.1h0M215.0 115.2h0M196.2 124.1h0M200.8 122.8h0M249.0 85.9h0M288.9 62.4h0M314.3 41.2h0M300.4 54.2h0M295.9 52.4h0M270.1 77.0h0M221.1 108.4h0M205.0 121.2h0M213.5 111.4h0M324.3 31.4h0M337.2 26.3h0M272.2 71.8h0M282.4 67.7h0M213.8 115.7h0M224.1 104.2h0M217.4 115.7h0M332.6 26.4h0M211.9 113.2h0M229.2 102.4h0M323.6 34.1h0M256.6 84.8h0M212.2 115.1h0M248.8 84.6h0M229.1 104.7h0M274.7 67.6h0M200.6 125.8h0M209.6 113.1h0M338.2 25.5h0M333.2 24.7h0M303.2 52.7h0M278.9 61.9h0M224.8 105.8h0M248.5 90.3h0M213.3 112.7h0M196.3 127.2h0M205.3 118.7h0M218.6 111.8h0M270.6 68.1h0M265.4 80.2h0M220.0 112.1h0M295.3 55.5h0M236.5 98.6h0M285.5 61.4h0M297.4 56.0h0M299.9 50.6h0M208.6 115.7h0M227.8 105.6h0M199.4 123.9h0M208.7 119.4h0M215.2 117.7h0M199.7 124.2h0M299.2 55.6h0M241.5 99.5h0M322.6 35.2h0M232.6 98.1h0M289.2 54.6h0M282.4 61.4h0M213.5 116.8h0M241.3 90.1h0M208.8 122.1h0M241.0 98.1h0M277.2 62.9h0M234.3 101.2h0M220.7 106.2h0M344.9 16.0h0M284.0 62.5h0M342.9 16.5h0M289.9 62.4h0M204.6 118.7h0M254.1 83.0h0M206.6 116.8h0M198.0 126.3h0M207.2 115.1h0M202.9 125.5h0M281.9 63.1h0M309.3 39.4h0M245.4 96.5h0M198.8 122.6h0M254.9 83.2h0M306.9 47.2h0M245.2 92.6h0M258.1 83.2h0M231.2 105.8h0M261.2 77.3h0M271.7 75.3h0M257.8 80.7h0M265.1 79.3h0M212.9 120.1h0M244.1 91.9h0M261.1 83.0h0M211.5 113.6h0M256.2 78.6h0M247.9 85.9h0M214.9 113.0h0M325.7 33.4h0M225.6 108.0h0M259.6 75.9h0M248.7 91.6h0M309.8 49.1h0M239.8 95.4h0M312.0 41.7h0M264.9 80.1h0M320.9 36.7h0M262.4 74.9h0M239.2 93.1h0M303.6 50.5h0M207.4 120.9h0M321.8 38.9h0M239.2 95.0h0M262.9 77.9h0M340.2 25.3h0M325.3 38.0h0M204.0 127.3h0M237.0 95.5h0M274.4 69.2h0M216.2 118.6h0M212.9 111.5h0M241.6 98.1h0M309.4 43.8h0M243.3 89.5h0M308.1 48.1h0M217.3 114.5h0M325.2 31.1h0M219.1 114.0h0M278.0 66.5h0M291.8 54.0h0M255.1 87.5h0M235.1 95.5h0M286.9 63.0h0M275.6 73.8h0M238.5 97.1h0M250.6 91.8h0M232.5 98.6h0M238.0 100.8h0M298.5 49.1h0M311.5 48.1h0M233.5 103.8h0M289.9 60.1h0M219.1 106.0h0M320.7 34.1h0M312.6 45.8h0M318.6 40.0h0M295.5 58.1h0M334.2 30.5h0M322.8 32.5h0M330.3 24.4h0M213.1 119.7h0M265.6 81.8h0M232.7 96.6h0M209.0 122.9h0M310.0 43.1h0M283.2 58.8h0M333.2 24.3h0M215.0 114.3h0M254.7 84.8h0M294.3 52.1h0M307.7 43.7h0M242.6 98.2h0M297.8 55.4h0M307.4 45.0h0M234.9 99.9h0M317.1 35.1h0M291.3 57.5h0M334.6 27.9h0M330.6 27.7h0M252.1 84.2h0M216.0 111.6h0M216.8 114.4h0M269.1 76.8h0M299.8 56.6h0M262.5 80.4h0M262.7 78.7h0M234.1 98.2h0M232.8 101.2h0M249.4 89.3h0M285.8 67.2h0M271.5 77.8h0M230.6 104.0h0M271.3 72.1h0M251.7 84.3h0M341.6 15.8h0M309.6 44.0h0M234.8 97.6h0M334.9 23.6h0M270.6 72.2h0M284.5 63.4h0M263.1 74.4h0M225.5 109.2h0M231.8 97.1h0M210.1 116.3h0M281.8 67.0h0M314.2 45.7h0M267.1 70.8h0M285.2 60.7h0M275.2 66.2h0M242.3 91.4h0M287.3 65.6h0M238.0 97.4h0M280.2 68.8h0M236.6 95.9h0M283.3 61.7h0M257.6 84.2h0M267.0 80.9h0M235.2 96.3h0M243.7 97.4h0M318.5 32.8h0M211.8 113.9h0M304.9 49.8h0M210.8 120.6h0M320.2 39.8h0M235.1 102.9h0M222.9 113.1h0M208.0 118.5h0M228.9 107.5h0M302.2 50.0h0M264.0 75.8h0M272.1 67.1h0M294.9 60.1h0M251.3 87.1h0M271.8 71.0h0M331.7 24.7h0M256.1 85.9h0M299.1 49.9h0M205.8 123.2h0M206.2 124.4h0M311.2 43.1h0M324.7 36.0h0M286.3 58.9h0M202.4 119.7h0M203.0 125.2h0M291.3 62.6h0M240.2 94.2h0M319.4 40.1h0M341.2 15.4h0M336.6 23.2h0M308.2 42.1h0M264.7 80.2h0M294.5 57.5h0M202.3 128.3h0M268.5 76.0h0M217.9 115.3h0M301.4 47.5h0M332.0 26.7h0M319.2 34.1h0M238.8 93.6h0M197.2 123.8h0M209.4 118.8h0M255.3 80.2h0M329.6 30.8h0M260.9 77.9h0M245.3 96.3h0M246.3 91.2h0M330.6 27.5h0M318.0 33.2h0M292.5 52.8h0M224.6 102.8h0M323.0 38.5h0M307.3 45.9h0M204.7 122.3h0M326.3 34.2h0M335.4 26.0h0M278.3 62.1h0M249.4 83.7h0M199.6 127.7h0M302.4 47.7h0M209.8 115.9h0M218.7 112.3h0M224.6 111.7h0M195.8 125.7h0M278.3 66.9h0M201.7 123.1h0M225.7 109.7h0M220.2 112.1h0M286.7 60.3h0M198.1 127.3h0M204.3 119.5h0M331.0 24.7h0M337.1 20.1h0M197.0 122.7h0M315.5 44.2h0M224.5 105.7h0M234.1 101.7h0M228.8 103.8h0M282.9 61.5h0M207.2 121.8h0M282.8 58.7h0M247.7 93.9h0M273.2 73.1h0M340.5 18.0h0M242.0 90.6h0M326.2 32.8h0M321.7 36.9h0M233.9 102.6h0M224.3 107.5h0M278.7 70.1h0M220.9 112.7h0M265.0 78.7h0M203.0 123.6h0M202.7 124.9h0M307.1 44.8h0M247.8 91.4h0M267.5 80.6h0M316.0 41.4h0M235.2 94.6h0M287.1 57.9h0M291.8 59.1h0M319.3 32.2h0M255.3 82.8h0M234.2 97.5h0M314.3 40.2h0M266.1 72.4h0M267.0 77.2h0M206.0 119.3h0M223.7 108.5h0M241.1 99.6h0M326.4 31.1h0M238.9 97.9h0M229.1 101.2h0M329.0 31.4h0M257.8 82.2h0M307.7 48.2h0M225.7 104.4h0M244.2 87.9h0M245.6 87.5h0M285.2 60.5h0M231.9 98.8h0M221.6 106.6h0M323.9 33.1h0M265.5 75.0h0M336.3 25.5h0M211.4 119.0h0M298.1 49.6h0M247.1 95.0h0M303.8 51.6h0M270.9 69.6h0M282.8 64.9h0M209.1 114.0h0M262.2 83.9h0M232.2 103.1h0M203.9 126.7h0M324.2 31.2h0M294.3 58.2h0M247.5 94.4h0M198.3 124.5h0M205.3 125.1h0M297.7 50.1h0M284.1 63.2h0M268.9 73.5h0M268.7 75.2h0M231.0 101.1h0M210.6 119.1h0M312.1 39.4h0M272.4 70.6h0M212.7 111.4h0M207.2 117.9h0M259.7 78.0h0M271.0 72.5h0M218.0 114.1h0M280.8 70.4h0M233.3 103.8h0M278.1 68.3h0M197.4 125.4h0M247.1 85.7h0M203.3 126.5h0M204.6 122.7h0M220.0 111.0h0M241.5 92.2h0M251.4 85.0h0M334.7 25.1h0M206.4 123.4h0M210.7 120.2h0M304.1 52.9h0M261.0 82.9h0M307.0 49.6h0M275.1 74.1h0M298.8 50.9h0M238.1 100.9h0M331.5 26.6h0M330.7 31.7h0M290.3 56.7h0M224.9 104.8h0M288.7 59.3h0M218.0 108.4h0M310.2 40.4h0M211.5 117.3h0M199.0 125.3h0M215.5 117.9h0M266.7 75.9h0M253.1 80.9h0M316.3 44.1h0M306.1 50.6h0M337.1 28.2h0M323.8 29.8h0M344.0 24.0h0M281.6 69.1h0M223.0 107.7h0M204.4 121.9h0M343.3 21.4h0M251.8 85.1h0M216.6 112.5h0M226.7 105.6h0M269.5 72.9h0M273.1 70.3h0M257.7 82.5h0M316.2 43.6h0M271.7 75.1h0M228.6 100.7h0M230.3 99.1h0M302.4 54.1h0M281.2 62.2h0M206.8 123.4h0M269.9 69.8h0M343.7 21.6h0M338.0 28.4h0M305.6 51.8h0M334.5 22.0h0M234.9 100.0h0M280.5 62.0h0M224.4 110.3h0M338.8 22.3h0M332.5 31.3h0M326.7 28.1h0M240.4 97.3h0M310.7 47.0h0M205.6 123.2h0M196.5 126.1h0M198.7 126.6h0M206.3 122.6h0M243.9 96.3h0M231.6 107.3h0M205.5 117.0h0M258.1 82.5h0M316.5 33.9h0M212.7 113.4h0M247.8 93.5h0M284.8 59.7h0M240.9 98.0h0M267.0 71.5h0M236.9 93.0h0M251.2 84.7h0M228.5 102.7h0M320.1 31.8h0M202.3 119.8h0M246.9 90.0h0M332.1 30.0h0M224.0 103.7h0M265.7 80.3h0M218.2 114.8h0M237.4 102.7h0M336.7 20.5h0M309.5 45.2h0M240.8 95.4h0M327.5 30.7h0M268.4 74.7h0M203.9 126.9h0M222.2 111.0h0M278.4 70.0h0M312.0 47.7h0M205.2 118.8h0M255.6 88.8h0M242.2 91.1h0M261.9 77.6h0M201.2 127.9h0M251.1 91.3h0M203.9 120.9h0M205.3 125.3h0M249.8 89.7h0M198.6 125.9h0M240.9 97.3h0M219.7 116.1h0M232.4 101.6h0M253.5 84.1h0M199.2 121.2h0M329.0 35.0h0M276.5 64.8h0M214.3 113.0h0M197.2 125.9h0M225.9 104.5h0M315.2 40.7h0M344.9 15.9h0M200.4 128.0h0M295.9 57.8h0M238.6 100.3h0M203.4 125.4h0M289.8 59.6h0M276.7 68.2h0M247.2 90.2h0M275.5 73.2h0M233.4 101.4h0M241.2 91.4h0M291.8 52.0h0M322.5 29.7h0M211.3 119.8h0M247.9 87.8h0M256.2 88.5h0M281.9 63.2h0M335.4 22.3h0M202.9 125.9h0M309.0 47.9h0M242.2 96.1h0M216.4 110.9h0M334.3 29.7h0M334.8 26.1h0M292.8 55.2h0M242.3 98.7h0M298.9 56.9h0M209.1 117.8h0M329.7 33.9h0M311.9 46.7h0M223.4 110.4h0M204.0 122.1h0M195.6 128.1h0M214.4 113.9h0M286.0 63.6h0M323.2 38.8h0M229.2 102.1h0M245.6 89.0h0M316.2 42.5h0M284.9 64.2h0M227.4 102.8h0M301.5 45.7h0M343.4 15.2h0M216.1 116.4h0M328.6 26.4h0M333.7 26.4h0M206.1 121.5h0M219.1 112.9h0M278.9 70.6h0M330.2 32.9h0M286.7 63.7h0M320.8 39.6h0M257.4 87.7h0M337.8 20.0h0M216.5 114.5h0M265.3 76.2h0M257.8 79.5h0M245.3 92.9h0M300.2 53.4h0M203.7 119.7h0M255.4 87.4h0M225.0 109.5h0M218.8 109.5h0M317.5 35.0h0M315.8 40.2h0M196.5 127.8h0M264.6 73.5h0M238.7 96.6h0M253.9 90.1h0M240.7 99.5h0M227.3 107.9h0M209.6 119.3h0M299.2 55.5h0M209.5 123.4h0M228.9 107.8h0M210.7 122.8h0M264.1 75.0h0M329.2 32.8h0M295.1 54.1h0M219.1 112.8h0M317.2 41.2h0M292.9 51.8h0M252.2 84.5h0M263.5 80.2h0M274.2 65.1h0M229.3 101.5h0M246.0 89.1h0M214.1 112.1h0M256.7 87.6h0M217.2 117.7h0M284.9 66.8h0M323.8 36.4h0M329.3 26.2h0M279.4 65.1h0M211.0 114.9h0M281.9 60.7h0M203.9 126.3h0M311.2 37.9h0M215.0 109.0h0M263.2 83.8h0M209.3 119.5h0M248.8 91.7h0M272.5 74.3h0M204.1 127.6h0M305.9 42.7h0M304.3 46.9h0M331.7 29.2h0M260.0 76.0h0M255.7 82.9h0M248.2 88.1h0M317.2 37.1h0M203.1 120.6h0M315.0 40.4h0M235.5 103.2h0M342.0 19.2h0M207.7 117.9h0M204.7 126.0h0M293.0 54.6h0M282.4 68.2h0M344.0 15.1h0M251.7 88.7h0M249.2 89.3h0M251.3 86.4h0M269.8 72.6h0M227.8 104.0h0M305.1 43.8h0M253.8 82.7h0M331.6 22.5h0M235.1 104.4h0M293.0 53.7h0M297.1 53.5h0M202.8 119.2h0M198.0 124.7h0M244.2 97.8h0M324.5 33.7h0M285.4 63.4h0M310.7 41.9h0M282.4 61.3h0M218.5 109.3h0M243.3 91.2h0M273.9 65.7h0M230.5 104.0h0M307.6 48.8h0M247.3 91.7h0M285.2 65.4h0M204.1 121.5h0M228.1 108.3h0M301.5 46.5h0M339.2 19.0h0M207.1 120.9h0M248.5 94.4h0M293.4 54.2h0M209.2 120.9h0M197.0 125.5h0M201.6 122.7h0M343.7 22.7h0M266.2 78.0h0M279.5 69.6h0M313.9 46.0h0M334.8 23.8h0M335.6 22.2h0M204.9 123.5h0M341.0 24.2h0M222.5 109.1h0M198.9 125.8h0M312.6 38.7h0M209.9 116.6h0M235.6 97.3h0M231.6 97.4h0M281.2 65.2h0M276.2 67.1h0M327.1 34.2h0M266.9 74.6h0M317.9 37.4h0M245.3 92.6h0M199.2 126.1h0M306.9 42.1h0M216.5 115.0h0M265.0 76.3h0M243.8 90.0h0M244.2 87.9h0M200.1 122.6h0M196.6 125.2h0M214.9 112.9h0M273.0 76.7h0M291.8 60.9h0M267.5 78.2h0M279.4 61.2h0M237.8 93.5h0M288.6 58.3h0M247.8 86.3h0M339.3 19.7h0M207.8 118.3h0M230.7 99.4h0M290.4 57.7h0M205.8 125.2h0M342.6 20.2h0M302.6 44.0h0M215.2 117.4h0M290.2 54.5h0M223.8 103.3h0M307.0 47.6h0M235.3 100.0h0M258.1 79.8h0M263.8 72.9h0M294.2 60.6h0M210.7 116.9h0M273.1 73.3h0M303.7 46.7h0M300.1 49.7h0M304.7 47.9h0M269.9 77.9h0M212.2 116.4h0M234.9 94.9h0M304.8 44.5h0M210.8 113.6h0M304.7 50.0h0M232.3 101.4h0M236.4 98.5h0M197.5 125.1h0M337.2 21.8h0M291.2 59.2h0M252.6 87.8h0M290.3 59.3h0M306.1 44.6h0M218.8 111.1h0M306.4 46.6h0M325.6 28.7h0M269.7 71.5h0M264.8 80.3h0M232.4 98.0h0M250.0 93.6h0M196.6 125.9h0M217.4 112.3h0M306.1 47.5h0M272.2 69.0h0M263.2 81.3h0M232.8 96.0h0M339.4 22.2h0M338.6 23.9h0M234.1 96.8h0M332.6 30.0h0M270.2 68.2h0M228.5 103.5h0M202.6 123.3h0M253.4 82.7h0M262.1 84.3h0M321.7 38.8h0M228.8 101.3h0M254.6 89.7h0M216.6 108.7h0M317.6 33.0h0M259.8 86.4h0M269.8 68.4h0M228.8 106.8h0M287.4 56.1h0M252.1 86.6h0M210.7 113.6h0M229.9 102.3h0M336.3 22.5h0M325.2 27.4h0M253.0 82.4h0M199.5 123.7h0M290.2 59.7h0M226.6 108.2h0M291.7 61.4h0M289.4 54.8h0M305.4 52.3h0M322.4 36.4h0M206.3 124.8h0M257.1 85.6h0M331.2 25.0h0M324.8 28.4h0M251.5 91.2h0M276.6 68.9h0M344.5 13.2h0M238.6 93.2h0M337.9 24.1h0M223.1 112.3h0M329.1 29.6h0M335.9 21.6h0M289.5 64.4h0M219.0 113.6h0M313.6 45.2h0M223.8 106.6h0M204.9 121.9h0M319.6 34.6h0M323.0 31.7h0M253.3 87.7h0M310.6 48.3h0M236.3 97.4h0M301.3 53.6h0M306.7 43.8h0M319.8 39.5h0M273.0 69.6h0M295.2 50.2h0M297.9 52.0h0M301.7 51.0h0M236.5 96.4h0M258.5 78.2h0M222.7 110.1h0M214.5 119.3h0M262.5 77.2h0M212.1 114.1h0M242.2 90.3h0M229.5 108.6h0M333.3 31.1h0M335.4 27.2h0M338.6 24.2h0M244.2 89.2h0M283.0 69.0h0M333.5 31.6h0M249.1 91.1h0M345.0 20.4h0M318.4 41.7h0M267.0 79.8h0M235.9 102.4h0M247.8 86.9h0M313.3 44.6h0M280.2 65.7h0M223.2 112.0h0M285.1 64.2h0M312.2 37.1h0M307.6 49.5h0M207.8 114.9h0M320.1 33.8h0M263.5 83.0h0M214.2 114.9h0M319.4 36.3h0M307.3 42.1h0M309.7 47.5h0M296.2 49.1h0M228.0 106.4h0M314.3 40.6h0M288.8 59.1h0M271.4 70.2h0M215.2 118.2h0M266.6 74.1h0M227.6 103.3h0M260.9 76.6h0M250.4 86.5h0M240.8 93.8h0M228.7 106.9h0M334.8 24.2h0M235.2 101.3h0M334.4 26.2h0M281.9 60.5h0M230.0 102.7h0M283.1 62.6h0M297.6 56.8h0M221.3 110.0h0M203.5 121.0h0M270.6 76.7h0M214.2 118.2h0M284.3 66.4h0M200.0 125.7h0M208.4 122.2h0M287.3 57.8h0M343.1 23.7h0M241.3 91.8h0M303.9 46.7h0M319.5 34.4h0M318.0 36.3h0M272.4 69.8h0M277.6 63.2h0M237.2 96.3h0M272.7 74.8h0M257.0 88.1h0M209.6 120.9h0M242.3 91.0h0M233.2 99.6h0M256.1 83.8h0M307.1 49.3h0M242.7 96.7h0M273.7 65.8h0M313.4 45.5h0M280.9 65.6h0M328.1 35.7h0M271.2 67.8h0M260.6 77.3h0M252.9 87.4h0M217.7 107.7h0M257.2 85.0h0M262.0 82.9h0M344.7 23.3h0M233.3 100.2h0M270.6 70.1h0M333.8 29.2h0M338.4 21.6h0M258.4 82.4h0M203.7 120.2h0M283.7 68.1h0M199.7 124.0h0M259.6 80.3h0M223.4 104.7h0M229.8 98.6h0M225.7 101.7h0M322.8 36.0h0M257.5 80.9h0M287.4 59.0h0M315.3 43.8h0M219.5 111.3h0M237.3 103.0h0M219.6 106.0h0M218.0 116.9h0M277.5 70.5h0M256.4 85.9h0M247.1 90.9h0M282.7 67.4h0M334.1 27.5h0M313.0 38.0h0M215.5 118.4h0M199.9 125.1h0M220.6 110.7h0M228.7 108.6h0M203.7 126.2h0M336.8 23.0h0M309.5 45.5h0M218.3 112.1h0M206.3 118.8h0M200.8 121.5h0M323.8 33.8h0M320.2 35.9h0M229.4 103.6h0M237.0 103.2h0M197.3 124.3h0M217.5 112.6h0M241.0 91.0h0M275.9 73.3h0M265.4 75.2h0M257.9 79.8h0M197.9 125.0h0M240.1 98.7h0M244.1 96.8h0M205.4 119.5h0M212.2 119.6h0M210.9 118.1h0M258.9 84.3h0M262.1 77.1h0M335.4 24.9h0M210.6 118.1h0M260.3 76.4h0M197.7 127.2h0M293.9 54.3h0M281.5 62.5h0M295.6 57.8h0M263.4 83.0h0M244.0 91.6h0M195.4 127.6h0M302.2 52.7h0M247.2 89.9h0M275.4 64.8h0M261.5 83.6h0M206.3 116.3h0M257.5 84.0h0M239.5 95.3h0M332.9 32.3h0M341.5 16.9h0M231.1 99.9h0M327.9 31.9h0M267.1 71.3h0M307.7 50.8h0M218.7 109.4h0M219.7 107.4h0M321.2 37.5h0M249.3 86.1h0M336.8 22.3h0M297.6 54.6h0M240.9 100.2h0M245.1 89.4h0M218.5 106.8h0M250.4 92.7h0M296.1 52.5h0M228.7 107.5h0M312.4 40.1h0M221.6 107.0h0M310.7 43.2h0M286.7 63.1h0M308.4 45.6h0M220.4 114.2h0M271.6 74.4h0M288.8 63.5h0M311.5 47.3h0M313.0 39.0h0M298.9 50.5h0M300.2 51.8h0M270.0 69.2h0M212.9 112.0h0M203.3 127.0h0M328.3 28.7h0M251.1 88.4h0M290.2 54.1h0M339.8 16.6h0M204.9 124.2h0M232.4 103.0h0M267.5 75.2h0M260.9 83.7h0M243.5 96.1h0M272.4 76.0h0M204.1 120.3h0M196.4 123.2h0M264.9 76.9h0M212.9 112.2h0M215.1 118.5h0M267.8 74.3h0M269.1 73.6h0M256.8 78.8h0M342.0 21.1h0M295.2 59.2h0M203.4 118.3h0M218.1 108.6h0M214.4 113.7h0M313.9 42.0h0M294.7 55.3h0M331.1 32.4h0M206.7 122.4h0M336.0 28.1h0M266.3 75.2h0M202.3 121.3h0M202.5 119.1h0M304.6 47.9h0M237.8 99.7h0M230.9 107.0h0M219.0 108.2h0M217.7 117.3h0M323.6 30.5h0M331.8 22.6h0M290.7 57.8h0M218.5 112.8h0M218.1 112.3h0M298.9 51.3h0M326.8 35.7h0M212.9 112.9h0M195.5 127.3h0M200.9 122.7h0M205.7 121.1h0M222.5 113.4h0M307.9 43.9h0M263.9 73.7h0M202.1 122.5h0M219.8 107.7h0M217.2 109.8h0M332.6 24.3h0M282.6 61.4h0M332.2 31.7h0M259.6 86.1h0M295.4 59.0h0M261.7 75.2h0M201.0 128.4h0M337.6 22.5h0M324.3 37.7h0M230.4 105.8h0M304.7 49.7h0M219.1 106.6h0M232.8 98.7h0M261.6 78.2h0M242.8 91.8h0M207.6 117.6h0M285.3 59.8h0M325.4 36.6h0M251.7 84.9h0M283.2 68.0h0M311.5 39.7h0M216.7 108.3h0M334.3 23.5h0M241.7 97.5h0M227.1 107.8h0M195.9 127.6h0M226.4 109.3h0M300.7 46.6h0M228.3 107.7h0M288.3 59.1h0M207.0 116.8h0M235.2 99.3h0M283.1 67.9h0M289.6 59.7h0M262.6 80.3h0M198.7 121.6h0M265.1 76.5h0M320.3 33.3h0M235.0 96.8h0M283.2 67.1h0M203.4 121.7h0M287.7 63.0h0M303.1 45.4h0M294.6 54.8h0M324.1 30.1h0M315.4 44.4h0M275.5 65.9h0M234.9 98.2h0M323.2 30.6h0M244.8 90.8h0M263.1 81.2h0M196.9 125.0h0M201.6 124.3h0M282.1 67.7h0M295.5 51.0h0M343.6 13.7h0M214.4 116.2h0M281.7 63.7h0M287.8 59.9h0M230.1 101.1h0M247.1 86.4h0M293.5 52.6h0M270.9 77.5h0M310.8 46.7h0M213.3 118.9h0M195.6 125.8h0M224.9 109.0h0M341.6 17.3h0M257.9 80.3h0M295.2 49.6h0M327.7 28.6h0M212.4 119.8h0M296.0 57.4h0M322.6 34.0h0M247.2 93.6h0M257.2 80.3h0M276.5 68.1h0M301.9 54.0h0M307.2 41.3h0M266.4 75.6h0M198.2 124.6h0M216.8 109.6h0M320.2 33.8h0M288.7 61.5h0M279.8 61.7h0M217.1 116.3h0M241.2 92.8h0M257.4 77.9h0M292.9 59.5h0M338.8 20.5h0M289.4 64.0h0M319.2 36.6h0M336.7 24.6h0M268.4 75.6h0M213.4 114.4h0M258.6 85.1h0M267.8 73.5h0M339.6 17.3h0M212.2 114.8h0M341.2 20.4h0M242.8 97.2h0M219.1 114.6h0M201.0 125.8h0M333.8 27.4h0M220.7 107.1h0M309.4 41.8h0M332.0 26.8h0M203.4 125.4h0M297.7 54.9h0M195.5 127.5h0M256.6 88.0h0M202.9 122.7h0M235.5 100.5h0M250.6 86.0h0M255.5 84.8h0M197.7 125.3h0M221.8 106.9h0M236.4 96.1h0M237.8 99.4h0M219.4 116.0h0M201.2 122.4h0M295.6 56.3h0M229.1 101.6h0M293.6 54.8h0M309.4 48.7h0M209.2 120.6h0M219.3 111.9h0M325.7 33.7h0M322.1 33.1h0M226.2 106.5h0M236.8 98.5h0M221.9 106.1h0M275.6 65.2h0M218.9 107.1h0M289.3 55.6h0M224.7 111.0h0M261.5 79.5h0M232.2 101.8h0M304.4 46.5h0M207.6 116.5h0M291.2 57.6h0M332.0 24.5h0M293.4 55.0h0M225.8 108.7h0M231.1 99.4h0M250.1 87.5h0M242.5 92.5h0M206.4 117.0h0M213.0 111.3h0M265.8 78.3h0M317.5 35.7h0M309.2 47.2h0M199.3 122.8h0M215.3 118.1h0M299.1 47.2h0M220.5 106.7h0M278.8 66.3h0M334.5 29.4h0M226.3 103.6h0M258.3 81.2h0M307.6 42.4h0M320.5 37.1h0M241.8 99.6h0M235.2 102.3h0M338.2 27.3h0M341.9 19.6h0M304.0 52.0h0M228.0 104.2h0M330.2 32.0h0M229.0 106.9h0M205.2 120.5h0M269.8 71.6h0M276.6 70.5h0M210.9 112.8h0M198.1 127.4h0M197.5 124.2h0M257.9 81.2h0M288.5 55.9h0M260.6 79.7h0M214.5 119.1h0M332.4 32.3h0M221.7 104.3h0M290.6 62.7h0M235.2 97.3h0M309.6 44.8h0M272.9 73.7h0M261.4 83.4h0M267.1 78.3h0M327.3 30.9h0M289.6 59.3h0M332.4 22.7h0M225.9 102.8h0M321.1 40.8h0M214.0 112.8h0M221.1 111.0h0M292.7 54.1h0M313.3 40.9h0M257.6 81.3h0M251.2 82.5h0M226.8 104.1h0M341.0 18.8h0M202.7 127.5h0M242.6 95.5h0M228.1 100.7h0M217.5 115.4h0M264.4 79.5h0M296.2 54.9h0M287.7 57.2h0M213.1 115.1h0M315.8 36.6h0M304.7 51.4h0M297.2 49.2h0M206.6 123.9h0M217.5 107.4h0M271.5 74.6h0M312.6 44.3h0M273.7 69.3h0M331.4 25.5h0M250.7 83.7h0M270.2 75.4h0M260.6 79.2h0M198.1 128.4h0M277.2 72.2h0M284.4 65.8h0M225.7 111.1h0M271.9 72.7h0M240.3 99.3h0M279.5 67.1h0M276.3 72.0h0M342.9 16.1h0M337.7 20.9h0M247.9 92.5h0M310.7 41.6h0M229.4 104.0h0M254.9 83.7h0M228.3 99.2h0M332.4 25.6h0M329.1 31.1h0M204.5 118.7h0M238.9 93.4h0M203.9 125.4h0M256.8 79.6h0M260.6 82.5h0M315.0 39.5h0M216.6 108.3h0M272.5 72.0h0M344.0 15.9h0M198.9 126.7h0M290.1 55.7h0M224.9 103.7h0M316.5 39.9h0M224.8 105.6h0M222.2 104.0h0M314.1 43.8h0M230.4 101.2h0M332.1 24.9h0M291.4 62.2h0M228.9 107.1h0M230.7 107.9h0M208.4 115.8h0M290.4 56.7h0M251.3 91.3h0M210.1 115.1h0M277.0 65.5h0M250.6 84.9h0M280.1 67.8h0M333.3 24.4h0M306.1 44.7h0M326.4 36.7h0M292.1 56.2h0M234.7 96.4h0M323.2 38.8h0M292.4 61.5h0M233.2 96.4h0M254.8 90.2h0M273.4 74.7h0M282.5 63.4h0M256.1 81.1h0M241.3 99.8h0M330.3 30.0h0M292.2 55.2h0M281.5 69.4h0M211.7 112.0h0M196.3 127.2h0M297.8 50.1h0M334.4 28.7h0M207.7 122.8h0M216.6 115.5h0M235.2 101.4h0M200.4 125.2h0M240.7 91.5h0M246.1 96.4h0M234.1 103.5h0M311.0 44.1h0M277.1 73.4h0M249.5 92.1h0M255.4 82.5h0M344.3 14.5h0M336.1 27.2h0M212.0 120.7h0M337.9 26.0h0M329.9 31.3h0M296.1 58.6h0M331.7 26.3h0M211.9 115.4h0M203.9 127.0h0M247.1 95.7h0M204.4 121.8h0M274.8 68.6h0M292.7 54.2h0M264.1 76.1h0M306.0 42.5h0M228.8 104.1h0M318.7 38.4h0M252.0 88.3h0M332.4 25.9h0M213.4 116.0h0M207.2 117.4h0M284.0 62.6h0M212.3 111.1h0M339.8 25.5h0M280.2 66.7h0M254.7 90.0h0M343.2 24.1h0M282.2 66.3h0M331.3 25.1h0M257.1 83.9h0M231.7 102.9h0M271.4 77.1h0M252.2 85.8h0M266.0 71.2h0M196.8 122.9h0M322.6 38.6h0M300.9 48.0h0M276.6 64.9h0M264.2 78.1h0M287.2 56.7h0M331.4 29.0h0M344.8 13.6h0M295.6 58.0h0M343.8 16.0h0M232.0 106.0h0M290.9 53.8h0M275.2 67.5h0M308.4 40.8h0M294.9 54.0h0M210.0 115.5h0M308.4 50.0h0M338.6 17.6h0M323.3 35.4h0M241.2 90.0h0M294.0 56.2h0M217.1 113.2h0M316.8 41.4h0M343.7 15.4h0M255.6 89.2h0M327.1 32.7h0M204.6 122.0h0M266.5 76.6h0M226.5 102.9h0M228.6 101.6h0M338.0 19.5h0M215.9 118.9h0M206.6 115.7h0M241.6 95.3h0M283.8 67.3h0M329.5 24.1h0M308.7 41.8h0M275.8 72.8h0M205.8 121.7h0M332.2 26.4h0M280.8 68.4h0M237.5 93.5h0M290.0 53.6h0M331.6 27.7h0M266.6 72.2h0M263.8 77.5h0M283.0 59.5h0M226.5 106.3h0M303.7 50.3h0M242.0 95.8h0M342.1 23.8h0M236.8 95.6h0M259.4 81.5h0M207.2 121.4h0M316.1 35.9h0M277.0 68.8h0M216.6 117.0h0M207.6 122.9h0M224.5 109.4h0M285.0 64.4h0M303.4 46.3h0M248.9 90.3h0M293.1 55.4h0M236.0 100.1h0M202.6 124.0h0M242.8 95.7h0M232.2 96.9h0M290.5 56.4h0M200.5 120.3h0M335.7 24.9h0M207.8 115.1h0M267.4 74.8h0M198.2 127.3h0M259.3 82.4h0M204.4 117.0h0M278.1 62.1h0M259.5 80.2h0M320.3 36.6h0M208.7 115.3h0M312.1 39.4h0M273.5 69.4h0M229.0 102.5h0M277.4 66.5h0M233.3 99.3h0M317.3 43.7h0M301.7 52.9h0M239.8 98.4h0M286.3 66.7h0M220.3 105.1h0M260.0 83.3h0M230.7 107.8h0M214.8 116.1h0M317.8 43.4h0M240.7 97.8h0M208.2 119.4h0M207.3 123.0h0M263.6 73.6h0M340.3 21.3h0M318.1 42.4h0M272.2 71.3h0M287.6 60.5h0M212.8 110.7h0M302.1 54.3h0M293.6 56.4h0M315.4 38.1h0M225.6 109.6h0M323.7 34.4h0M262.6 80.3h0M241.1 94.2h0M200.3 126.2h0M309.3 42.8h0M291.4 60.2h0M288.9 56.0h0M249.6 89.8h0M323.3 28.8h0M203.7 119.5h0M307.1 42.3h0M263.7 76.1h0M289.9 58.0h0M224.6 107.6h0M325.0 36.7h0M263.6 80.7h0M330.8 30.7h0M277.1 71.2h0M204.9 122.7h0M223.1 108.4h0M201.9 121.8h0M260.7 83.8h0M341.2 26.0h0M277.9 71.1h0M241.3 90.8h0M229.4 105.6h0M268.1 70.8h0M217.2 114.7h0M333.9 25.5h0M261.0 84.5h0M298.0 54.7h0M264.9 80.8h0M231.9 97.1h0M310.3 45.6h0M203.4 127.7h0M252.3 86.3h0M201.3 120.8h0M309.7 46.3h0M269.3 74.4h0M236.3 101.7h0M340.9 16.4h0M223.5 111.0h0M289.3 62.3h0M207.4 119.0h0M253.5 80.7h0M268.8 70.8h0M258.0 85.4h0M202.5 128.3h0M299.3 50.4h0M202.9 125.4h0M247.4 95.7h0M253.4 87.1h0M233.7 96.7h0M244.2 89.7h0M259.0 79.1h0M295.3 58.7h0M287.2 58.5h0M242.7 98.9h0M205.7 122.5h0M318.8 35.3h0M241.7 92.0h0M242.8 97.3h0M256.3 87.3h0M229.0 101.1h0M252.0 86.0h0M232.8 97.7h0M196.8 122.8h0M208.5 116.1h0M314.5 42.3h0M267.8 70.6h0M230.3 107.8h0M325.5 36.7h0M236.8 99.8h0M221.6 111.0h0M263.3 79.5h0M198.8 123.5h0M225.9 106.5h0M229.8 102.1h0M257.5 83.5h0M236.6 96.7h0M269.7 75.2h0M298.0 54.2h0M205.7 119.7h0M280.7 67.9h0M327.7 33.3h0M273.9 71.8h0M224.1 108.5h0M237.7 95.8h0M217.8 117.2h0M339.0 20.3h0M260.4 76.1h0M313.5 38.7h0M317.7 35.3h0M260.2 82.9h0M273.5 75.4h0M296.9 53.4h0M241.3 93.7h0M251.0 91.2h0M196.8 125.8h0M290.8 53.9h0M308.4 43.5h0M323.5 31.0h0M303.6 52.6h0M232.0 102.5h0M304.1 53.1h0M269.9 77.9h0M324.7 38.1h0M215.7 113.4h0M276.6 69.9h0M203.7 123.6h0M330.2 29.4h0M212.7 114.0h0M328.1 29.6h0M201.7 122.0h0M269.7 70.2h0M256.7 83.3h0M284.9 60.1h0M213.6 115.0h0M212.8 116.7h0M241.7 98.3h0M213.2 116.0h0M225.3 102.8h0M207.3 120.7h0M261.1 81.4h0M287.6 55.9h0M339.4 26.8h0M222.8 105.0h0M307.5 41.2h0M281.0 63.3h0M338.4 18.8h0M256.6 79.5h0M206.5 123.0h0M306.3 42.9h0M343.7 15.0h0M227.7 102.3h0M222.1 110.2h0M311.3 47.9h0M282.3 60.5h0M226.7 101.7h0M332.5 28.4h0M293.7 58.9h0M299.8 56.6h0M213.0 114.4h0M253.8 86.8h0M258.1 79.7h0M230.4 104.8h0M201.0 128.3h0M202.1 123.1h0M321.7 31.8h0M261.0 77.1h0M204.8 123.1h0M326.4 30.8h0M329.5 27.5h0M287.4 64.6h0M212.3 118.9h0M225.8 105.3h0M208.3 123.6h0M226.8 104.6h0M316.7 37.9h0M270.4 74.2h0M306.4 46.0h0M323.6 30.8h0M343.7 13.5h0M310.9 43.4h0M322.1 31.2h0M202.4 126.6h0M244.8 89.9h0M316.7 40.0h0M216.2 114.3h0M274.1 65.6h0M261.7 80.8h0M213.4 119.8h0M239.1 97.2h0M230.6 102.1h0M341.2 19.4h0M252.9 83.6h0M243.7 90.8h0M337.7 28.1h0M208.4 122.2h0M325.4 34.3h0M333.9 23.7h0M329.0 32.9h0M287.7 60.0h0M295.2 59.7h0M212.3 111.3h0M280.4 61.2h0M326.2 35.7h0M344.3 14.4h0M247.1 85.8h0M291.5 53.4h0M204.5 119.0h0M210.3 121.8h0M330.2 31.1h0M291.0 57.2h0M215.5 110.7h0M201.6 120.0h0M225.9 106.9h0M200.5 125.8h0M257.9 80.4h0M201.2 123.6h0M317.6 40.8h0M292.8 54.5h0M211.5 119.9h0M201.9 123.7h0M236.8 94.9h0M198.6 124.4h0M269.7 73.8h0M311.0 44.6h0M338.1 20.1h0M228.8 102.5h0M208.3 117.0h0M258.1 81.2h0M227.2 108.3h0M296.0 58.9h0M265.0 78.1h0M273.7 75.4h0M232.4 105.3h0M259.2 84.5h0M305.7 44.8h0M273.1 70.7h0M210.7 116.3h0M336.4 22.5h0M206.8 122.5h0M253.8 86.8h0M206.4 121.0h0M250.0 89.2h0M254.1 86.0h0M343.0 15.2h0M198.8 124.8h0M205.5 116.4h0M299.5 55.4h0M216.5 112.0h0M343.3 14.5h0M241.0 95.4h0M215.2 112.5h0M291.8 59.4h0M307.7 47.7h0M233.2 97.0h0M307.9 47.7h0M274.7 69.1h0M198.3 126.2h0M204.7 119.8h0M302.4 50.5h0M325.3 36.5h0M294.8 59.9h0M209.3 121.2h0M279.6 67.0h0M205.7 121.3h0M327.4 33.3h0M332.0 30.6h0M200.0 124.4h0M316.6 41.4h0M256.5 83.1h0M241.7 93.2h0M236.0 98.5h0M272.7 67.8h0M211.3 118.5h0M269.9 73.5h0M261.3 78.5h0M344.5 16.0h0M263.2 76.5h0M274.5 68.1h0M246.2 86.4h0M234.0 99.8h0M276.9 71.4h0M198.6 124.7h0M220.5 109.9h0M327.8 35.4h0M295.2 59.6h0M258.2 83.6h0M207.2 122.5h0M223.6 108.6h0M219.2 111.4h0M242.1 98.4h0M261.7 82.6h0M222.5 108.9h0M262.5 77.1h0M244.8 87.1h0M209.1 117.0h0M287.7 61.3h0M293.3 51.9h0M217.3 117.2h0M207.5 116.5h0M267.0 75.4h0M321.5 39.2h0M271.5 71.9h0M249.4 94.1h0M204.6 121.9h0M302.1 51.6h0M203.0 126.6h0M331.6 30.5h0M211.7 121.1h0M208.3 114.2h0M291.3 59.9h0M305.0 47.9h0M200.4 120.3h0M281.9 67.6h0M234.8 102.5h0M239.6 95.7h0M288.7 61.7h0M282.2 60.6h0M289.2 62.4h0M300.0 52.7h0M273.1 68.5h0M344.2 23.7h0M222.7 110.3h0M300.1 50.9h0M226.9 104.0h0M209.7 121.6h0M261.0 85.6h0M216.7 118.3h0M282.4 64.9h0M204.2 117.8h0M257.6 78.7h0M279.7 63.5h0M330.4 30.4h0M287.9 57.2h0M238.9 98.5h0M325.2 31.5h0M310.0 48.7h0M336.2 25.8h0M312.2 37.6h0M293.3 60.1h0M235.0 103.3h0M235.4 102.8h0M232.6 101.9h0M277.9 63.6h0M201.8 122.6h0M247.5 91.8h0M337.8 28.1h0M206.3 123.0h0M205.2 117.0h0M203.4 127.2h0M292.6 57.0h0M270.5 74.5h0M203.9 122.3h0M328.1 25.4h0M292.8 52.0h0M263.6 74.9h0M200.9 120.2h0M246.8 95.9h0M208.5 118.6h0M229.2 102.4h0M217.5 111.4h0M341.3 16.7h0M314.0 44.1h0M251.8 89.2h0M266.3 81.6h0M312.2 44.0h0M339.6 17.0h0M276.3 71.6h0M200.6 125.4h0M311.6 44.6h0M239.9 99.3h0M329.2 26.7h0M221.5 113.0h0M300.6 50.1h0M343.3 24.4h0M273.4 69.8h0M202.2 118.6h0M241.6 93.9h0M201.9 121.2h0M320.2 39.0h0M236.7 94.1h0M332.4 31.7h0M302.1 51.8h0M288.3 57.5h0M267.3 70.2h0M231.3 98.9h0M204.5 124.5h0M249.1 87.1h0M305.3 48.9h0M286.7 65.6h0M213.3 115.1h0M200.5 127.7h0M299.7 46.4h0M234.3 95.5h0M311.5 44.0h0M221.1 112.0h0M332.4 31.4h0M240.7 90.2h0M238.1 94.7h0M292.1 55.3h0M316.9 36.4h0M325.3 37.2h0M264.8 72.4h0M306.5 50.4h0M207.2 122.6h0M202.6 121.6h0M226.8 102.0h0M281.3 70.5h0M258.6 86.8h0M223.6 104.0h0M225.8 109.8h0M232.0 100.1h0M321.2 36.8h0M242.2 98.2h0M208.1 116.3h0M277.1 68.2h0M288.4 63.3h0M288.4 56.4h0M295.0 52.1h0M203.0 121.2h0M240.4 95.6h0M205.3 123.0h0M239.8 101.2h0M254.9 88.4h0M309.9 45.1h0M284.8 58.1h0M328.2 35.5h0M330.3 24.3h0M216.9 111.0h0M212.0 114.0h0M203.2 124.1h0M321.5 33.6h0M314.8 44.3h0M269.9 77.6h0M221.9 110.4h0M281.6 59.6h0M342.5 17.1h0M260.9 83.5h0M254.7 80.9h0M343.1 23.4h0M257.0 81.3h0M341.2 23.5h0M208.7 120.7h0M201.9 124.0h0M336.2 19.2h0M258.3 87.3h0M203.2 122.6h0M308.7 48.6h0M263.7 79.1h0M264.6 79.4h0M341.0 22.6h0M218.2 109.1h0M256.6 85.3h0M307.4 43.3h0M213.9 110.8h0M301.5 45.1h0M195.5 128.2h0M309.6 49.4h0M223.7 106.3h0M204.4 118.3h0M214.6 117.8h0M292.7 58.9h0M304.0 45.1h0M339.2 22.6h0M223.5 111.3h0M221.3 104.6h0M301.4 46.2h0M343.3 22.9h0M233.2 105.9h0M272.8 72.0h0M226.1 110.5h0M276.4 66.6h0M229.9 101.1h0M232.3 106.3h0M270.5 74.6h0M298.6 47.6h0M274.8 73.1h0M256.8 78.2h0M340.1 20.5h0M313.2 46.8h0M197.2 125.2h0M256.6 81.3h0M293.0 55.0h0M254.7 84.0h0M304.6 48.4h0M240.6 99.4h0M248.7 94.7h0M206.7 116.2h0M290.5 62.6h0M198.6 124.9h0M296.0 56.7h0M266.8 78.0h0M321.3 36.4h0M239.5 93.0h0M233.1 104.4h0M318.8 35.9h0M219.5 116.1h0M198.9 125.1h0M243.8 95.1h0M197.5 124.2h0M249.1 92.0h0M214.1 116.7h0M196.4 124.5h0M229.2 99.3h0M309.8 44.9h0M313.6 40.9h0M267.2 70.6h0M332.7 25.0h0M281.2 69.0h0M243.8 91.4h0M302.0 53.1h0M328.4 29.2h0M233.8 100.5h0M273.4 72.9h0M313.7 42.6h0M221.8 112.3h0M304.2 51.9h0M203.4 122.0h0M317.9 36.8h0M210.2 113.0h0M291.9 52.3h0M234.7 99.3h0M211.4 116.6h0M297.2 48.8h0M231.7 103.8h0M277.5 68.7h0M226.1 104.6h0M332.6 26.9h0M226.7 105.4h0M205.1 122.5h0M334.1 27.7h0M214.7 109.6h0M225.3 107.1h0M243.8 87.8h0M288.1 65.3h0M196.4 124.6h0M205.2 120.2h0M239.9 90.9h0M338.0 26.1h0M226.0 107.6h0M254.8 88.1h0M220.2 115.4h0M296.5 55.3h0M268.7 76.2h0M256.1 80.6h0M236.7 100.7h0M305.8 43.9h0M240.4 100.8h0M199.8 124.5h0M336.4 26.8h0M261.1 79.6h0M200.4 127.9h0M233.9 95.8h0M339.1 17.8h0M253.2 88.2h0M264.8 76.3h0M297.8 50.2h0M291.3 56.9h0M338.6 26.6h0M217.9 116.4h0M249.4 87.1h0M208.8 115.5h0M197.4 124.5h0M240.9 97.1h0M327.4 33.1h0M338.1 27.9h0M320.7 33.7h0M198.0 128.0h0M237.9 102.6h0M225.9 108.2h0M295.9 54.1h0M303.7 52.3h0M206.0 124.4h0M342.2 23.5h0M272.9 72.5h0M203.2 123.8h0M227.8 102.0h0M332.1 24.9h0M214.8 118.4h0M263.7 82.3h0M211.8 121.0h0M245.5 95.9h0M276.0 67.4h0M236.2 94.5h0M266.5 71.6h0M327.4 28.4h0M231.0 101.2h0M254.6 89.6h0M201.2 123.1h0M264.7 77.7h0M321.8 35.6h0M285.5 63.9h0M238.7 96.2h0M216.4 109.2h0M337.6 25.4h0M205.3 125.3h0M244.2 91.8h0M306.7 44.2h0M288.1 63.2h0M285.7 58.3h0M205.7 124.0h0M275.6 67.9h0M333.3 27.2h0M342.8 16.1h0M313.7 46.4h0M211.3 113.9h0M253.8 83.6h0M272.2 67.7h0M197.3 123.2h0M204.6 120.4h0M306.5 47.4h0M210.7 118.6h0M342.1 25.1h0M207.4 122.1h0M201.9 128.0h0M231.8 103.3h0M329.0 29.2h0M230.9 97.9h0M285.8 63.7h0M287.7 55.9h0M233.7 98.1h0M209.7 114.1h0M218.7 115.5h0M320.5 37.3h0M231.4 100.4h0M326.8 27.4h0M205.1 126.5h0M224.6 112.1h0M227.5 100.8h0M231.2 106.2h0M318.9 38.5h0M262.7 78.3h0M234.6 104.5h0M241.8 90.3h0M271.9 70.8h0M230.6 107.6h0M285.2 61.9h0M330.8 25.0h0M212.5 121.3h0M204.7 124.6h0M226.4 101.7h0M335.1 27.7h0M231.4 99.1h0M293.9 58.6h0M227.6 100.0h0M235.8 99.5h0M228.9 106.9h0M253.6 82.7h0M265.0 73.4h0M292.6 62.0h0M219.1 107.9h0M270.8 70.2h0M204.7 122.0h0M213.3 117.6h0M258.9 78.8h0M327.9 31.1h0M306.8 49.4h0M222.4 105.9h0M226.8 105.7h0M297.5 49.1h0M223.2 103.1h0M308.5 49.7h0M272.9 72.3h0M247.3 88.6h0M239.0 91.2h0M219.3 111.0h0M233.7 101.7h0M209.2 117.5h0M332.0 24.5h0M342.7 14.2h0M339.2 27.3h0M329.2 35.1h0M340.7 21.2h0M310.9 39.7h0M311.8 39.0h0M319.0 40.1h0M288.3 63.0h0M232.1 105.0h0M330.5 30.2h0M288.2 57.2h0M242.9 95.9h0M272.2 72.4h0M207.2 115.0h0M255.1 88.1h0M343.6 15.0h0M341.2 18.3h0M340.4 20.4h0M308.7 45.6h0M281.3 60.5h0M207.2 124.5h0M199.2 127.4h0M335.7 26.3h0M270.2 75.7h0M306.5 44.2h0M205.0 119.8h0M279.1 63.8h0M235.8 98.6h0M234.3 101.7h0M333.5 26.8h0M308.6 42.0h0M325.2 36.5h0M204.6 116.9h0M245.5 89.1h0M195.3 125.4h0M312.3 42.1h0M280.4 65.8h0M204.2 127.5h0M333.5 25.9h0M338.6 24.6h0M245.6 87.5h0M342.7 14.6h0M245.5 89.9h0M296.2 52.8h0M199.0 125.1h0M332.7 28.8h0M337.4 24.3h0M267.0 76.6h0M196.4 126.2h0M252.9 86.7h0M326.5 33.9h0M233.6 105.8h0M275.7 64.7h0M261.4 77.8h0M242.7 95.0h0M315.6 42.1h0M335.3 25.9h0M204.7 123.0h0M322.1 33.0h0M340.0 16.9h0M276.2 66.0h0M272.1 69.2h0M262.7 75.6h0M331.0 32.9h0M260.1 77.4h0M265.9 73.4h0M331.1 32.0h0M205.9 117.4h0M281.2 62.6h0M205.8 117.7h0M207.5 115.4h0M225.6 101.4h0M305.7 50.0h0M263.4 83.7h0M330.7 29.4h0M210.0 120.8h0M306.3 48.5h0M206.1 124.3h0M305.9 51.7h0M247.4 89.0h0M322.1 34.1h0M286.4 64.2h0M215.8 114.5h0M309.8 49.3h0M221.5 107.9h0M251.9 83.4h0M298.2 51.8h0M207.5 119.0h0M205.8 122.5h0M200.0 123.1h0M198.9 126.4h0M330.1 31.0h0M205.8 117.3h0M285.8 57.4h0M273.0 66.3h0M203.5 127.0h0M242.8 91.8h0M266.7 78.3h0M203.1 122.0h0M231.0 97.3h0M247.8 90.3h0M257.9 84.9h0M250.3 87.9h0M212.5 115.2h0M219.0 110.7h0M283.2 63.6h0M218.5 114.5h0M207.3 123.6h0M323.5 30.6h0M212.5 116.8h0M197.5 127.5h0M256.6 86.6h0M213.6 118.1h0M201.2 124.9h0M245.9 90.1h0M255.3 82.7h0M291.9 59.1h0M228.2 106.3h0M314.0 44.0h0M326.5 36.3h0M265.7 71.6h0M292.7 60.9h0M328.6 29.3h0M205.8 121.2h0M209.5 116.3h0M212.7 119.8h0M338.6 26.2h0M272.3 76.0h0M328.9 29.0h0M239.3 94.1h0M214.0 118.5h0M231.3 101.3h0M319.3 38.0h0M197.6 128.5h0M203.1 123.2h0M220.9 113.0h0M268.9 73.9h0M301.1 54.9h0M245.3 94.0h0M209.2 123.5h0M201.2 126.2h0M240.8 90.9h0M206.6 119.5h0M208.9 119.2h0M343.8 21.7h0M322.5 34.1h0M212.9 111.1h0M268.7 73.5h0M287.4 58.6h0M225.9 107.7h0M328.1 29.9h0M303.2 43.8h0M259.6 85.3h0M248.2 85.3h0M280.6 70.9h0M238.4 93.1h0M262.8 74.2h0M340.3 22.9h0M254.5 80.5h0M238.6 91.5h0M207.3 119.9h0M228.1 104.4h0M287.6 55.5h0M334.1 27.4h0M266.1 71.5h0M336.6 22.8h0M220.6 112.4h0M255.0 81.6h0M203.6 126.9h0M310.3 48.8h0M287.7 59.7h0M329.6 24.7h0M251.0 91.6h0M264.3 81.0h0M304.4 45.8h0M337.1 18.7h0M302.4 44.2h0M205.1 116.7h0M213.6 116.1h0M245.2 92.7h0M327.0 29.5h0M341.2 25.8h0M327.9 31.1h0M203.8 127.2h0M336.4 22.8h0M212.3 111.6h0M243.3 90.5h0M234.8 98.0h0M308.7 43.9h0M211.1 118.3h0M255.8 79.5h0M253.2 83.8h0M222.2 113.3h0M345.0 17.8h0M325.1 31.8h0M319.9 36.6h0M229.1 101.9h0M326.6 35.6h0M332.0 32.2h0M221.0 104.9h0M288.4 60.9h0M233.2 98.2h0M295.8 57.4h0M208.7 117.3h0M231.7 99.6h0M301.9 44.6h0M233.3 103.9h0M200.4 124.5h0M339.7 27.1h0M291.7 60.6h0M277.8 66.8h0M196.9 127.6h0M260.5 84.9h0M242.2 94.3h0M206.9 121.6h0M328.1 35.7h0M199.0 123.5h0M252.9 86.0h0M329.4 31.9h0M273.1 67.7h0M286.6 61.2h0M288.4 54.5h0M240.3 93.7h0M243.7 93.2h0M306.5 46.8h0M215.8 113.6h0M269.5 69.1h0M271.5 73.1h0M281.4 67.0h0M301.1 46.0h0M230.6 100.4h0M279.6 70.6h0M237.5 100.7h0M195.8 126.0h0M264.6 81.9h0M296.5 58.2h0M338.1 20.5h0M333.4 22.8h0M270.4 70.1h0M204.5 120.3h0M291.4 59.8h0M210.1 116.4h0M338.7 23.7h0M311.5 48.2h0M205.2 116.8h0M312.9 45.2h0M230.3 106.4h0M289.9 57.0h0M289.3 62.4h0M259.6 81.7h0M215.2 109.7h0M343.2 22.6h0M320.3 35.9h0M204.2 126.8h0M264.8 78.4h0M294.7 52.3h0M332.9 27.6h0M275.9 67.5h0M269.2 79.0h0M211.2 114.2h0M290.9 60.3h0M256.8 86.1h0M263.0 75.6h0M229.5 101.7h0M237.8 93.7h0M327.3 29.3h0M214.3 110.9h0M254.3 80.5h0M249.3 85.1h0M254.3 81.3h0M220.6 115.1h0M198.3 126.9h0M312.3 45.1h0M208.2 117.4h0M268.4 77.3h0M329.8 29.6h0M207.7 114.9h0M269.6 77.9h0M222.1 111.2h0M299.9 46.0h0M214.2 114.8h0M218.5 107.6h0M282.9 60.2h0M277.0 73.7h0M197.1 124.9h0M203.5 122.6h0M305.4 50.1h0M230.5 101.0h0M264.9 77.8h0M309.0 47.2h0M201.9 124.7h0M207.8 124.3h0M212.8 111.8h0M260.3 80.7h0M249.2 91.4h0M267.6 74.5h0M322.3 31.6h0M262.1 74.8h0M306.8 43.0h0M268.7 76.7h0M201.5 120.0h0M258.6 83.2h0M214.4 113.1h0M334.4 27.4h0M211.7 118.0h0M223.7 102.9h0M338.1 20.1h0M296.5 56.8h0M210.1 122.9h0M324.4 28.3h0M220.1 113.0h0M241.1 91.0h0M333.9 25.6h0M298.1 54.6h0M343.7 16.7h0M254.9 86.0h0M333.5 31.0h0M305.2 47.8h0M233.6 105.7h0M298.2 57.7h0M226.0 105.9h0M251.3 86.6h0M323.5 33.8h0M297.1 53.6h0M327.4 34.6h0M228.7 109.6h0M318.7 40.7h0M288.0 59.5h0M207.7 115.5h0M236.5 99.8h0M321.7 33.9h0M291.5 58.7h0M326.7 36.1h0M227.0 110.3h0M200.0 124.1h0M198.3 122.3h0M271.0 69.1h0M315.2 40.0h0M317.5 39.3h0M321.7 30.9h0M228.1 105.5h0M298.5 52.6h0M227.6 109.8h0M240.3 95.1h0M261.0 75.2h0M264.8 78.7h0M211.3 119.3h0M250.3 93.0h0M239.6 91.6h0M330.2 26.5h0M337.2 25.5h0M235.1 99.5h0M308.5 49.1h0M207.4 117.8h0M202.8 123.6h0M225.0 104.6h0M283.8 68.4h0M215.6 114.2h0M246.6 91.7h0M232.5 98.0h0M227.3 109.8h0M257.2 87.9h0M196.0 125.2h0M330.5 24.4h0M271.4 69.0h0M207.2 119.9h0M321.3 36.2h0M195.7 125.6h0M343.5 22.2h0M261.4 78.1h0M230.6 97.8h0M218.9 115.2h0M237.6 101.4h0M337.0 25.8h0M227.1 104.7h0M205.6 118.5h0M235.2 94.4h0M318.1 37.9h0M235.9 100.2h0M250.9 85.8h0M240.4 94.9h0M229.2 102.5h0M252.8 90.2h0M309.7 48.0h0M253.1 91.0h0M286.1 56.5h0M316.5 37.2h0M275.5 64.7h0M282.3 66.2h0M235.8 97.1h0M307.5 50.3h0M262.2 77.3h0M232.2 102.3h0M317.0 42.0h0M240.8 99.2h0M340.8 17.1h0M213.0 120.9h0M203.1 120.6h0M344.4 21.8h0M214.8 113.5h0M344.0 15.9h0M304.1 45.6h0M246.5 95.8h0M284.1 62.3h0M338.1 27.4h0M334.8 25.8h0M205.9 119.2h0M212.7 113.7h0M209.3 120.5h0M304.5 42.8h0M311.2 46.3h0M259.3 86.7h0M203.5 118.0h0M205.3 117.8h0M302.5 50.9h0M205.9 124.6h0M293.5 57.0h0M224.1 106.4h0M341.2 21.9h0M199.1 125.5h0M268.3 76.9h0M263.6 75.3h0M287.6 60.6h0M285.6 67.2h0M327.8 28.7h0M301.9 46.8h0M234.8 94.9h0M306.2 43.7h0M314.0 42.1h0M312.4 44.2h0M212.8 118.5h0M310.5 42.8h0M305.8 45.0h0M202.9 123.4h0M200.6 123.6h0M331.1 32.1h0M299.6 50.5h0M208.7 119.2h0M202.0 126.9h0M308.8 40.3h0M230.9 102.9h0M240.6 97.5h0M284.8 59.6h0M201.3 120.6h0M209.5 118.1h0M209.6 113.2h0M238.7 91.8h0M273.9 68.1h0M226.5 104.9h0M246.4 92.3h0M211.6 118.0h0M280.3 69.9h0M310.9 46.1h0M271.7 67.4h0M325.8 33.8h0M274.6 68.7h0M202.1 119.8h0M327.7 30.4h0M242.2 98.5h0M255.7 82.3h0M242.9 93.7h0M276.6 70.9h0M293.0 61.1h0M235.6 95.0h0M340.6 18.9h0M316.5 43.6h0M296.1 51.9h0M259.8 81.9h0M224.7 108.0h0M341.8 21.2h0M274.4 69.7h0M222.2 112.8h0M202.5 123.4h0M276.8 73.8h0M211.7 121.7h0M281.8 59.9h0M231.2 98.5h0M322.6 36.2h0M324.7 28.0h0M248.4 93.4h0M207.8 118.0h0M276.9 72.4h0M217.4 109.7h0M197.8 127.9h0M281.6 60.0h0M206.6 120.3h0M278.9 62.0h0M323.4 34.5h0M277.3 69.7h0M239.3 97.4h0M241.4 97.4h0M260.3 76.0h0M239.2 91.7h0M324.9 28.2h0M249.1 91.6h0M245.3 86.8h0M215.4 113.2h0M221.7 112.9h0M217.3 117.5h0M288.2 57.1h0M245.8 92.4h0M210.5 122.1h0M208.0 121.5h0M259.3 85.2h0M202.1 120.1h0M268.0 72.4h0M221.3 107.8h0M302.6 49.7h0M208.5 120.8h0M210.4 112.5h0M224.2 106.3h0M256.3 80.9h0M208.9 122.4h0M204.4 122.5h0M309.7 42.5h0M284.4 60.5h0M282.5 59.7h0M337.8 28.1h0M337.5 25.4h0M251.5 88.6h0M309.4 48.6h0M256.9 81.5h0M214.0 112.9h0M291.7 52.9h0M276.5 63.9h0M305.0 44.5h0M250.1 92.2h0M298.9 47.9h0M285.8 60.6h0M342.8 16.6h0M276.9 68.1h0M258.3 83.7h0M245.5 94.8h0M278.2 64.8h0M216.2 115.1h0M266.1 72.8h0M247.4 94.9h0M245.2 89.7h0M277.8 63.0h0M236.2 103.1h0M197.3 123.6h0M235.4 96.3h0M197.7 127.4h0M275.9 64.0h0M294.7 55.8h0M279.5 63.7h0M279.5 71.9h0M325.7 30.9h0M196.2 126.8h0M301.4 49.3h0M277.0 70.4h0M247.8 87.0h0M299.5 51.3h0M261.6 78.1h0M265.2 78.3h0M313.7 43.4h0M266.5 79.9h0M302.6 52.3h0M203.2 127.7h0M250.4 85.6h0M299.2 48.3h0M277.5 63.2h0M286.8 64.2h0M295.6 55.0h0M305.0 44.4h0M254.1 86.0h0M225.4 111.2h0M332.1 28.2h0M196.0 126.5h0M296.0 54.5h0M294.3 56.2h0M307.4 49.7h0M335.6 24.9h0M299.0 55.7h0M221.9 114.0h0M203.8 122.2h0M297.9 48.0h0M233.3 103.0h0M217.5 109.2h0M230.1 102.0h0M258.5 79.3h0M226.9 110.0h0M198.4 123.5h0M216.0 113.6h0M281.3 65.0h0M334.8 25.3h0M204.1 118.4h0M273.8 66.3h0M301.6 52.3h0M221.9 114.2h0M339.2 20.7h0M208.5 118.9h0M226.9 108.9h0M206.7 120.4h0M243.9 96.4h0M242.9 89.6h0M195.9 127.8h0M239.5 95.2h0M296.6 52.2h0M262.7 74.7h0M195.4 128.1h0M288.7 57.8h0M335.0 20.7h0M204.7 119.3h0M216.3 109.3h0M211.5 122.1h0M230.8 106.8h0M326.4 31.1h0M304.2 50.9h0M280.3 66.8h0M274.9 65.3h0M279.7 67.5h0M323.3 37.0h0M256.8 84.6h0M225.3 103.9h0M209.9 119.2h0M228.0 101.8h0M295.6 58.9h0M206.4 126.0h0M236.1 98.0h0M287.4 65.1h0M316.7 42.7h0M276.3 70.3h0M226.0 107.7h0M214.1 110.4h0M228.2 106.5h0M272.7 69.3h0M244.7 87.1h0M213.0 111.6h0M337.1 20.4h0M283.3 65.3h0M201.3 127.4h0M308.9 47.6h0M203.5 118.3h0M283.4 68.6h0M295.1 49.7h0M285.2 58.0h0M215.3 113.1h0M290.1 57.0h0M222.9 111.2h0M234.7 98.4h0M202.1 121.6h0M300.6 45.6h0M261.4 77.7h0M283.0 61.1h0M254.8 86.5h0M332.4 23.3h0M258.7 83.2h0M196.2 124.4h0M217.4 111.7h0M249.4 92.1h0M338.1 27.4h0M203.1 118.9h0M268.6 74.8h0M206.2 121.0h0M332.0 27.4h0M249.5 87.0h0M278.2 72.5h0M272.0 70.4h0M289.9 59.2h0M275.3 68.6h0M203.0 126.1h0M229.7 98.8h0M237.8 94.4h0M292.9 51.4h0M314.5 41.5h0M203.7 125.2h0M243.6 94.2h0M227.7 101.2h0M233.1 101.9h0M342.0 22.0h0M258.6 84.7h0M300.4 49.7h0M208.6 115.6h0M229.2 106.0h0M246.4 90.2h0M209.9 121.2h0M297.5 54.6h0M326.0 27.0h0M311.7 45.6h0M254.5 83.8h0M342.0 23.3h0M335.5 19.9h0M298.6 49.9h0M324.8 36.0h0M264.9 78.1h0M202.7 125.2h0M226.1 109.6h0M201.5 121.1h0M223.5 108.4h0M229.9 102.1h0M256.9 79.5h0M263.7 73.1h0M247.8 91.1h0M262.0 74.3h0M261.6 84.2h0M238.8 94.3h0M313.5 45.0h0M309.0 44.2h0M217.2 108.6h0M279.3 62.9h0M284.1 59.2h0M249.6 90.3h0M281.9 62.7h0M272.3 76.1h0M301.8 49.4h0M197.7 122.8h0M215.0 109.3h0M287.0 62.4h0M251.7 91.5h0M214.1 116.8h0M333.3 28.7h0M225.4 111.3h0M231.4 101.1h0M256.8 81.0h0M323.0 33.9h0M203.2 121.3h0M300.0 55.7h0M199.6 128.4h0M319.6 31.3h0M264.9 81.7h0M278.7 71.8h0M292.1 54.4h0M317.7 38.0h0M205.1 120.6h0M210.6 113.1h0M285.4 62.8h0M263.1 76.5h0M240.0 95.0h0M328.6 30.6h0M321.5 36.0h0M233.4 96.8h0M259.8 82.9h0M196.3 126.8h0M286.3 59.1h0M339.6 22.6h0M300.4 47.7h0M314.8 38.7h0M207.0 119.8h0M213.8 114.8h0M328.2 29.2h0M215.7 116.3h0M235.5 100.1h0M308.9 42.1h0M218.0 108.0h0M283.6 58.9h0M330.7 23.8h0M317.5 41.4h0M300.4 56.2h0M239.3 98.5h0M271.6 67.0h0M265.2 78.9h0M229.2 101.5h0M203.0 118.3h0M211.5 112.2h0M196.6 126.0h0M259.7 83.5h0M208.4 123.8h0M316.5 38.6h0M203.8 123.4h0M195.9 124.6h0M275.8 67.6h0M330.2 30.1h0M288.9 63.3h0M257.7 81.7h0M282.0 60.4h0M212.6 111.9h0M304.0 49.7h0M212.9 120.0h0M209.0 115.6h0M232.6 104.3h0M275.3 75.0h0M297.7 56.1h0M294.8 57.8h0M262.3 84.2h0M297.7 53.1h0M276.3 68.8h0M234.9 101.4h0M314.0 42.6h0M199.0 125.1h0M245.2 97.2h0M228.1 102.4h0M200.0 120.5h0M235.7 98.1h0M267.3 70.6h0M335.6 28.6h0M211.8 116.2h0M295.0 50.7h0M219.1 108.5h0M264.9 79.9h0M308.6 43.3h0M196.5 123.8h0M237.6 93.2h0M227.0 108.6h0M255.0 82.5h0M244.9 95.9h0M343.0 21.5h0M202.2 127.3h0M322.7 33.9h0M210.2 119.8h0M310.9 48.4h0M312.7 39.0h0M211.0 122.1h0M320.1 38.3h0M199.3 122.0h0M270.3 78.3h0M296.6 54.6h0M273.4 70.7h0M316.4 38.8h0M324.2 32.7h0M253.6 91.0h0M284.5 62.2h0M195.5 128.0h0M218.5 110.8h0M198.1 126.0h0M238.8 100.0h0M231.2 104.9h0M272.1 73.1h0M306.7 50.5h0M207.3 117.7h0M197.5 128.2h0M198.9 124.1h0M327.2 30.0h0M243.1 91.1h0M306.4 46.7h0M255.6 88.1h0M210.3 112.7h0M325.7 35.4h0M298.1 56.0h0M261.6 75.4h0M214.2 117.2h0M207.7 120.9h0M243.4 97.9h0M302.6 47.8h0M205.9 121.6h0M280.1 61.0h0M255.2 80.7h0M231.6 104.7h0M330.5 24.3h0M235.1 99.6h0M334.1 30.3h0M307.6 41.9h0M300.6 52.8h0M197.7 126.3h0M259.6 77.9h0M209.9 117.2h0M260.5 78.1h0M261.4 84.2h0M252.9 85.0h0M287.6 64.7h0M205.7 124.8h0M328.0 35.1h0M213.7 119.6h0M233.1 99.4h0M226.4 109.1h0M279.7 62.6h0M228.7 105.0h0M313.9 42.2h0M285.2 60.3h0M317.8 39.4h0M274.6 67.8h0M269.5 72.0h0M242.5 98.7h0M249.2 85.7h0M244.5 89.6h0M292.5 53.8h0M292.6 56.4h0M245.0 93.0h0M340.8 22.1h0M216.2 111.5h0M208.3 120.8h0M328.2 25.6h0M224.1 103.5h0M262.6 82.7h0M209.2 122.2h0M242.6 94.3h0M274.5 75.0h0M334.1 31.2h0M271.4 77.5h0M306.0 47.7h0M273.2 69.1h0M209.8 117.8h0M221.9 103.9h0M332.5 24.1h0M338.6 22.7h0M222.7 107.6h0M202.7 124.1h0M229.9 98.0h0M217.6 111.6h0M329.5 26.3h0M313.4 40.7h0M234.9 98.5h0M260.1 79.0h0M275.9 72.0h0M324.0 32.6h0M271.3 68.8h0M261.0 84.4h0M213.7 110.8h0M239.2 97.0h0M241.3 100.1h0M268.6 78.7h0M219.4 108.4h0M264.3 72.4h0M292.4 55.0h0M293.5 56.3h0M315.9 36.3h0M333.7 31.5h0M244.1 93.6h0M245.9 94.5h0M298.3 54.8h0M342.7 14.4h0M234.1 101.4h0M328.5 28.2h0M304.7 51.3h0M256.3 85.9h0M299.3 53.6h0M316.1 34.5h0M314.1 35.9h0M272.6 70.1h0M262.2 83.0h0M226.4 106.0h0M300.2 51.6h0M267.1 76.9h0M340.3 16.8h0M247.7 93.5h0M236.3 95.1h0M301.6 52.1h0M296.6 56.5h0M299.4 57.1h0M317.5 33.6h0M201.9 125.7h0M233.2 99.1h0M328.8 27.2h0M244.9 97.3h0M286.6 62.3h0M215.2 117.5h0M243.7 98.0h0M238.1 96.1h0M245.5 96.2h0M298.4 53.7h0M197.5 123.7h0M233.1 103.4h0M234.5 98.4h0M246.4 85.9h0M310.6 41.3h0M338.3 27.4h0M272.2 73.0h0M293.4 51.4h0M343.8 19.9h0M267.6 77.5h0M271.8 75.8h0M260.9 78.4h0M211.8 114.6h0M240.4 93.7h0M265.4 78.2h0M234.0 99.9h0M289.7 64.4h0M214.4 110.2h0M290.0 61.8h0M298.6 50.6h0M200.9 123.4h0M313.4 38.3h0M284.8 61.0h0M326.9 26.1h0M274.5 67.9h0M295.7 54.9h0M245.7 96.9h0M251.5 88.9h0M280.1 64.1h0M272.0 76.9h0M342.2 19.2h0M277.7 69.8h0M204.2 120.0h0M269.8 77.8h0M247.5 93.6h0M269.8 77.3h0M331.5 26.1h0M241.0 90.2h0M306.9 46.4h0M321.7 30.8h0M250.5 91.7h0M215.5 114.4h0M321.9 38.1h0M216.0 113.0h0M238.9 96.0h0M266.8 79.8h0M285.7 57.2h0M236.3 94.9h0M228.1 107.5h0M304.3 42.9h0M301.2 45.3h0M202.6 124.8h0M310.0 39.0h0M312.6 40.3h0M316.1 42.5h0M254.3 86.4h0M246.4 86.7h0M273.1 72.5h0M200.3 125.0h0M221.1 108.7h0M276.1 66.6h0M235.0 94.5h0M293.7 59.2h0M343.7 18.5h0M241.5 93.3h0M277.4 68.9h0M201.4 124.0h0M330.7 26.5h0M276.1 74.2h0M205.3 126.4h0M233.1 101.1h0M229.5 101.4h0M249.8 90.3h0M268.9 70.0h0M295.0 54.6h0M201.4 123.1h0M332.6 29.4h0M329.3 27.4h0M205.8 116.4h0M216.0 117.9h0M197.3 122.2h0M336.9 26.8h0M322.6 32.0h0M207.7 123.2h0M302.1 47.2h0M291.4 59.0h0M210.4 119.3h0M229.5 103.4h0M307.6 41.6h0M225.3 105.9h0M231.5 103.8h0M317.9 41.6h0M279.7 66.8h0M284.6 60.4h0M291.6 54.1h0M331.7 30.7h0M298.1 52.4h0M273.7 70.3h0M284.5 58.3h0M259.1 80.7h0M322.6 30.0h0M320.2 41.2h0M337.1 21.3h0M228.4 100.7h0M307.4 48.1h0M218.5 113.9h0M221.5 112.6h0M245.6 95.9h0M260.7 76.4h0M303.2 51.4h0M196.6 124.2h0M207.8 118.8h0M265.9 77.6h0M329.8 28.9h0M264.7 79.6h0M337.0 28.4h0M263.1 77.4h0M204.1 118.9h0M214.9 114.1h0M274.7 65.8h0M261.5 83.9h0M323.5 37.8h0M314.0 40.7h0M257.7 78.1h0M339.3 21.3h0M298.7 54.1h0M217.6 107.8h0M271.5 69.4h0M264.3 80.0h0M237.8 100.9h0M322.3 40.0h0M197.4 127.3h0M299.0 50.4h0M296.2 50.2h0M257.9 87.9h0M240.8 90.7h0M266.6 72.6h0M260.2 85.0h0M338.9 24.6h0M290.2 57.8h0M282.4 64.7h0M243.3 91.6h0M253.3 80.7h0M297.1 54.6h0M234.0 102.7h0M297.7 52.8h0M265.3 72.7h0M225.6 109.0h0M243.2 96.3h0M320.9 31.1h0M209.1 118.2h0M203.0 118.1h0M244.9 87.8h0M331.4 31.7h0M295.5 50.2h0M196.6 125.0h0M302.0 45.7h0M209.1 121.1h0M252.1 87.2h0M204.1 118.4h0M240.7 95.5h0M244.7 95.9h0M295.8 56.9h0M284.0 61.4h0M272.7 68.6h0M327.9 29.4h0M276.2 71.5h0M294.7 51.3h0M198.0 124.7h0M262.7 77.0h0M224.2 110.2h0M206.7 117.3h0M253.0 82.0h0M313.2 42.7h0M326.9 29.0h0M260.8 80.3h0M315.2 39.0h0M280.3 70.9h0M249.2 84.5h0M291.7 55.0h0M282.3 69.8h0M326.7 27.6h0M235.1 97.1h0M260.2 78.3h0M271.7 69.4h0M304.3 52.5h0M314.0 45.8h0M220.9 108.3h0M246.2 86.6h0M260.7 76.8h0M318.9 33.6h0M219.5 107.8h0M294.0 55.9h0M229.3 104.5h0M270.1 77.7h0M205.7 121.8h0M222.1 105.6h0M333.9 29.3h0M219.2 114.6h0M213.1 112.3h0M223.3 113.0h0M324.5 35.7h0M226.1 110.4h0M282.1 60.8h0M330.0 28.0h0M320.7 30.6h0M332.7 24.4h0M321.6 36.0h0M196.1 127.3h0M251.6 91.8h0M290.9 53.6h0M242.7 99.2h0M295.4 54.2h0M222.9 113.1h0M208.0 118.5h0M253.0 87.2h0M316.2 41.9h0M271.7 75.6h0M300.0 49.2h0M204.0 127.0h0M295.4 51.6h0M265.4 76.2h0M230.7 98.7h0M296.8 51.1h0M200.5 124.0h0M232.0 105.7h0M215.5 109.1h0M337.3 23.5h0M225.0 110.5h0M254.6 83.8h0M257.0 84.5h0M251.2 88.6h0M310.0 45.5h0M234.6 100.1h0M305.1 43.1h0M207.7 116.7h0M343.1 20.1h0M267.8 78.1h0M334.1 31.3h0M219.9 116.1h0M344.0 17.9h0M215.4 109.3h0M258.9 86.2h0M202.2 124.3h0M316.3 39.7h0M332.2 31.9h0M203.2 120.4h0M295.4 51.1h0M258.1 83.8h0M202.1 122.5h0M321.7 40.6h0M257.1 78.6h0M208.5 114.5h0M286.4 64.0h0M244.3 93.9h0M344.3 16.0h0M263.5 78.9h0M219.1 108.0h0M306.0 47.0h0M333.1 25.0h0M238.5 99.3h0M306.3 47.7h0M342.0 22.2h0M252.7 84.8h0M335.2 25.6h0M289.2 53.9h0M263.4 78.5h0M321.5 32.7h0M274.6 72.0h0M303.9 50.5h0M257.3 79.8h0M216.8 114.0h0M311.5 39.6h0M282.7 60.9h0M338.2 25.0h0M333.2 24.2h0M323.2 38.0h0M332.9 23.2h0M241.6 99.9h0M273.0 76.4h0M240.3 92.0h0M289.9 61.5h0M304.6 50.9h0M343.1 24.1h0M290.6 56.5h0M255.2 80.0h0M244.5 90.9h0M235.7 102.4h0M200.4 124.3h0M236.0 97.0h0M288.5 60.7h0M323.6 36.7h0M303.1 53.3h0M333.4 27.6h0M220.5 107.4h0M279.1 68.3h0M215.2 119.6h0M270.6 67.8h0M224.4 108.9h0M225.3 107.9h0M267.5 80.4h0M195.9 123.5h0M225.7 109.9h0M238.7 95.8h0M317.2 43.7h0M311.5 46.8h0M264.9 76.7h0M241.9 90.1h0M246.2 86.0h0M253.8 84.6h0M238.9 97.7h0M322.8 38.8h0M238.6 97.7h0M338.4 28.2h0M224.5 104.9h0M210.5 122.6h0M261.5 76.9h0M320.9 40.0h0M226.3 106.9h0M238.6 100.5h0M333.9 30.6h0M222.5 104.0h0M215.6 114.4h0M300.8 50.9h0M321.5 33.8h0M260.4 80.4h0M313.8 41.9h0M252.1 85.4h0M337.4 23.0h0M342.3 22.5h0M236.4 100.2h0M205.5 117.7h0M233.7 97.7h0M258.7 84.2h0M272.1 71.2h0M316.5 37.4h0M210.7 121.4h0M257.1 78.6h0M287.9 55.6h0M310.0 43.1h0M269.7 76.6h0M282.3 69.4h0M235.2 96.3h0M302.2 54.6h0M277.9 64.0h0M267.0 72.8h0M251.0 92.0h0M220.1 115.7h0M282.7 65.3h0M211.7 115.9h0M325.1 34.4h0M328.7 33.0h0M329.3 27.5h0M224.9 103.1h0M206.1 123.1h0M241.7 91.3h0M227.7 102.4h0M239.8 96.6h0' stroke='#bebebe' stroke-width='1.7' stroke-linecap='round' fill='none'/>
<path d='M343.6 18.7h0M343.9 21.7h0M325.3 32.2h0M306.6 46.4h0M314.0 33.9h0M317.2 32.3h0M322.0 34.1h0M306.0 51.6h0M320.3 33.4h0M328.2 24.6h0M319.7 36.8h0M306.7 41.0h0M306.9 50.2h0M328.5 34.3h0M327.1 31.6h0M320.2 33.5h0M322.7 29.6h0M342.8 18.5h0M310.1 47.8h0M340.9 16.3h0M339.7 26.4h0M324.2 30.6h0M300.7 52.2h0M324.3 37.8h0M329.7 33.5h0M331.1 30.2h0M342.7 17.8h0M344.7 18.7h0M311.3 46.7h0M334.2 22.1h0M321.5 30.5h0M334.4 28.2h0M331.0 24.4h0M306.0 46.9h0M320.3 32.5h0M341.1 22.0h0M318.7 39.5h0M309.0 47.5h0M305.8 47.5h0M329.1 27.6h0M343.4 24.8h0M328.4 25.7h0M310.5 46.9h0M316.5 36.9h0M323.3 31.4h0M305.3 44.4h0M317.0 36.0h0M301.8 53.2h0M340.2 16.4h0M333.1 28.8h0M334.5 29.2h0M317.0 36.0h0M337.1 26.2h0M320.2 35.1h0M327.3 25.7h0M306.0 47.4h0M326.8 34.0h0M303.4 51.9h0M302.6 46.1h0M300.8 45.9h0' stroke='#c8c8c8' stroke-width='1.7' stroke-linecap='round' fill='none'/>
<clipPath id='cb'><rect x='189' y='12' width='162' height='121'/></clipPath>
<g clip-path='url(#cb)'>
<line x1='180' y1='134.4' x2='360' y2='0.7' stroke='#ff2222' stroke-width='0.9' stroke-dasharray='3.2 2'/>
<line x1='180' y1='145.1' x2='360' y2='11.7' stroke='#22ee22' stroke-width='0.9' stroke-dasharray='3.2 2'/>
</g>
<text x='196.00' y='137.60' font-size='2.8' font-family="'Liberation Sans',Arial,sans-serif" text-anchor='middle' fill='#4d4d4d'>0</text>
<text x='187.30' y='129.90' font-size='2.8' font-family="'Liberation Sans',Arial,sans-serif" text-anchor='end' fill='#4d4d4d'>0</text>
<text x='233.95' y='137.60' font-size='2.8' font-family="'Liberation Sans',Arial,sans-serif" text-anchor='middle' fill='#4d4d4d'>5</text>
<text x='187.30' y='101.45' font-size='2.8' font-family="'Liberation Sans',Arial,sans-serif" text-anchor='end' fill='#4d4d4d'>5</text>
<text x='271.90' y='137.60' font-size='2.8' font-family="'Liberation Sans',Arial,sans-serif" text-anchor='middle' fill='#4d4d4d'>10</text>
<text x='187.30' y='73.00' font-size='2.8' font-family="'Liberation Sans',Arial,sans-serif" text-anchor='end' fill='#4d4d4d'>10</text>
<text x='309.85' y='137.60' font-size='2.8' font-family="'Liberation Sans',Arial,sans-serif" text-anchor='middle' fill='#4d4d4d'>15</text>
<text x='187.30' y='44.55' font-size='2.8' font-family="'Liberation Sans',Arial,sans-serif" text-anchor='end' fill='#4d4d4d'>15</text>
<text x='347.80' y='137.60' font-size='2.8' font-family="'Liberation Sans',Arial,sans-serif" text-anchor='middle' fill='#4d4d4d'>20</text>
<text x='187.30' y='16.10' font-size='2.8' font-family="'Liberation Sans',Arial,sans-serif" text-anchor='end' fill='#4d4d4d'>20</text>
<text x='270.00' y='141.50' font-size='3.6' font-family="'Liberation Sans',Arial,sans-serif" text-anchor='middle' font-weight='bold' fill='#111'>GroupA</text>
<text transform='translate(181.80 72.50) rotate(-90)' font-size='3.60' font-family="'Liberation Sans',Arial,sans-serif" text-anchor='middle' font-weight='bold' fill='#111'>GroupB</text>
<rect x='259.7' y='148.2' width='4.6' height='4.6' fill='#f2f2f2'/>
<circle cx='262' cy='150.5' r='0.9' fill='#bfbfbf'/>
<text x='266.50' y='151.50' font-size='2.9' font-family="'Liberation Sans',Arial,sans-serif" text-anchor='start' fill='#333'>UnChanged</text>
<rect x='259.7' y='153.8' width='4.6' height='4.6' fill='#f2f2f2'/>
<circle cx='262' cy='156.2' r='0.9' fill='#ee1c1c'/>
<text x='266.50' y='157.15' font-size='2.9' font-family="'Liberation Sans',Arial,sans-serif" text-anchor='start' fill='#333'>Up</text>
<rect x='259.7' y='159.5' width='4.6' height='4.6' fill='#f2f2f2'/>
<circle cx='262' cy='161.8' r='0.9' fill='#22e022'/>
<text x='266.50' y='162.80' font-size='2.9' font-family="'Liberation Sans',Arial,sans-serif" text-anchor='start' fill='#333'>Down</text>
<text x='270.20' y='9.60' font-size='10.5' font-family="'Liberation Serif','Times New Roman',serif" text-anchor='middle' fill='#000'>b</text>
<rect x='361.5' y='11' width='184.3' height='34' fill='#fff' stroke='#cccccc' stroke-width='0.6'/>
<rect x='362.90' y='12.8' width='7.9' height='32.20' fill='#ff0000'/>
<text transform='translate(367.85 47.30) rotate(-90) scale(0.8929 1)' font-size='5.49' font-family="'Liberation Serif','Times New Roman',serif" text-anchor='end' fill='#111' stroke='#111' stroke-width='0.12'>Congenital Pain Insensitivity</text>
<rect x='372.06' y='14.0' width='7.9' height='31.00' fill='#ff0000'/>
<text transform='translate(377.01 47.30) rotate(-90) scale(0.8929 1)' font-size='5.49' font-family="'Liberation Serif','Times New Roman',serif" text-anchor='end' fill='#111' stroke='#111' stroke-width='0.12'>Neurogenic Inflammation</text>
<rect x='381.22' y='20.1' width='7.9' height='24.90' fill='#ff0000'/>
<text transform='translate(386.17 47.30) rotate(-90) scale(0.8929 1)' font-size='5.49' font-family="'Liberation Serif','Times New Roman',serif" text-anchor='end' fill='#111' stroke='#111' stroke-width='0.12'>Autoimmune thrombocytopenia</text>
<rect x='390.38' y='21.4' width='7.9' height='23.60' fill='#ff0000'/>
<text transform='translate(395.33 47.30) rotate(-90) scale(0.8929 1)' font-size='5.49' font-family="'Liberation Serif','Times New Roman',serif" text-anchor='end' fill='#111' stroke='#111' stroke-width='0.12'>Thrombocytopenia due to platelet alloimmunization</text>
<rect x='399.54' y='22.6' width='7.9' height='22.40' fill='#ff0000'/>
<text transform='translate(404.49 47.30) rotate(-90) scale(0.8929 1)' font-size='5.49' font-family="'Liberation Serif','Times New Roman',serif" text-anchor='end' fill='#111' stroke='#111' stroke-width='0.12'>Idiopathic urticaria</text>
<rect x='408.70' y='22.6' width='7.9' height='22.40' fill='#ff0000'/>
<text transform='translate(413.65 47.30) rotate(-90) scale(0.8929 1)' font-size='5.49' font-family="'Liberation Serif','Times New Roman',serif" text-anchor='end' fill='#111' stroke='#111' stroke-width='0.12'>Drug Dependence</text>
<rect x='417.86' y='24.3' width='7.9' height='20.70' fill='#ff0000'/>
<text transform='translate(422.81 47.30) rotate(-90) scale(0.8929 1)' font-size='5.49' font-family="'Liberation Serif','Times New Roman',serif" text-anchor='end' fill='#111' stroke='#111' stroke-width='0.12'>Drug abuse</text>
<rect x='427.02' y='24.8' width='7.9' height='20.20' fill='#ff0000'/>
<text transform='translate(431.97 47.30) rotate(-90) scale(0.8929 1)' font-size='5.49' font-family="'Liberation Serif','Times New Roman',serif" text-anchor='end' fill='#111' stroke='#111' stroke-width='0.12'>Mycobacterium avium infection</text>
<rect x='436.18' y='25.1' width='7.9' height='19.90' fill='#ff0000'/>
<text transform='translate(441.13 47.30) rotate(-90) scale(0.8929 1)' font-size='5.49' font-family="'Liberation Serif','Times New Roman',serif" text-anchor='end' fill='#111' stroke='#111' stroke-width='0.12'>Hereditary Sensory and Autonomic Neuropathies</text>
<rect x='445.34' y='25.1' width='7.9' height='19.90' fill='#ff0000'/>
<text transform='translate(450.29 47.30) rotate(-90) scale(0.8929 1)' font-size='5.49' font-family="'Liberation Serif','Times New Roman',serif" text-anchor='end' fill='#111' stroke='#111' stroke-width='0.12'>Neuralgia</text>
<rect x='454.50' y='25.4' width='7.9' height='19.60' fill='#ff0000'/>
<text transform='translate(459.45 47.30) rotate(-90) scale(0.8929 1)' font-size='5.49' font-family="'Liberation Serif','Times New Roman',serif" text-anchor='end' fill='#111' stroke='#111' stroke-width='0.12'>Mood Disorders</text>
<rect x='463.66' y='25.6' width='7.9' height='19.40' fill='#ff0000'/>
<text transform='translate(468.61 47.30) rotate(-90) scale(0.8929 1)' font-size='5.49' font-family="'Liberation Serif','Times New Roman',serif" text-anchor='end' fill='#111' stroke='#111' stroke-width='0.12'>Hyperalgesia</text>
<rect x='472.82' y='25.9' width='7.9' height='19.10' fill='#ff0000'/>
<text transform='translate(477.77 47.30) rotate(-90) scale(0.8929 1)' font-size='5.49' font-family="'Liberation Serif','Times New Roman',serif" text-anchor='end' fill='#111' stroke='#111' stroke-width='0.12'>Cocaine Dependence</text>
<rect x='481.98' y='26.1' width='7.9' height='18.90' fill='#ff0000'/>
<text transform='translate(486.93 47.30) rotate(-90) scale(0.8929 1)' font-size='5.49' font-family="'Liberation Serif','Times New Roman',serif" text-anchor='end' fill='#111' stroke='#111' stroke-width='0.12'>Acute lower respiratory tract infection</text>
<rect x='491.14' y='26.2' width='7.9' height='18.80' fill='#ff0000'/>
<text transform='translate(496.09 47.30) rotate(-90) scale(0.8929 1)' font-size='5.49' font-family="'Liberation Serif','Times New Roman',serif" text-anchor='end' fill='#111' stroke='#111' stroke-width='0.12'>Chronic gingivitis</text>
<rect x='500.30' y='26.2' width='7.9' height='18.80' fill='#ff0000'/>
<text transform='translate(505.25 47.30) rotate(-90) scale(0.8929 1)' font-size='5.49' font-family="'Liberation Serif','Times New Roman',serif" text-anchor='end' fill='#111' stroke='#111' stroke-width='0.12'>Familial alcoholism</text>
<rect x='509.46' y='26.2' width='7.9' height='18.80' fill='#ff0000'/>
<text transform='translate(514.41 47.30) rotate(-90) scale(0.8929 1)' font-size='5.49' font-family="'Liberation Serif','Times New Roman',serif" text-anchor='end' fill='#111' stroke='#111' stroke-width='0.12'>Bradycardia-tachycardia syndrome</text>
<rect x='518.62' y='26.2' width='7.9' height='18.80' fill='#ff0000'/>
<text transform='translate(523.57 47.30) rotate(-90) scale(0.8929 1)' font-size='5.49' font-family="'Liberation Serif','Times New Roman',serif" text-anchor='end' fill='#111' stroke='#111' stroke-width='0.12'>GIANT PIGMENTED HAIRY NEVUS</text>
<rect x='527.78' y='26.2' width='7.9' height='18.80' fill='#ff0000'/>
<text transform='translate(532.73 47.30) rotate(-90) scale(0.8929 1)' font-size='5.49' font-family="'Liberation Serif','Times New Roman',serif" text-anchor='end' fill='#111' stroke='#111' stroke-width='0.12'>Cutaneous sarcoidosis</text>
<rect x='536.94' y='26.2' width='7.9' height='18.80' fill='#ff0000'/>
<text transform='translate(541.89 47.30) rotate(-90) scale(0.8929 1)' font-size='5.49' font-family="'Liberation Serif','Times New Roman',serif" text-anchor='end' fill='#111' stroke='#111' stroke-width='0.12'>Eye pain</text>
<text transform='translate(453.00 145.50) scale(0.8000 1)' font-size='5.50' font-family="'Liberation Serif','Times New Roman',serif" text-anchor='middle' fill='#111'>Disease</text>
<text transform='translate(358.60 28.00) rotate(-90)' font-size='2.60' font-family="'Liberation Sans',Arial,sans-serif" text-anchor='middle' fill='#555'>log2(Pvalue)</text>
<text x='360.60' y='45.60' font-size='2.2' font-family="'Liberation Sans',Arial,sans-serif" text-anchor='end' fill='#666'>0</text>
<text x='360.60' y='34.00' font-size='2.2' font-family="'Liberation Sans',Arial,sans-serif" text-anchor='end' fill='#666'>2</text>
<text x='360.60' y='22.30' font-size='2.2' font-family="'Liberation Sans',Arial,sans-serif" text-anchor='end' fill='#666'>4</text>
<polygon points='124.5,193.7 140.1,194.4 155.3,198 169.6,204.9 183,213.7 194.7,225.3 203.9,239.2 210.4,253.9 215.1,269.8 216.2,286.5 214.5,303.7 210.4,320 203.9,335.7 194.7,348.6 183,359.8 169.6,369.6 155.3,375.1 140.2,378.2 124.3,380 108.2,377.8 93.9,373.1 79.6,364.9 67.3,354.7 57.1,342.4 49,328.2 43.5,312.2 40.8,295.5 40.4,279.2 44.1,262.2 49.6,246.7 57.3,232 67.3,219.8 80.2,209.6 93.9,201.4 108.8,195.9' fill='#f3f3f3'/>
<path d='M124.5 193.7L140.1 194.4M124.5 193.7L203.9 239.2M124.5 193.7L210.4 253.9M124.5 193.7L216.2 286.5M124.5 193.7L214.5 303.7M124.5 193.7L155.3 375.1M124.5 193.7L67.3 354.7M124.5 193.7L43.5 312.2M124.5 193.7L40.8 295.5M124.5 193.7L114.3 234.7M124.5 193.7L175.7 282.5M124.5 193.7L167.1 312.2M124.5 193.7L143.7 330.2M124.5 193.7L90.4 312.2M124.5 193.7L91 253M124.5 193.7L115.5 269.1M124.5 193.7L143.5 269.2M124.5 193.7L130 282.1M124.5 193.7L116.1 294.6M124.5 193.7L142.1 295M140.1 194.4L215.1 269.8M140.1 194.4L183 359.8M140.1 194.4L140.2 378.2M140.1 194.4L124.3 380M140.1 194.4L79.6 364.9M140.1 194.4L49 328.2M140.1 194.4L43.5 312.2M140.1 194.4L44.1 262.2M140.1 194.4L57.3 232M140.1 194.4L114.3 234.7M140.1 194.4L167.1 253.1M140.1 194.4L175.7 282.5M140.1 194.4L167.1 312.2M140.1 194.4L143.7 330.2M140.1 194.4L114.3 330.2M140.1 194.4L90.4 312.2M140.1 194.4L82.2 282.7M140.1 194.4L91 253M140.1 194.4L115.5 269.1M140.1 194.4L130 282.1M155.3 198L183 359.8M155.3 198L169.6 369.6M155.3 198L108.2 377.8M155.3 198L67.3 354.7M155.3 198L43.5 312.2M155.3 198L80.2 209.6M155.3 198L93.9 201.4M155.3 198L143.7 234.7M155.3 198L167.1 253.1M155.3 198L175.7 282.5M155.3 198L167.1 312.2M155.3 198L143.7 330.2M155.3 198L114.3 330.2M155.3 198L90.4 312.2M155.3 198L82.2 282.7M155.3 198L91 253M155.3 198L115.5 269.1M155.3 198L130 282.1M155.3 198L116.1 294.6M169.6 204.9L183 213.7M169.6 204.9L194.7 225.3M169.6 204.9L210.4 253.9M169.6 204.9L215.1 269.8M169.6 204.9L210.4 320M169.6 204.9L203.9 335.7M169.6 204.9L140.2 378.2M169.6 204.9L67.3 354.7M169.6 204.9L57.1 342.4M169.6 204.9L43.5 312.2M169.6 204.9L44.1 262.2M169.6 204.9L49.6 246.7M169.6 204.9L108.8 195.9M169.6 204.9L114.3 234.7M169.6 204.9L167.1 253.1M169.6 204.9L175.7 282.5M169.6 204.9L167.1 312.2M169.6 204.9L143.7 330.2M169.6 204.9L114.3 330.2M169.6 204.9L82.2 282.7M169.6 204.9L91 253M169.6 204.9L116.1 294.6M183 213.7L203.9 239.2M183 213.7L210.4 320M183 213.7L194.7 348.6M183 213.7L183 359.8M183 213.7L155.3 375.1M183 213.7L124.3 380M183 213.7L43.5 312.2M183 213.7L40.4 279.2M183 213.7L44.1 262.2M183 213.7L114.3 234.7M183 213.7L167.1 253.1M183 213.7L167.1 312.2M183 213.7L143.7 330.2M183 213.7L114.3 330.2M183 213.7L82.2 282.7M183 213.7L116.1 294.6M194.7 225.3L210.4 253.9M194.7 225.3L215.1 269.8M194.7 225.3L216.2 286.5M194.7 225.3L183 359.8M194.7 225.3L169.6 369.6M194.7 225.3L155.3 375.1M194.7 225.3L140.2 378.2M194.7 225.3L124.3 380M194.7 225.3L79.6 364.9M194.7 225.3L57.1 342.4M194.7 225.3L49 328.2M194.7 225.3L49.6 246.7M194.7 225.3L57.3 232M194.7 225.3L67.3 219.8M194.7 225.3L114.3 234.7M194.7 225.3L143.7 234.7M194.7 225.3L167.1 253.1M194.7 225.3L175.7 282.5M194.7 225.3L143.7 330.2M194.7 225.3L82.2 282.7M194.7 225.3L91 253M194.7 225.3L115.5 269.1M194.7 225.3L130 282.1M194.7 225.3L142.1 295M203.9 239.2L210.4 253.9M203.9 239.2L214.5 303.7M203.9 239.2L124.3 380M203.9 239.2L93.9 373.1M203.9 239.2L44.1 262.2M203.9 239.2L57.3 232M203.9 239.2L67.3 219.8M203.9 239.2L93.9 201.4M203.9 239.2L108.8 195.9M203.9 239.2L114.3 234.7M203.9 239.2L167.1 253.1M203.9 239.2L175.7 282.5M203.9 239.2L143.7 330.2M203.9 239.2L115.5 269.1M203.9 239.2L130 282.1M203.9 239.2L142.1 295M210.4 253.9L216.2 286.5M210.4 253.9L203.9 335.7M210.4 253.9L194.7 348.6M210.4 253.9L155.3 375.1M210.4 253.9L140.2 378.2M210.4 253.9L124.3 380M210.4 253.9L40.8 295.5M210.4 253.9L67.3 219.8M210.4 253.9L114.3 234.7M210.4 253.9L143.7 234.7M210.4 253.9L167.1 312.2M210.4 253.9L143.7 330.2M210.4 253.9L82.2 282.7M210.4 253.9L91 253M210.4 253.9L143.5 269.2M210.4 253.9L130 282.1M210.4 253.9L116.1 294.6M210.4 253.9L142.1 295M215.1 269.8L216.2 286.5M215.1 269.8L214.5 303.7M215.1 269.8L194.7 348.6M215.1 269.8L124.3 380M215.1 269.8L108.2 377.8M215.1 269.8L93.9 373.1M215.1 269.8L57.1 342.4M215.1 269.8L43.5 312.2M215.1 269.8L40.4 279.2M215.1 269.8L114.3 234.7M215.1 269.8L175.7 282.5M215.1 269.8L114.3 330.2M215.1 269.8L90.4 312.2M215.1 269.8L82.2 282.7M215.1 269.8L116.1 294.6M215.1 269.8L142.1 295M216.2 286.5L214.5 303.7M216.2 286.5L210.4 320M216.2 286.5L169.6 369.6M216.2 286.5L140.2 378.2M216.2 286.5L93.9 373.1M216.2 286.5L79.6 364.9M216.2 286.5L57.1 342.4M216.2 286.5L40.4 279.2M216.2 286.5L67.3 219.8M216.2 286.5L114.3 234.7M216.2 286.5L143.7 234.7M216.2 286.5L167.1 253.1M216.2 286.5L167.1 312.2M216.2 286.5L90.4 312.2M216.2 286.5L91 253M216.2 286.5L130 282.1M214.5 303.7L203.9 335.7M214.5 303.7L140.2 378.2M214.5 303.7L57.1 342.4M214.5 303.7L40.8 295.5M214.5 303.7L49.6 246.7M214.5 303.7L67.3 219.8M214.5 303.7L114.3 234.7M214.5 303.7L167.1 253.1M214.5 303.7L175.7 282.5M214.5 303.7L167.1 312.2M214.5 303.7L143.7 330.2M214.5 303.7L82.2 282.7M214.5 303.7L115.5 269.1M214.5 303.7L143.5 269.2M214.5 303.7L130 282.1M214.5 303.7L142.1 295M210.4 320L194.7 348.6M210.4 320L67.3 354.7M210.4 320L57.1 342.4M210.4 320L49 328.2M210.4 320L43.5 312.2M210.4 320L44.1 262.2M210.4 320L49.6 246.7M210.4 320L114.3 234.7M210.4 320L143.7 234.7M210.4 320L167.1 253.1M210.4 320L175.7 282.5M210.4 320L167.1 312.2M210.4 320L143.7 330.2M210.4 320L114.3 330.2M210.4 320L82.2 282.7M210.4 320L130 282.1M210.4 320L116.1 294.6M210.4 320L142.1 295M203.9 335.7L155.3 375.1M203.9 335.7L79.6 364.9M203.9 335.7L40.4 279.2M203.9 335.7L49.6 246.7M203.9 335.7L143.7 234.7M203.9 335.7L167.1 312.2M203.9 335.7L143.7 330.2M203.9 335.7L114.3 330.2M203.9 335.7L90.4 312.2M203.9 335.7L82.2 282.7M203.9 335.7L115.5 269.1M203.9 335.7L116.1 294.6M194.7 348.6L43.5 312.2M194.7 348.6L40.8 295.5M194.7 348.6L40.4 279.2M194.7 348.6L44.1 262.2M194.7 348.6L49.6 246.7M194.7 348.6L114.3 234.7M194.7 348.6L143.7 234.7M194.7 348.6L175.7 282.5M194.7 348.6L167.1 312.2M194.7 348.6L90.4 312.2M194.7 348.6L82.2 282.7M194.7 348.6L91 253M194.7 348.6L115.5 269.1M194.7 348.6L143.5 269.2M194.7 348.6L130 282.1M194.7 348.6L116.1 294.6M183 359.8L169.6 369.6M183 359.8L140.2 378.2M183 359.8L124.3 380M183 359.8L108.2 377.8M183 359.8L79.6 364.9M183 359.8L67.3 354.7M183 359.8L57.1 342.4M183 359.8L49 328.2M183 359.8L40.8 295.5M183 359.8L40.4 279.2M183 359.8L67.3 219.8M183 359.8L108.8 195.9M183 359.8L143.7 234.7M183 359.8L167.1 253.1M183 359.8L175.7 282.5M183 359.8L167.1 312.2M183 359.8L114.3 330.2M183 359.8L90.4 312.2M183 359.8L82.2 282.7M183 359.8L115.5 269.1M183 359.8L130 282.1M183 359.8L142.1 295M169.6 369.6L155.3 375.1M169.6 369.6L140.2 378.2M169.6 369.6L79.6 364.9M169.6 369.6L43.5 312.2M169.6 369.6L40.8 295.5M169.6 369.6L40.4 279.2M169.6 369.6L44.1 262.2M169.6 369.6L49.6 246.7M169.6 369.6L57.3 232M169.6 369.6L93.9 201.4M169.6 369.6L114.3 234.7M169.6 369.6L167.1 312.2M169.6 369.6L143.7 330.2M169.6 369.6L114.3 330.2M169.6 369.6L82.2 282.7M169.6 369.6L91 253M169.6 369.6L143.5 269.2M169.6 369.6L130 282.1M169.6 369.6L116.1 294.6M155.3 375.1L124.3 380M155.3 375.1L40.8 295.5M155.3 375.1L49.6 246.7M155.3 375.1L57.3 232M155.3 375.1L114.3 234.7M155.3 375.1L143.7 234.7M155.3 375.1L175.7 282.5M155.3 375.1L167.1 312.2M155.3 375.1L90.4 312.2M155.3 375.1L82.2 282.7M155.3 375.1L116.1 294.6M140.2 378.2L79.6 364.9M140.2 378.2L49 328.2M140.2 378.2L40.8 295.5M140.2 378.2L40.4 279.2M140.2 378.2L49.6 246.7M140.2 378.2L57.3 232M140.2 378.2L67.3 219.8M140.2 378.2L108.8 195.9M140.2 378.2L114.3 234.7M140.2 378.2L167.1 253.1M140.2 378.2L175.7 282.5M140.2 378.2L167.1 312.2M140.2 378.2L114.3 330.2M140.2 378.2L82.2 282.7M140.2 378.2L91 253M140.2 378.2L115.5 269.1M140.2 378.2L143.5 269.2M140.2 378.2L116.1 294.6M140.2 378.2L142.1 295M124.3 380L93.9 373.1M124.3 380L67.3 354.7M124.3 380L49 328.2M124.3 380L93.9 201.4M124.3 380L114.3 234.7M124.3 380L167.1 253.1M124.3 380L175.7 282.5M124.3 380L167.1 312.2M124.3 380L114.3 330.2M124.3 380L90.4 312.2M124.3 380L82.2 282.7M124.3 380L91 253M124.3 380L115.5 269.1M124.3 380L130 282.1M124.3 380L142.1 295M108.2 377.8L93.9 373.1M108.2 377.8L43.5 312.2M108.2 377.8L40.8 295.5M108.2 377.8L40.4 279.2M108.2 377.8L114.3 234.7M108.2 377.8L167.1 312.2M108.2 377.8L114.3 330.2M108.2 377.8L91 253M108.2 377.8L143.5 269.2M108.2 377.8L130 282.1M108.2 377.8L142.1 295M93.9 373.1L57.1 342.4M93.9 373.1L43.5 312.2M93.9 373.1L57.3 232M93.9 373.1L67.3 219.8M93.9 373.1L80.2 209.6M93.9 373.1L108.8 195.9M93.9 373.1L114.3 234.7M93.9 373.1L114.3 330.2M93.9 373.1L90.4 312.2M93.9 373.1L82.2 282.7M93.9 373.1L91 253M93.9 373.1L115.5 269.1M93.9 373.1L143.5 269.2M93.9 373.1L130 282.1M93.9 373.1L142.1 295M79.6 364.9L43.5 312.2M79.6 364.9L40.8 295.5M79.6 364.9L44.1 262.2M79.6 364.9L49.6 246.7M79.6 364.9L80.2 209.6M79.6 364.9L93.9 201.4M79.6 364.9L108.8 195.9M79.6 364.9L143.7 234.7M79.6 364.9L143.7 330.2M79.6 364.9L114.3 330.2M79.6 364.9L90.4 312.2M79.6 364.9L82.2 282.7M79.6 364.9L91 253M79.6 364.9L115.5 269.1M79.6 364.9L143.5 269.2M79.6 364.9L130 282.1M79.6 364.9L116.1 294.6M79.6 364.9L142.1 295M67.3 354.7L43.5 312.2M67.3 354.7L40.8 295.5M67.3 354.7L80.2 209.6M67.3 354.7L93.9 201.4M67.3 354.7L143.7 234.7M67.3 354.7L175.7 282.5M67.3 354.7L167.1 312.2M67.3 354.7L143.7 330.2M67.3 354.7L114.3 330.2M67.3 354.7L115.5 269.1M67.3 354.7L142.1 295M57.1 342.4L40.8 295.5M57.1 342.4L40.4 279.2M57.1 342.4L114.3 234.7M57.1 342.4L167.1 253.1M57.1 342.4L175.7 282.5M57.1 342.4L167.1 312.2M57.1 342.4L143.7 330.2M57.1 342.4L91 253M57.1 342.4L115.5 269.1M57.1 342.4L143.5 269.2M57.1 342.4L130 282.1M57.1 342.4L116.1 294.6M57.1 342.4L142.1 295M49 328.2L40.4 279.2M49 328.2L108.8 195.9M49 328.2L143.7 234.7M49 328.2L167.1 253.1M49 328.2L167.1 312.2M49 328.2L143.7 330.2M49 328.2L82.2 282.7M49 328.2L91 253M49 328.2L115.5 269.1M49 328.2L143.5 269.2M49 328.2L130 282.1M49 328.2L142.1 295M43.5 312.2L40.8 295.5M43.5 312.2L40.4 279.2M43.5 312.2L44.1 262.2M43.5 312.2L108.8 195.9M43.5 312.2L114.3 234.7M43.5 312.2L167.1 253.1M43.5 312.2L175.7 282.5M43.5 312.2L167.1 312.2M43.5 312.2L143.7 330.2M43.5 312.2L114.3 330.2M43.5 312.2L90.4 312.2M43.5 312.2L82.2 282.7M43.5 312.2L115.5 269.1M43.5 312.2L130 282.1M40.8 295.5L44.1 262.2M40.8 295.5L49.6 246.7M40.8 295.5L67.3 219.8M40.8 295.5L80.2 209.6M40.8 295.5L114.3 234.7M40.8 295.5L167.1 253.1M40.8 295.5L175.7 282.5M40.8 295.5L167.1 312.2M40.8 295.5L143.7 330.2M40.8 295.5L90.4 312.2M40.8 295.5L82.2 282.7M40.8 295.5L91 253M40.8 295.5L115.5 269.1M40.8 295.5L143.5 269.2M40.8 295.5L116.1 294.6M40.8 295.5L142.1 295M40.4 279.2L67.3 219.8M40.4 279.2L143.7 234.7M40.4 279.2L167.1 253.1M40.4 279.2L175.7 282.5M40.4 279.2L114.3 330.2M40.4 279.2L90.4 312.2M40.4 279.2L82.2 282.7M40.4 279.2L91 253M40.4 279.2L115.5 269.1M40.4 279.2L130 282.1M40.4 279.2L116.1 294.6M44.1 262.2L57.3 232M44.1 262.2L93.9 201.4M44.1 262.2L108.8 195.9M44.1 262.2L114.3 234.7M44.1 262.2L143.7 234.7M44.1 262.2L175.7 282.5M44.1 262.2L143.7 330.2M44.1 262.2L114.3 330.2M44.1 262.2L143.5 269.2M44.1 262.2L116.1 294.6M44.1 262.2L142.1 295M49.6 246.7L67.3 219.8M49.6 246.7L93.9 201.4M49.6 246.7L114.3 234.7M49.6 246.7L143.7 234.7M49.6 246.7L167.1 253.1M49.6 246.7L175.7 282.5M49.6 246.7L82.2 282.7M49.6 246.7L115.5 269.1M49.6 246.7L143.5 269.2M49.6 246.7L130 282.1M49.6 246.7L142.1 295M57.3 232L80.2 209.6M57.3 232L114.3 234.7M57.3 232L143.7 234.7M57.3 232L167.1 312.2M57.3 232L143.7 330.2M57.3 232L90.4 312.2M57.3 232L82.2 282.7M57.3 232L143.5 269.2M57.3 232L116.1 294.6M67.3 219.8L93.9 201.4M67.3 219.8L143.7 234.7M67.3 219.8L167.1 312.2M67.3 219.8L143.7 330.2M67.3 219.8L114.3 330.2M67.3 219.8L90.4 312.2M67.3 219.8L82.2 282.7M67.3 219.8L143.5 269.2M67.3 219.8L130 282.1M67.3 219.8L116.1 294.6M67.3 219.8L142.1 295M80.2 209.6L108.8 195.9M80.2 209.6L114.3 234.7M80.2 209.6L143.7 234.7M80.2 209.6L167.1 253.1M80.2 209.6L175.7 282.5M80.2 209.6L167.1 312.2M80.2 209.6L114.3 330.2M80.2 209.6L143.5 269.2M80.2 209.6L116.1 294.6M93.9 201.4L114.3 234.7M93.9 201.4L167.1 253.1M93.9 201.4L175.7 282.5M93.9 201.4L143.7 330.2M93.9 201.4L114.3 330.2M93.9 201.4L90.4 312.2M93.9 201.4L82.2 282.7M93.9 201.4L91 253M93.9 201.4L143.5 269.2M93.9 201.4L130 282.1M93.9 201.4L116.1 294.6M93.9 201.4L142.1 295M108.8 195.9L114.3 234.7M108.8 195.9L175.7 282.5M108.8 195.9L167.1 312.2M108.8 195.9L90.4 312.2M108.8 195.9L82.2 282.7M108.8 195.9L143.5 269.2M108.8 195.9L130 282.1M108.8 195.9L116.1 294.6M108.8 195.9L142.1 295M114.3 234.7L143.7 234.7M114.3 234.7L167.1 253.1M114.3 234.7L175.7 282.5M114.3 234.7L167.1 312.2M114.3 234.7L143.7 330.2M114.3 234.7L114.3 330.2M114.3 234.7L90.4 312.2M114.3 234.7L82.2 282.7M114.3 234.7L91 253M114.3 234.7L115.5 269.1M114.3 234.7L143.5 269.2M114.3 234.7L116.1 294.6M114.3 234.7L142.1 295M143.7 234.7L167.1 253.1M143.7 234.7L175.7 282.5M143.7 234.7L167.1 312.2M143.7 234.7L143.7 330.2M143.7 234.7L114.3 330.2M143.7 234.7L90.4 312.2M143.7 234.7L91 253M143.7 234.7L115.5 269.1M143.7 234.7L143.5 269.2M143.7 234.7L130 282.1M143.7 234.7L116.1 294.6M143.7 234.7L142.1 295M167.1 253.1L175.7 282.5M167.1 253.1L167.1 312.2M167.1 253.1L143.7 330.2M167.1 253.1L114.3 330.2M167.1 253.1L82.2 282.7M167.1 253.1L91 253M167.1 253.1L115.5 269.1M167.1 253.1L143.5 269.2M167.1 253.1L130 282.1M167.1 253.1L116.1 294.6M167.1 253.1L142.1 295M175.7 282.5L167.1 312.2M175.7 282.5L143.7 330.2M175.7 282.5L114.3 330.2M175.7 282.5L82.2 282.7M175.7 282.5L115.5 269.1M175.7 282.5L143.5 269.2M175.7 282.5L130 282.1M175.7 282.5L116.1 294.6M175.7 282.5L142.1 295M167.1 312.2L143.7 330.2M167.1 312.2L114.3 330.2M167.1 312.2L90.4 312.2M167.1 312.2L82.2 282.7M167.1 312.2L91 253M167.1 312.2L115.5 269.1M167.1 312.2L143.5 269.2M167.1 312.2L130 282.1M167.1 312.2L116.1 294.6M167.1 312.2L142.1 295M143.7 330.2L114.3 330.2M143.7 330.2L90.4 312.2M143.7 330.2L82.2 282.7M143.7 330.2L91 253M143.7 330.2L115.5 269.1M143.7 330.2L143.5 269.2M143.7 330.2L130 282.1M143.7 330.2L116.1 294.6M143.7 330.2L142.1 295M114.3 330.2L90.4 312.2M114.3 330.2L82.2 282.7M114.3 330.2L91 253M114.3 330.2L115.5 269.1M114.3 330.2L143.5 269.2M114.3 330.2L130 282.1M114.3 330.2L116.1 294.6M114.3 330.2L142.1 295M90.4 312.2L82.2 282.7M90.4 312.2L91 253M90.4 312.2L115.5 269.1M90.4 312.2L143.5 269.2M90.4 312.2L130 282.1M90.4 312.2L116.1 294.6M90.4 312.2L142.1 295M82.2 282.7L91 253M82.2 282.7L115.5 269.1M82.2 282.7L143.5 269.2M82.2 282.7L116.1 294.6M91 253L115.5 269.1M91 253L143.5 269.2M91 253L130 282.1M91 253L116.1 294.6M91 253L142.1 295M115.5 269.1L143.5 269.2M115.5 269.1L130 282.1M115.5 269.1L116.1 294.6M115.5 269.1L142.1 295M143.5 269.2L130 282.1M143.5 269.2L116.1 294.6M143.5 269.2L142.1 295M130 282.1L116.1 294.6M130 282.1L142.1 295M116.1 294.6L142.1 295' stroke='#c4c4c4' stroke-width='0.2' stroke-opacity='0.5' fill='none'/>
<ellipse cx='124.5' cy='193.7' rx='4.1' ry='4.6' fill='#f8dc5a'/>
<ellipse cx='140.1' cy='194.4' rx='4.1' ry='4.6' fill='#f7b865'/>
<ellipse cx='155.3' cy='198' rx='4.1' ry='4.6' fill='#f5a35c'/>
<ellipse cx='169.6' cy='204.9' rx='4.1' ry='4.6' fill='#f5a35c'/>
<ellipse cx='183' cy='213.7' rx='4.1' ry='4.6' fill='#f8dc5a'/>
<ellipse cx='194.7' cy='225.3' rx='4.1' ry='4.6' fill='#f5a35c'/>
<ellipse cx='203.9' cy='239.2' rx='4.1' ry='4.6' fill='#f7b865'/>
<ellipse cx='210.4' cy='253.9' rx='4.1' ry='4.6' fill='#f8dc5a'/>
<ellipse cx='215.1' cy='269.8' rx='4.1' ry='4.6' fill='#f8dc5a'/>
<ellipse cx='216.2' cy='286.5' rx='4.1' ry='4.6' fill='#f8dc5a'/>
<ellipse cx='214.5' cy='303.7' rx='4.1' ry='4.6' fill='#f8dc5a'/>
<ellipse cx='210.4' cy='320' rx='4.1' ry='4.6' fill='#f7b865'/>
<ellipse cx='203.9' cy='335.7' rx='4.1' ry='4.6' fill='#f8dc5a'/>
<ellipse cx='194.7' cy='348.6' rx='4.1' ry='4.6' fill='#f48a5a'/>
<ellipse cx='183' cy='359.8' rx='4.1' ry='4.6' fill='#f5a35c'/>
<ellipse cx='169.6' cy='369.6' rx='4.1' ry='4.6' fill='#f7b865'/>
<ellipse cx='155.3' cy='375.1' rx='4.1' ry='4.6' fill='#f8dc5a'/>
<ellipse cx='140.2' cy='378.2' rx='4.1' ry='4.6' fill='#f7b865'/>
<ellipse cx='124.3' cy='380' rx='4.1' ry='4.6' fill='#f7b865'/>
<ellipse cx='108.2' cy='377.8' rx='4.1' ry='4.6' fill='#f8dc5a'/>
<ellipse cx='93.9' cy='373.1' rx='4.1' ry='4.6' fill='#f5a35c'/>
<ellipse cx='79.6' cy='364.9' rx='4.1' ry='4.6' fill='#f8dc5a'/>
<ellipse cx='67.3' cy='354.7' rx='4.1' ry='4.6' fill='#f8dc5a'/>
<ellipse cx='57.1' cy='342.4' rx='4.1' ry='4.6' fill='#f5a35c'/>
<ellipse cx='49' cy='328.2' rx='4.1' ry='4.6' fill='#f48a5a'/>
<ellipse cx='43.5' cy='312.2' rx='4.1' ry='4.6' fill='#f8dc5a'/>
<ellipse cx='40.8' cy='295.5' rx='4.1' ry='4.6' fill='#f7b865'/>
<ellipse cx='40.4' cy='279.2' rx='4.1' ry='4.6' fill='#f8dc5a'/>
<ellipse cx='44.1' cy='262.2' rx='4.1' ry='4.6' fill='#f8dc5a'/>
<ellipse cx='49.6' cy='246.7' rx='4.1' ry='4.6' fill='#f8dc5a'/>
<ellipse cx='57.3' cy='232' rx='4.1' ry='4.6' fill='#f8dc5a'/>
<ellipse cx='67.3' cy='219.8' rx='4.1' ry='4.6' fill='#f5a35c'/>
<ellipse cx='80.2' cy='209.6' rx='4.1' ry='4.6' fill='#f8dc5a'/>
<ellipse cx='93.9' cy='201.4' rx='4.1' ry='4.6' fill='#f5a35c'/>
<ellipse cx='108.8' cy='195.9' rx='4.1' ry='4.6' fill='#f7b865'/>
<ellipse cx='114.3' cy='234.7' rx='4.1' ry='4.6' fill='#f5a35c'/>
<ellipse cx='143.7' cy='234.7' rx='4.1' ry='4.6' fill='#f48a5a'/>
<ellipse cx='167.1' cy='253.1' rx='4.1' ry='4.6' fill='#f48a5a'/>
<ellipse cx='175.7' cy='282.5' rx='4.1' ry='4.6' fill='#f48a5a'/>
<ellipse cx='167.1' cy='312.2' rx='4.1' ry='4.6' fill='#f48a5a'/>
<ellipse cx='143.7' cy='330.2' rx='4.1' ry='4.6' fill='#f26a5e'/>
<ellipse cx='114.3' cy='330.2' rx='4.1' ry='4.6' fill='#f26a5e'/>
<ellipse cx='90.4' cy='312.2' rx='4.1' ry='4.6' fill='#f47860'/>
<ellipse cx='82.2' cy='282.7' rx='4.1' ry='4.6' fill='#f26a5e'/>
<ellipse cx='91' cy='253' rx='4.1' ry='4.6' fill='#f47860'/>
<ellipse cx='115.5' cy='269.1' rx='4.1' ry='4.6' fill='#ee5a62'/>
<ellipse cx='143.5' cy='269.2' rx='4.1' ry='4.6' fill='#ee5a62'/>
<ellipse cx='130' cy='282.1' rx='4.1' ry='4.6' fill='#ee5a62'/>
<ellipse cx='116.1' cy='294.6' rx='4.1' ry='4.6' fill='#ee5a62'/>
<ellipse cx='142.1' cy='295' rx='4.1' ry='4.6' fill='#ee5a62'/>
<text transform='translate(124.50 195.80) scale(0.7692 1)' font-size='7.02' font-family="'Liberation Sans',Arial,sans-serif" text-anchor='middle' fill='#2a2a2a' stroke='#2a2a2a' stroke-width='0.15'>Egr3</text>
<text transform='translate(140.10 196.50) scale(0.7692 1)' font-size='7.02' font-family="'Liberation Sans',Arial,sans-serif" text-anchor='middle' fill='#2a2a2a' stroke='#2a2a2a' stroke-width='0.15'>Lrg1</text>
<text transform='translate(155.30 200.10) scale(0.7692 1)' font-size='7.02' font-family="'Liberation Sans',Arial,sans-serif" text-anchor='middle' fill='#2a2a2a' stroke='#2a2a2a' stroke-width='0.15'>Serpinb8</text>
<text transform='translate(169.60 207.00) scale(0.7692 1)' font-size='7.02' font-family="'Liberation Sans',Arial,sans-serif" text-anchor='middle' fill='#2a2a2a' stroke='#2a2a2a' stroke-width='0.15'>Gli1</text>
<text transform='translate(183.00 215.80) scale(0.7692 1)' font-size='7.02' font-family="'Liberation Sans',Arial,sans-serif" text-anchor='middle' fill='#2a2a2a' stroke='#2a2a2a' stroke-width='0.15'>Tmem265</text>
<text transform='translate(194.70 227.40) scale(0.7692 1)' font-size='7.02' font-family="'Liberation Sans',Arial,sans-serif" text-anchor='middle' fill='#2a2a2a' stroke='#2a2a2a' stroke-width='0.15'>Myo5c</text>
<text transform='translate(203.90 241.30) scale(0.7692 1)' font-size='7.02' font-family="'Liberation Sans',Arial,sans-serif" text-anchor='middle' fill='#2a2a2a' stroke='#2a2a2a' stroke-width='0.15'>Pomc</text>
<text transform='translate(210.40 256.00) scale(0.7692 1)' font-size='7.02' font-family="'Liberation Sans',Arial,sans-serif" text-anchor='middle' fill='#2a2a2a' stroke='#2a2a2a' stroke-width='0.15'>Fign</text>
<text transform='translate(215.10 271.90) scale(0.7692 1)' font-size='7.02' font-family="'Liberation Sans',Arial,sans-serif" text-anchor='middle' fill='#2a2a2a' stroke='#2a2a2a' stroke-width='0.15'>Foxd3</text>
<text transform='translate(216.20 288.60) scale(0.7692 1)' font-size='7.02' font-family="'Liberation Sans',Arial,sans-serif" text-anchor='middle' fill='#2a2a2a' stroke='#2a2a2a' stroke-width='0.15'>Zic4</text>
<text transform='translate(214.50 305.80) scale(0.7692 1)' font-size='7.02' font-family="'Liberation Sans',Arial,sans-serif" text-anchor='middle' fill='#2a2a2a' stroke='#2a2a2a' stroke-width='0.15'>Cd180</text>
<text transform='translate(210.40 322.10) scale(0.7692 1)' font-size='7.02' font-family="'Liberation Sans',Arial,sans-serif" text-anchor='middle' fill='#2a2a2a' stroke='#2a2a2a' stroke-width='0.15'>Dnal1</text>
<text transform='translate(203.90 337.80) scale(0.7692 1)' font-size='7.02' font-family="'Liberation Sans',Arial,sans-serif" text-anchor='middle' fill='#2a2a2a' stroke='#2a2a2a' stroke-width='0.15'>Zfp872</text>
<text transform='translate(194.70 350.70) scale(0.7692 1)' font-size='7.02' font-family="'Liberation Sans',Arial,sans-serif" text-anchor='middle' fill='#2a2a2a' stroke='#2a2a2a' stroke-width='0.15'>Sgk2</text>
<text transform='translate(183.00 361.90) scale(0.7692 1)' font-size='7.02' font-family="'Liberation Sans',Arial,sans-serif" text-anchor='middle' fill='#2a2a2a' stroke='#2a2a2a' stroke-width='0.15'>Lgr5</text>
<text transform='translate(169.60 371.70) scale(0.7692 1)' font-size='7.02' font-family="'Liberation Sans',Arial,sans-serif" text-anchor='middle' fill='#2a2a2a' stroke='#2a2a2a' stroke-width='0.15'>Vasn</text>
<text transform='translate(155.30 377.20) scale(0.7692 1)' font-size='7.02' font-family="'Liberation Sans',Arial,sans-serif" text-anchor='middle' fill='#2a2a2a' stroke='#2a2a2a' stroke-width='0.15'>Zbtb16</text>
<text transform='translate(140.20 380.30) scale(0.7692 1)' font-size='7.02' font-family="'Liberation Sans',Arial,sans-serif" text-anchor='middle' fill='#2a2a2a' stroke='#2a2a2a' stroke-width='0.15'>Actn2</text>
<text transform='translate(124.30 382.10) scale(0.7692 1)' font-size='7.02' font-family="'Liberation Sans',Arial,sans-serif" text-anchor='middle' fill='#2a2a2a' stroke='#2a2a2a' stroke-width='0.15'>Sp8</text>
<text transform='translate(108.20 379.90) scale(0.7692 1)' font-size='7.02' font-family="'Liberation Sans',Arial,sans-serif" text-anchor='middle' fill='#2a2a2a' stroke='#2a2a2a' stroke-width='0.15'>Stk33</text>
<text transform='translate(93.90 375.20) scale(0.7692 1)' font-size='7.02' font-family="'Liberation Sans',Arial,sans-serif" text-anchor='middle' fill='#2a2a2a' stroke='#2a2a2a' stroke-width='0.15'>Scgn</text>
<text transform='translate(79.60 367.00) scale(0.7692 1)' font-size='7.02' font-family="'Liberation Sans',Arial,sans-serif" text-anchor='middle' fill='#2a2a2a' stroke='#2a2a2a' stroke-width='0.15'>Aurkb</text>
<text transform='translate(67.30 356.80) scale(0.7692 1)' font-size='7.02' font-family="'Liberation Sans',Arial,sans-serif" text-anchor='middle' fill='#2a2a2a' stroke='#2a2a2a' stroke-width='0.15'>Sp7</text>
<text transform='translate(57.10 344.50) scale(0.7692 1)' font-size='7.02' font-family="'Liberation Sans',Arial,sans-serif" text-anchor='middle' fill='#2a2a2a' stroke='#2a2a2a' stroke-width='0.15'>Ccno</text>
<text transform='translate(49.00 330.30) scale(0.7692 1)' font-size='7.02' font-family="'Liberation Sans',Arial,sans-serif" text-anchor='middle' fill='#2a2a2a' stroke='#2a2a2a' stroke-width='0.15'>Nyx</text>
<text transform='translate(43.50 314.30) scale(0.7692 1)' font-size='7.02' font-family="'Liberation Sans',Arial,sans-serif" text-anchor='middle' fill='#2a2a2a' stroke='#2a2a2a' stroke-width='0.15'>Tac1</text>
<text transform='translate(40.80 297.60) scale(0.7692 1)' font-size='7.02' font-family="'Liberation Sans',Arial,sans-serif" text-anchor='middle' fill='#2a2a2a' stroke='#2a2a2a' stroke-width='0.15'>Tpbgl</text>
<text transform='translate(40.40 281.30) scale(0.7692 1)' font-size='7.02' font-family="'Liberation Sans',Arial,sans-serif" text-anchor='middle' fill='#2a2a2a' stroke='#2a2a2a' stroke-width='0.15'>Lrrc61</text>
<text transform='translate(44.10 264.30) scale(0.7692 1)' font-size='7.02' font-family="'Liberation Sans',Arial,sans-serif" text-anchor='middle' fill='#2a2a2a' stroke='#2a2a2a' stroke-width='0.15'>Pde6b</text>
<text transform='translate(49.60 248.80) scale(0.7692 1)' font-size='7.02' font-family="'Liberation Sans',Arial,sans-serif" text-anchor='middle' fill='#2a2a2a' stroke='#2a2a2a' stroke-width='0.15'>Kif18b</text>
<text transform='translate(57.30 234.10) scale(0.7692 1)' font-size='7.02' font-family="'Liberation Sans',Arial,sans-serif" text-anchor='middle' fill='#2a2a2a' stroke='#2a2a2a' stroke-width='0.15'>Map3k6</text>
<text transform='translate(67.30 221.90) scale(0.7692 1)' font-size='7.02' font-family="'Liberation Sans',Arial,sans-serif" text-anchor='middle' fill='#2a2a2a' stroke='#2a2a2a' stroke-width='0.15'>Lrmda</text>
<text transform='translate(80.20 211.70) scale(0.7692 1)' font-size='7.02' font-family="'Liberation Sans',Arial,sans-serif" text-anchor='middle' fill='#2a2a2a' stroke='#2a2a2a' stroke-width='0.15'>Oas1a</text>
<text transform='translate(93.90 203.50) scale(0.7692 1)' font-size='7.02' font-family="'Liberation Sans',Arial,sans-serif" text-anchor='middle' fill='#2a2a2a' stroke='#2a2a2a' stroke-width='0.15'>Wt1</text>
<text transform='translate(108.80 198.00) scale(0.7692 1)' font-size='7.02' font-family="'Liberation Sans',Arial,sans-serif" text-anchor='middle' fill='#2a2a2a' stroke='#2a2a2a' stroke-width='0.15'>Myh4</text>
<text transform='translate(114.30 236.80) scale(0.7692 1)' font-size='7.02' font-family="'Liberation Sans',Arial,sans-serif" text-anchor='middle' fill='#2a2a2a' stroke='#2a2a2a' stroke-width='0.15'>Myh1</text>
<text transform='translate(143.70 236.80) scale(0.7692 1)' font-size='7.02' font-family="'Liberation Sans',Arial,sans-serif" text-anchor='middle' fill='#2a2a2a' stroke='#2a2a2a' stroke-width='0.15'>Pcsk5</text>
<text transform='translate(167.10 255.20) scale(0.7692 1)' font-size='7.02' font-family="'Liberation Sans',Arial,sans-serif" text-anchor='middle' fill='#2a2a2a' stroke='#2a2a2a' stroke-width='0.15'>Ankdd1a</text>
<text transform='translate(175.70 284.60) scale(0.7692 1)' font-size='7.02' font-family="'Liberation Sans',Arial,sans-serif" text-anchor='middle' fill='#2a2a2a' stroke='#2a2a2a' stroke-width='0.15'>Gp9</text>
<text transform='translate(167.10 314.30) scale(0.7692 1)' font-size='7.02' font-family="'Liberation Sans',Arial,sans-serif" text-anchor='middle' fill='#2a2a2a' stroke='#2a2a2a' stroke-width='0.15'>Rxfp2</text>
<text transform='translate(143.70 332.30) scale(0.7692 1)' font-size='7.02' font-family="'Liberation Sans',Arial,sans-serif" text-anchor='middle' fill='#2a2a2a' stroke='#2a2a2a' stroke-width='0.15'>Calb2</text>
<text transform='translate(114.30 332.30) scale(0.7692 1)' font-size='7.02' font-family="'Liberation Sans',Arial,sans-serif" text-anchor='middle' fill='#2a2a2a' stroke='#2a2a2a' stroke-width='0.15'>Rasd1</text>
<text transform='translate(90.40 314.30) scale(0.7692 1)' font-size='7.02' font-family="'Liberation Sans',Arial,sans-serif" text-anchor='middle' fill='#2a2a2a' stroke='#2a2a2a' stroke-width='0.15'>Serpinb1b</text>
<text transform='translate(82.20 284.80) scale(0.7692 1)' font-size='7.02' font-family="'Liberation Sans',Arial,sans-serif" text-anchor='middle' fill='#2a2a2a' stroke='#2a2a2a' stroke-width='0.15'>Nras</text>
<text transform='translate(91.00 255.10) scale(0.7692 1)' font-size='7.02' font-family="'Liberation Sans',Arial,sans-serif" text-anchor='middle' fill='#2a2a2a' stroke='#2a2a2a' stroke-width='0.15'>Serpinb1a</text>
<text transform='translate(115.50 271.20) scale(0.7692 1)' font-size='7.02' font-family="'Liberation Sans',Arial,sans-serif" text-anchor='middle' fill='#2a2a2a' stroke='#2a2a2a' stroke-width='0.15'>Srms</text>
<text transform='translate(143.50 271.30) scale(0.7692 1)' font-size='7.02' font-family="'Liberation Sans',Arial,sans-serif" text-anchor='middle' fill='#2a2a2a' stroke='#2a2a2a' stroke-width='0.15'>Btk</text>
<text transform='translate(130.00 284.20) scale(0.7692 1)' font-size='7.02' font-family="'Liberation Sans',Arial,sans-serif" text-anchor='middle' fill='#2a2a2a' stroke='#2a2a2a' stroke-width='0.15'>Tnf</text>
<text transform='translate(116.10 296.70) scale(0.7692 1)' font-size='7.02' font-family="'Liberation Sans',Arial,sans-serif" text-anchor='middle' fill='#2a2a2a' stroke='#2a2a2a' stroke-width='0.15'>Trib3</text>
<text transform='translate(142.10 297.10) scale(0.7692 1)' font-size='7.02' font-family="'Liberation Sans',Arial,sans-serif" text-anchor='middle' fill='#2a2a2a' stroke='#2a2a2a' stroke-width='0.15'>Musk</text>
<rect x='342.2' y='220.4' width='169.2' height='143.6' fill='#fff' stroke='#bdbdbd' stroke-width='0.6'/>
<line x1='372.9' y1='220.4' x2='372.9' y2='364.0' stroke='#f3f3f3' stroke-width='0.4'/>
<line x1='412.2' y1='220.4' x2='412.2' y2='364.0' stroke='#f3f3f3' stroke-width='0.4'/>
<line x1='451.4' y1='220.4' x2='451.4' y2='364.0' stroke='#f3f3f3' stroke-width='0.4'/>
<line x1='490.7' y1='220.4' x2='490.7' y2='364.0' stroke='#f3f3f3' stroke-width='0.4'/>
<line x1='353.3' y1='220.4' x2='353.3' y2='364.0' stroke='#ebebeb' stroke-width='0.6'/>
<line x1='392.6' y1='220.4' x2='392.6' y2='364.0' stroke='#ebebeb' stroke-width='0.6'/>
<line x1='431.8' y1='220.4' x2='431.8' y2='364.0' stroke='#ebebeb' stroke-width='0.6'/>
<line x1='471.1' y1='220.4' x2='471.1' y2='364.0' stroke='#ebebeb' stroke-width='0.6'/>
<line x1='510.3' y1='220.4' x2='510.3' y2='364.0' stroke='#ebebeb' stroke-width='0.6'/>
<line x1='342.2' y1='226.3' x2='511.4' y2='226.3' stroke='#ebebeb' stroke-width='0.6'/>
<line x1='342.2' y1='235.8' x2='511.4' y2='235.8' stroke='#ebebeb' stroke-width='0.6'/>
<line x1='342.2' y1='245.2' x2='511.4' y2='245.2' stroke='#ebebeb' stroke-width='0.6'/>
<line x1='342.2' y1='254.7' x2='511.4' y2='254.7' stroke='#ebebeb' stroke-width='0.6'/>
<line x1='342.2' y1='264.1' x2='511.4' y2='264.1' stroke='#ebebeb' stroke-width='0.6'/>
<line x1='342.2' y1='273.6' x2='511.4' y2='273.6' stroke='#ebebeb' stroke-width='0.6'/>
<line x1='342.2' y1='283.0' x2='511.4' y2='283.0' stroke='#ebebeb' stroke-width='0.6'/>
<line x1='342.2' y1='292.4' x2='511.4' y2='292.4' stroke='#ebebeb' stroke-width='0.6'/>
<line x1='342.2' y1='301.9' x2='511.4' y2='301.9' stroke='#ebebeb' stroke-width='0.6'/>
<line x1='342.2' y1='311.4' x2='511.4' y2='311.4' stroke='#ebebeb' stroke-width='0.6'/>
<line x1='342.2' y1='320.8' x2='511.4' y2='320.8' stroke='#ebebeb' stroke-width='0.6'/>
<line x1='342.2' y1='330.2' x2='511.4' y2='330.2' stroke='#ebebeb' stroke-width='0.6'/>
<line x1='342.2' y1='339.7' x2='511.4' y2='339.7' stroke='#ebebeb' stroke-width='0.6'/>
<line x1='342.2' y1='349.1' x2='511.4' y2='349.1' stroke='#ebebeb' stroke-width='0.6'/>
<line x1='342.2' y1='358.6' x2='511.4' y2='358.6' stroke='#ebebeb' stroke-width='0.6'/>
<text transform='translate(341.20 228.50) scale(0.8197 1)' font-size='7.75' font-family="'Liberation Serif','Times New Roman',serif" text-anchor='end' fill='#111' stroke='#111' stroke-width='0.12'>Amoebiasis</text>
<circle cx='503.9' cy='226.3' r='2.3' fill='#ff1010'/>
<text transform='translate(341.20 237.95) scale(0.8197 1)' font-size='7.75' font-family="'Liberation Serif','Times New Roman',serif" text-anchor='end' fill='#111' stroke='#111' stroke-width='0.12'>Tight junction</text>
<circle cx='503.9' cy='235.8' r='2.3' fill='#ff1010'/>
<text transform='translate(341.20 247.40) scale(0.8197 1)' font-size='7.75' font-family="'Liberation Serif','Times New Roman',serif" text-anchor='end' fill='#111' stroke='#111' stroke-width='0.12'>Fc epsilon RI signaling pathway</text>
<circle cx='427.1' cy='245.2' r='1.85' fill='#ff1010'/>
<text transform='translate(341.20 256.85) scale(0.8197 1)' font-size='7.75' font-family="'Liberation Serif','Times New Roman',serif" text-anchor='end' fill='#111' stroke='#111' stroke-width='0.12'>Hepatitis C</text>
<circle cx='427.1' cy='254.7' r='1.85' fill='#ff1414'/>
<text transform='translate(341.20 266.30) scale(0.8197 1)' font-size='7.75' font-family="'Liberation Serif','Times New Roman',serif" text-anchor='end' fill='#111' stroke='#111' stroke-width='0.12'>MAPK signaling pathway</text>
<circle cx='427.1' cy='264.1' r='1.85' fill='#b0169a'/>
<text transform='translate(341.20 275.75) scale(0.8197 1)' font-size='7.75' font-family="'Liberation Serif','Times New Roman',serif" text-anchor='end' fill='#111' stroke='#111' stroke-width='0.12'>Pathways in cancer</text>
<circle cx='427.1' cy='273.6' r='1.85' fill='#1a1aff'/>
<text transform='translate(341.20 285.20) scale(0.8197 1)' font-size='7.75' font-family="'Liberation Serif','Times New Roman',serif" text-anchor='end' fill='#111' stroke='#111' stroke-width='0.12'>Acute myeloid leukemia</text>
<circle cx='350.2' cy='283.0' r='0.85' fill='#ff1050'/>
<text transform='translate(341.20 294.65) scale(0.8197 1)' font-size='7.75' font-family="'Liberation Serif','Times New Roman',serif" text-anchor='end' fill='#111' stroke='#111' stroke-width='0.12'>Adipocytokine signaling pathway</text>
<circle cx='350.2' cy='292.4' r='0.85' fill='#f0106a'/>
<text transform='translate(341.20 304.10) scale(0.8197 1)' font-size='7.75' font-family="'Liberation Serif','Times New Roman',serif" text-anchor='end' fill='#111' stroke='#111' stroke-width='0.12'>B cell receptor signaling pathway</text>
<circle cx='350.2' cy='301.9' r='0.85' fill='#ee1070'/>
<text transform='translate(341.20 313.55) scale(0.8197 1)' font-size='7.75' font-family="'Liberation Serif','Times New Roman',serif" text-anchor='end' fill='#111' stroke='#111' stroke-width='0.12'>Hematopoietic cell lineage</text>
<circle cx='350.2' cy='311.4' r='0.85' fill='#e81078'/>
<text transform='translate(341.20 323.00) scale(0.8197 1)' font-size='7.75' font-family="'Liberation Serif','Times New Roman',serif" text-anchor='end' fill='#111' stroke='#111' stroke-width='0.12'>Viral myocarditis</text>
<circle cx='350.2' cy='320.8' r='0.85' fill='#d8188c'/>
<text transform='translate(341.20 332.45) scale(0.8197 1)' font-size='7.75' font-family="'Liberation Serif','Times New Roman',serif" text-anchor='end' fill='#111' stroke='#111' stroke-width='0.12'>Melanogenesis</text>
<circle cx='350.2' cy='330.2' r='0.85' fill='#c818a8'/>
<text transform='translate(341.20 341.90) scale(0.8197 1)' font-size='7.75' font-family="'Liberation Serif','Times New Roman',serif" text-anchor='end' fill='#111' stroke='#111' stroke-width='0.12'>T cell receptor signaling pathway</text>
<circle cx='350.2' cy='339.7' r='0.85' fill='#a818c8'/>
<text transform='translate(341.20 351.35) scale(0.8197 1)' font-size='7.75' font-family="'Liberation Serif','Times New Roman',serif" text-anchor='end' fill='#111' stroke='#111' stroke-width='0.12'>Osteoclast differentiation</text>
<circle cx='350.2' cy='349.1' r='0.85' fill='#8c10e0'/>
<text transform='translate(341.20 360.80) scale(0.8197 1)' font-size='7.75' font-family="'Liberation Serif','Times New Roman',serif" text-anchor='end' fill='#111' stroke='#111' stroke-width='0.12'>Natural killer cell mediated cytotoxicity</text>
<circle cx='350.2' cy='358.6' r='0.85' fill='#7010ee'/>
<text x='353.30' y='367.60' font-size='2.6' font-family="'Liberation Sans',Arial,sans-serif" text-anchor='middle' fill='#444'>0.12</text>
<text x='392.55' y='367.60' font-size='2.6' font-family="'Liberation Sans',Arial,sans-serif" text-anchor='middle' fill='#444'>0.15</text>
<text x='431.80' y='367.60' font-size='2.6' font-family="'Liberation Sans',Arial,sans-serif" text-anchor='middle' fill='#444'>0.18</text>
<text x='471.05' y='367.60' font-size='2.6' font-family="'Liberation Sans',Arial,sans-serif" text-anchor='middle' fill='#444'>0.21</text>
<text x='510.30' y='367.60' font-size='2.6' font-family="'Liberation Sans',Arial,sans-serif" text-anchor='middle' fill='#444'>0.24</text>
<text x='427.20' y='371.40' font-size='2.8' font-family="'Liberation Sans',Arial,sans-serif" text-anchor='middle' fill='#333'>GeneRatio</text>
<text x='515.30' y='265.00' font-size='2.8' font-family="'Liberation Sans',Arial,sans-serif" text-anchor='start' fill='#333'>Count</text>
<circle cx='517.9' cy='268.8' r='0.6' fill='#000'/>
<text x='521.60' y='269.70' font-size='2.4' font-family="'Liberation Sans',Arial,sans-serif" text-anchor='start' fill='#333'>2.0</text>
<circle cx='517.9' cy='273.4' r='1.35' fill='#000'/>
<text x='521.60' y='274.30' font-size='2.4' font-family="'Liberation Sans',Arial,sans-serif" text-anchor='start' fill='#333'>2.5</text>
<circle cx='517.9' cy='277.8' r='1.6' fill='#000'/>
<text x='521.60' y='278.70' font-size='2.4' font-family="'Liberation Sans',Arial,sans-serif" text-anchor='start' fill='#333'>3.0</text>
<circle cx='517.9' cy='282.7' r='1.9' fill='#000'/>
<text x='521.60' y='283.60' font-size='2.4' font-family="'Liberation Sans',Arial,sans-serif" text-anchor='start' fill='#333'>3.5</text>
<circle cx='517.9' cy='288.2' r='2.15' fill='#000'/>
<text x='521.60' y='289.10' font-size='2.4' font-family="'Liberation Sans',Arial,sans-serif" text-anchor='start' fill='#333'>4.0</text>
<text x='515.30' y='299.30' font-size='2.8' font-family="'Liberation Sans',Arial,sans-serif" text-anchor='start' fill='#333'>pvalue</text>
<defs><linearGradient id='gd' x1='0' y1='0' x2='0' y2='1'><stop offset='0' stop-color='#ff0000'/><stop offset='0.5' stop-color='#d0109a'/><stop offset='1' stop-color='#5a30ff'/></linearGradient></defs>
<rect x='515.4' y='300.9' width='4.3' height='21.7' fill='url(#gd)'/>
<text x='521.20' y='306.20' font-size='2.4' font-family="'Liberation Sans',Arial,sans-serif" text-anchor='start' fill='#333'>0.01</text>
<text x='521.20' y='311.00' font-size='2.4' font-family="'Liberation Sans',Arial,sans-serif" text-anchor='start' fill='#333'>0.02</text>
<text x='521.20' y='315.60' font-size='2.4' font-family="'Liberation Sans',Arial,sans-serif" text-anchor='start' fill='#333'>0.03</text>
<text x='521.20' y='320.30' font-size='2.4' font-family="'Liberation Sans',Arial,sans-serif" text-anchor='start' fill='#333'>0.04</text>
<defs><linearGradient id='gbar' x1='0' y1='0' x2='0' y2='1'><stop offset='0' stop-color='#ff0000'/><stop offset='0.55' stop-color='#c0108e'/><stop offset='1' stop-color='#3030ff'/></linearGradient></defs>
<rect x='167.6' y='408.8' width='95.4' height='106.99999999999994' fill='#fff' stroke='#cfcfcf' stroke-width='0.6'/>
<line x1='194.1' y1='408.8' x2='194.1' y2='515.8' stroke='#f0f0f0' stroke-width='0.5'/>
<line x1='219.9' y1='408.8' x2='219.9' y2='515.8' stroke='#f0f0f0' stroke-width='0.5'/>
<line x1='245.7' y1='408.8' x2='245.7' y2='515.8' stroke='#f0f0f0' stroke-width='0.5'/>
<line x1='167.6' y1='413.0' x2='263.0' y2='413.0' stroke='#f0f0f0' stroke-width='0.5'/>
<line x1='167.6' y1='420.1' x2='263.0' y2='420.1' stroke='#f0f0f0' stroke-width='0.5'/>
<line x1='167.6' y1='427.2' x2='263.0' y2='427.2' stroke='#f0f0f0' stroke-width='0.5'/>
<line x1='167.6' y1='434.4' x2='263.0' y2='434.4' stroke='#f0f0f0' stroke-width='0.5'/>
<line x1='167.6' y1='441.5' x2='263.0' y2='441.5' stroke='#f0f0f0' stroke-width='0.5'/>
<line x1='167.6' y1='448.6' x2='263.0' y2='448.6' stroke='#f0f0f0' stroke-width='0.5'/>
<line x1='167.6' y1='455.7' x2='263.0' y2='455.7' stroke='#f0f0f0' stroke-width='0.5'/>
<line x1='167.6' y1='462.8' x2='263.0' y2='462.8' stroke='#f0f0f0' stroke-width='0.5'/>
<line x1='167.6' y1='470.0' x2='263.0' y2='470.0' stroke='#f0f0f0' stroke-width='0.5'/>
<line x1='167.6' y1='477.1' x2='263.0' y2='477.1' stroke='#f0f0f0' stroke-width='0.5'/>
<line x1='167.6' y1='484.2' x2='263.0' y2='484.2' stroke='#f0f0f0' stroke-width='0.5'/>
<line x1='167.6' y1='491.3' x2='263.0' y2='491.3' stroke='#f0f0f0' stroke-width='0.5'/>
<line x1='167.6' y1='498.4' x2='263.0' y2='498.4' stroke='#f0f0f0' stroke-width='0.5'/>
<line x1='167.6' y1='505.6' x2='263.0' y2='505.6' stroke='#f0f0f0' stroke-width='0.5'/>
<line x1='167.6' y1='512.7' x2='263.0' y2='512.7' stroke='#f0f0f0' stroke-width='0.5'/>
<rect x='168.3' y='410.10' width='90.30' height='5.8' fill='#ff0000'/>
<text transform='translate(163.60 414.80) scale(0.8333 1)' font-size='6.30' font-family="'Liberation Serif','Times New Roman',serif" text-anchor='end' fill='#111' stroke='#111' stroke-width='0.12'>Epithelial cell proliferation</text>
<rect x='168.3' y='417.22' width='38.70' height='5.8' fill='#f2001f'/>
<text transform='translate(163.60 421.92) scale(0.8333 1)' font-size='6.30' font-family="'Liberation Serif','Times New Roman',serif" text-anchor='end' fill='#111' stroke='#111' stroke-width='0.12'>Positive regulation of acute inflammatory response</text>
<rect x='168.3' y='424.34' width='51.60' height='5.8' fill='#de0060'/>
<text transform='translate(163.60 429.04) scale(0.8333 1)' font-size='6.30' font-family="'Liberation Serif','Times New Roman',serif" text-anchor='end' fill='#111' stroke='#111' stroke-width='0.12'>Regulation of endothelial cell proliferation</text>
<rect x='168.3' y='431.46' width='38.70' height='5.8' fill='#de0060'/>
<text transform='translate(163.60 436.16) scale(0.8333 1)' font-size='6.30' font-family="'Liberation Serif','Times New Roman',serif" text-anchor='end' fill='#111' stroke='#111' stroke-width='0.12'>Response to fungus</text>
<rect x='168.3' y='438.58' width='64.50' height='5.8' fill='#da0066'/>
<text transform='translate(163.60 443.28) scale(0.8333 1)' font-size='6.30' font-family="'Liberation Serif','Times New Roman',serif" text-anchor='end' fill='#111' stroke='#111' stroke-width='0.12'>Negative regulation of cytokine production</text>
<rect x='168.3' y='445.70' width='25.80' height='5.8' fill='#d8006a'/>
<text transform='translate(163.60 450.40) scale(0.8333 1)' font-size='6.30' font-family="'Liberation Serif','Times New Roman',serif" text-anchor='end' fill='#111' stroke='#111' stroke-width='0.12'>Positive regulation of synaptic transmission, cholinergic</text>
<rect x='168.3' y='452.82' width='38.70' height='5.8' fill='#de0062'/>
<text transform='translate(163.60 457.52) scale(0.8333 1)' font-size='6.30' font-family="'Liberation Serif','Times New Roman',serif" text-anchor='end' fill='#111' stroke='#111' stroke-width='0.12'>Regulation of acute inflammatory response</text>
<rect x='168.3' y='459.94' width='25.80' height='5.8' fill='#d8006c'/>
<text transform='translate(163.60 464.64) scale(0.8333 1)' font-size='6.30' font-family="'Liberation Serif','Times New Roman',serif" text-anchor='end' fill='#111' stroke='#111' stroke-width='0.12'>Regulation of presynaptic cytosolic calcium ion concentration</text>
<rect x='168.3' y='467.06' width='25.80' height='5.8' fill='#d8006c'/>
<text transform='translate(163.60 471.76) scale(0.8333 1)' font-size='6.30' font-family="'Liberation Serif','Times New Roman',serif" text-anchor='end' fill='#111' stroke='#111' stroke-width='0.12'>Regulation of glucocorticoid secretion</text>
<rect x='168.3' y='474.18' width='51.60' height='5.8' fill='#d40074'/>
<text transform='translate(163.60 478.88) scale(0.8333 1)' font-size='6.30' font-family="'Liberation Serif','Times New Roman',serif" text-anchor='end' fill='#111' stroke='#111' stroke-width='0.12'>Endothelial cell proliferation</text>
<rect x='168.3' y='481.30' width='25.80' height='5.8' fill='#c80088'/>
<text transform='translate(163.60 486.00) scale(0.8333 1)' font-size='6.30' font-family="'Liberation Serif','Times New Roman',serif" text-anchor='end' fill='#111' stroke='#111' stroke-width='0.12'>Negative regulation of heart rate</text>
<rect x='168.3' y='488.42' width='25.80' height='5.8' fill='#c4008e'/>
<text transform='translate(163.60 493.12) scale(0.8333 1)' font-size='6.30' font-family="'Liberation Serif','Times New Roman',serif" text-anchor='end' fill='#111' stroke='#111' stroke-width='0.12'>glucocorticoid secretion</text>
<rect x='168.3' y='495.54' width='25.80' height='5.8' fill='#8000d8'/>
<text transform='translate(163.60 500.24) scale(0.8333 1)' font-size='6.30' font-family="'Liberation Serif','Times New Roman',serif" text-anchor='end' fill='#111' stroke='#111' stroke-width='0.12'>Regulation of synaptic transmission, cholinergic</text>
<rect x='168.3' y='502.66' width='25.80' height='5.8' fill='#7a00dc'/>
<text transform='translate(163.60 507.36) scale(0.8333 1)' font-size='6.30' font-family="'Liberation Serif','Times New Roman',serif" text-anchor='end' fill='#111' stroke='#111' stroke-width='0.12'>Positive regulation of action potential</text>
<rect x='168.3' y='509.78' width='51.60' height='5.8' fill='#0a0aff'/>
<text transform='translate(163.60 514.48) scale(0.8333 1)' font-size='6.30' font-family="'Liberation Serif','Times New Roman',serif" text-anchor='end' fill='#111' stroke='#111' stroke-width='0.12'>Negative regulation of endopeptidase activity</text>
<line x1='168.3' y1='515.8' x2='168.3' y2='517.0' stroke='#888' stroke-width='0.3'/>
<text x='168.30' y='519.00' font-size='2.2' font-family="'Liberation Sans',Arial,sans-serif" text-anchor='middle' fill='#666'>0</text>
<line x1='194.1' y1='515.8' x2='194.1' y2='517.0' stroke='#888' stroke-width='0.3'/>
<text x='194.10' y='519.00' font-size='2.2' font-family="'Liberation Sans',Arial,sans-serif" text-anchor='middle' fill='#666'>2</text>
<line x1='219.9' y1='515.8' x2='219.9' y2='517.0' stroke='#888' stroke-width='0.3'/>
<text x='219.90' y='519.00' font-size='2.2' font-family="'Liberation Sans',Arial,sans-serif" text-anchor='middle' fill='#666'>4</text>
<line x1='245.7' y1='515.8' x2='245.7' y2='517.0' stroke='#888' stroke-width='0.3'/>
<text x='245.70' y='519.00' font-size='2.2' font-family="'Liberation Sans',Arial,sans-serif" text-anchor='middle' fill='#666'>6</text>
<path d='M36.2 409.2 H31.2 V514.5 H36.2' fill='none' stroke='#777' stroke-width='0.6'/>
<text transform='translate(30.40 463.60) scale(0.8000 1)' font-size='6.00' font-family="'Liberation Serif','Times New Roman',serif" text-anchor='end' font-weight='bold' fill='#000'>BP</text>
<rect x='266.2' y='456.0' width='2.9' height='16.3' fill='url(#gbar)'/>
<text x='266.20' y='454.70' font-size='1.9' font-family="'Liberation Sans',Arial,sans-serif" text-anchor='start' fill='#444'>pvalue</text>
<line x1='269.09999999999997' y1='459.0' x2='269.8' y2='459.0' stroke='#fff' stroke-width='0.3'/>
<text x='270.40' y='459.70' font-size='1.9' font-family="'Liberation Sans',Arial,sans-serif" text-anchor='start' fill='#555'>2.0</text>
<line x1='269.09999999999997' y1='462.4' x2='269.8' y2='462.4' stroke='#fff' stroke-width='0.3'/>
<text x='270.40' y='463.10' font-size='1.9' font-family="'Liberation Sans',Arial,sans-serif" text-anchor='start' fill='#555'>4.0</text>
<line x1='269.09999999999997' y1='465.8' x2='269.8' y2='465.8' stroke='#fff' stroke-width='0.3'/>
<text x='270.40' y='466.50' font-size='1.9' font-family="'Liberation Sans',Arial,sans-serif" text-anchor='start' fill='#555'>6.0</text>
<line x1='269.09999999999997' y1='469.4' x2='269.8' y2='469.4' stroke='#fff' stroke-width='0.3'/>
<text x='270.40' y='470.10' font-size='1.9' font-family="'Liberation Sans',Arial,sans-serif" text-anchor='start' fill='#555'>8.0</text>
<rect x='424.2' y='409.2' width='91.80000000000001' height='109.30000000000001' fill='#fff' stroke='#cfcfcf' stroke-width='0.6'/>
<line x1='442.3' y1='409.2' x2='442.3' y2='518.5' stroke='#f0f0f0' stroke-width='0.5'/>
<line x1='459.8' y1='409.2' x2='459.8' y2='518.5' stroke='#f0f0f0' stroke-width='0.5'/>
<line x1='477.2' y1='409.2' x2='477.2' y2='518.5' stroke='#f0f0f0' stroke-width='0.5'/>
<line x1='494.7' y1='409.2' x2='494.7' y2='518.5' stroke='#f0f0f0' stroke-width='0.5'/>
<line x1='512.1' y1='409.2' x2='512.1' y2='518.5' stroke='#f0f0f0' stroke-width='0.5'/>
<line x1='424.2' y1='413.1' x2='516.0' y2='413.1' stroke='#f0f0f0' stroke-width='0.5'/>
<line x1='424.2' y1='420.3' x2='516.0' y2='420.3' stroke='#f0f0f0' stroke-width='0.5'/>
<line x1='424.2' y1='427.6' x2='516.0' y2='427.6' stroke='#f0f0f0' stroke-width='0.5'/>
<line x1='424.2' y1='434.8' x2='516.0' y2='434.8' stroke='#f0f0f0' stroke-width='0.5'/>
<line x1='424.2' y1='442.1' x2='516.0' y2='442.1' stroke='#f0f0f0' stroke-width='0.5'/>
<line x1='424.2' y1='449.3' x2='516.0' y2='449.3' stroke='#f0f0f0' stroke-width='0.5'/>
<line x1='424.2' y1='456.5' x2='516.0' y2='456.5' stroke='#f0f0f0' stroke-width='0.5'/>
<line x1='424.2' y1='463.8' x2='516.0' y2='463.8' stroke='#f0f0f0' stroke-width='0.5'/>
<line x1='424.2' y1='471.0' x2='516.0' y2='471.0' stroke='#f0f0f0' stroke-width='0.5'/>
<line x1='424.2' y1='478.3' x2='516.0' y2='478.3' stroke='#f0f0f0' stroke-width='0.5'/>
<line x1='424.2' y1='485.5' x2='516.0' y2='485.5' stroke='#f0f0f0' stroke-width='0.5'/>
<line x1='424.2' y1='492.7' x2='516.0' y2='492.7' stroke='#f0f0f0' stroke-width='0.5'/>
<line x1='424.2' y1='500.0' x2='516.0' y2='500.0' stroke='#f0f0f0' stroke-width='0.5'/>
<line x1='424.2' y1='507.2' x2='516.0' y2='507.2' stroke='#f0f0f0' stroke-width='0.5'/>
<line x1='424.2' y1='514.5' x2='516.0' y2='514.5' stroke='#f0f0f0' stroke-width='0.5'/>
<rect x='424.9' y='410.10' width='87.25' height='6.0' fill='#ff0000'/>
<text transform='translate(420.00 414.90) scale(0.8333 1)' font-size='6.52' font-family="'Liberation Serif','Times New Roman',serif" text-anchor='end' fill='#111' stroke='#111' stroke-width='0.12'>Motor activity</text>
<rect x='424.9' y='417.34' width='34.90' height='6.0' fill='#f80010'/>
<text transform='translate(420.00 422.14) scale(0.8333 1)' font-size='6.52' font-family="'Liberation Serif','Times New Roman',serif" text-anchor='end' fill='#111' stroke='#111' stroke-width='0.12'>Protein-hormone receptor activity</text>
<rect x='424.9' y='424.58' width='69.80' height='6.0' fill='#f4001a'/>
<text transform='translate(420.00 429.38) scale(0.8333 1)' font-size='6.52' font-family="'Liberation Serif','Times New Roman',serif" text-anchor='end' fill='#111' stroke='#111' stroke-width='0.12'>Actin filament binding</text>
<rect x='424.9' y='431.82' width='34.90' height='6.0' fill='#ec0036'/>
<text transform='translate(420.00 436.62) scale(0.8333 1)' font-size='6.52' font-family="'Liberation Serif','Times New Roman',serif" text-anchor='end' fill='#111' stroke='#111' stroke-width='0.12'>Neuropeptide receptor binding</text>
<rect x='424.9' y='439.06' width='52.35' height='6.0' fill='#ea0038'/>
<text transform='translate(420.00 443.86) scale(0.8333 1)' font-size='6.52' font-family="'Liberation Serif','Times New Roman',serif" text-anchor='end' fill='#111' stroke='#111' stroke-width='0.12'>Serine-type endopeptidase inhibitor activity</text>
<rect x='424.9' y='446.30' width='52.35' height='6.0' fill='#ea003a'/>
<text transform='translate(420.00 451.10) scale(0.8333 1)' font-size='6.52' font-family="'Liberation Serif','Times New Roman',serif" text-anchor='end' fill='#111' stroke='#111' stroke-width='0.12'>Protein tyrosine kinase activity</text>
<rect x='424.9' y='453.54' width='34.90' height='6.0' fill='#e4004c'/>
<text transform='translate(420.00 458.34) scale(0.8333 1)' font-size='6.52' font-family="'Liberation Serif','Times New Roman',serif" text-anchor='end' fill='#111' stroke='#111' stroke-width='0.12'>Non-membrane spanning protein tyrosine kinase activity</text>
<rect x='424.9' y='460.78' width='69.80' height='6.0' fill='#c0008a'/>
<text transform='translate(420.00 465.58) scale(0.8333 1)' font-size='6.52' font-family="'Liberation Serif','Times New Roman',serif" text-anchor='end' fill='#111' stroke='#111' stroke-width='0.12'>Enzyme inhibitor activity</text>
<rect x='424.9' y='468.02' width='52.35' height='6.0' fill='#b0009e'/>
<text transform='translate(420.00 472.82) scale(0.8333 1)' font-size='6.52' font-family="'Liberation Serif','Times New Roman',serif" text-anchor='end' fill='#111' stroke='#111' stroke-width='0.12'>Endopeptidase inhibitor activity</text>
<rect x='424.9' y='475.26' width='52.35' height='6.0' fill='#a800a8'/>
<text transform='translate(420.00 480.06) scale(0.8333 1)' font-size='6.52' font-family="'Liberation Serif','Times New Roman',serif" text-anchor='end' fill='#111' stroke='#111' stroke-width='0.12'>Peptidase inhibitor activity</text>
<rect x='424.9' y='482.50' width='52.35' height='6.0' fill='#a000b0'/>
<text transform='translate(420.00 487.30) scale(0.8333 1)' font-size='6.52' font-family="'Liberation Serif','Times New Roman',serif" text-anchor='end' fill='#111' stroke='#111' stroke-width='0.12'>Endopeptidase regulator activity</text>
<rect x='424.9' y='489.74' width='69.80' height='6.0' fill='#9400c0'/>
<text transform='translate(420.00 494.54) scale(0.8333 1)' font-size='6.52' font-family="'Liberation Serif','Times New Roman',serif" text-anchor='end' fill='#111' stroke='#111' stroke-width='0.12'>Actin binding</text>
<rect x='424.9' y='496.98' width='69.80' height='6.0' fill='#8c00c8'/>
<text transform='translate(420.00 501.78) scale(0.8333 1)' font-size='6.52' font-family="'Liberation Serif','Times New Roman',serif" text-anchor='end' fill='#111' stroke='#111' stroke-width='0.12'>Protein serine/threonine kinase activity</text>
<rect x='424.9' y='504.22' width='34.90' height='6.0' fill='#7000e0'/>
<text transform='translate(420.00 509.02) scale(0.8333 1)' font-size='6.52' font-family="'Liberation Serif','Times New Roman',serif" text-anchor='end' fill='#111' stroke='#111' stroke-width='0.12'>Double-stranded RNA binding</text>
<rect x='424.9' y='511.46' width='52.35' height='6.0' fill='#1010f8'/>
<text transform='translate(420.00 516.26) scale(0.8333 1)' font-size='6.52' font-family="'Liberation Serif','Times New Roman',serif" text-anchor='end' fill='#111' stroke='#111' stroke-width='0.12'>Peptidase regulator activity</text>
<line x1='424.9' y1='518.5' x2='424.9' y2='519.7' stroke='#888' stroke-width='0.3'/>
<text x='424.90' y='521.70' font-size='2.2' font-family="'Liberation Sans',Arial,sans-serif" text-anchor='middle' fill='#666'>0</text>
<line x1='442.3' y1='518.5' x2='442.3' y2='519.7' stroke='#888' stroke-width='0.3'/>
<text x='442.35' y='521.70' font-size='2.2' font-family="'Liberation Sans',Arial,sans-serif" text-anchor='middle' fill='#666'>1</text>
<line x1='459.8' y1='518.5' x2='459.8' y2='519.7' stroke='#888' stroke-width='0.3'/>
<text x='459.80' y='521.70' font-size='2.2' font-family="'Liberation Sans',Arial,sans-serif" text-anchor='middle' fill='#666'>2</text>
<line x1='477.2' y1='518.5' x2='477.2' y2='519.7' stroke='#888' stroke-width='0.3'/>
<text x='477.25' y='521.70' font-size='2.2' font-family="'Liberation Sans',Arial,sans-serif" text-anchor='middle' fill='#666'>3</text>
<line x1='494.7' y1='518.5' x2='494.7' y2='519.7' stroke='#888' stroke-width='0.3'/>
<text x='494.70' y='521.70' font-size='2.2' font-family="'Liberation Sans',Arial,sans-serif" text-anchor='middle' fill='#666'>4</text>
<line x1='512.1' y1='518.5' x2='512.1' y2='519.7' stroke='#888' stroke-width='0.3'/>
<text x='512.15' y='521.70' font-size='2.2' font-family="'Liberation Sans',Arial,sans-serif" text-anchor='middle' fill='#666'>5</text>
<path d='M300.0 410.2 H295.0 V517.0 H300.0' fill='none' stroke='#777' stroke-width='0.6'/>
<text transform='translate(293.60 457.40) scale(0.8000 1)' font-size='6.00' font-family="'Liberation Serif','Times New Roman',serif" text-anchor='end' font-weight='bold' fill='#000'>MF</text>
<rect x='518.8' y='457.1' width='2.9' height='16.7' fill='url(#gbar)'/>
<text x='518.80' y='455.80' font-size='1.9' font-family="'Liberation Sans',Arial,sans-serif" text-anchor='start' fill='#444'>pvalue</text>
<line x1='521.6999999999999' y1='463.0' x2='522.4' y2='463.0' stroke='#fff' stroke-width='0.3'/>
<text x='523.00' y='463.70' font-size='1.9' font-family="'Liberation Sans',Arial,sans-serif" text-anchor='start' fill='#555'>0.02</text>
<line x1='521.6999999999999' y1='468.6' x2='522.4' y2='468.6' stroke='#fff' stroke-width='0.3'/>
<text x='523.00' y='469.30' font-size='1.9' font-family="'Liberation Sans',Arial,sans-serif" text-anchor='start' fill='#555'>0.04</text>
<text x='137.4' y='178.4' font-size='11.4' font-family="'Liberation Serif','Times New Roman',serif" text-anchor='middle' fill='#000'>(<tspan font-weight='bold'>A</tspan>)</text>
<text x='412.3' y='178.4' font-size='11.4' font-family="'Liberation Serif','Times New Roman',serif" text-anchor='middle' fill='#000'>(<tspan font-weight='bold'>B</tspan>)</text>
<text x='137.3' y='401.4' font-size='11.4' font-family="'Liberation Serif','Times New Roman',serif" text-anchor='middle' fill='#000'>(C)</text>
<text x='412.1' y='401.4' font-size='11.4' font-family="'Liberation Serif','Times New Roman',serif" text-anchor='middle' fill='#000'>(<tspan font-weight='bold'>D</tspan>)</text>
<text x='137.3' y='534.1' font-size='11.4' font-family="'Liberation Serif','Times New Roman',serif" text-anchor='middle' fill='#000'>(<tspan font-weight='bold'>E</tspan>)</text>
<text x='411.9' y='534.1' font-size='11.4' font-family="'Liberation Serif','Times New Roman',serif" text-anchor='middle' fill='#000'>(<tspan font-weight='bold'>F</tspan>)</text>
</svg></body></html>
